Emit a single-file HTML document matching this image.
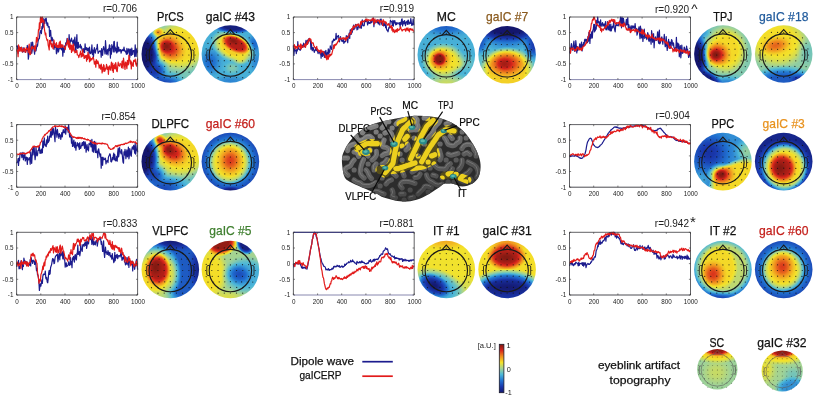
<!DOCTYPE html><html><head><meta charset="utf-8"><title>Figure</title><style>html,body{margin:0;padding:0;background:#fff;}svg{display:block;}</style></head><body><svg width="815" height="399" viewBox="0 0 815 399" font-family='"Liberation Sans", sans-serif'><defs><filter id="jet" x="-5%" y="-5%" width="110%" height="110%" color-interpolation-filters="sRGB">
<feComponentTransfer>
<feFuncR type="table" tableValues="0.08 0.10 0.13 0.30 0.64 0.96 0.94 0.84 0.49"/>
<feFuncG type="table" tableValues="0.09 0.22 0.45 0.72 0.83 0.89 0.55 0.14 0.10"/>
<feFuncB type="table" tableValues="0.43 0.68 0.82 0.85 0.58 0.16 0.12 0.11 0.07"/>
</feComponentTransfer></filter><clipPath id="c1"><circle cx="170.3" cy="54.0" r="28.8"/></clipPath><radialGradient id="g1_0"><stop offset="0" stop-color="rgb(163,163,163)" stop-opacity="1.000"/><stop offset="0.5" stop-color="rgb(163,163,163)" stop-opacity="1.000"/><stop offset="0.7" stop-color="rgb(163,163,163)" stop-opacity="0.700"/><stop offset="0.85" stop-color="rgb(163,163,163)" stop-opacity="0.300"/><stop offset="1" stop-color="rgb(163,163,163)" stop-opacity="0.000"/></radialGradient><radialGradient id="g1_1"><stop offset="0" stop-color="rgb(36,36,36)" stop-opacity="1.000"/><stop offset="0.2" stop-color="rgb(36,36,36)" stop-opacity="0.920"/><stop offset="0.4" stop-color="rgb(36,36,36)" stop-opacity="0.720"/><stop offset="0.6" stop-color="rgb(36,36,36)" stop-opacity="0.420"/><stop offset="0.8" stop-color="rgb(36,36,36)" stop-opacity="0.150"/><stop offset="1" stop-color="rgb(36,36,36)" stop-opacity="0.000"/></radialGradient><radialGradient id="g1_2"><stop offset="0" stop-color="rgb(115,115,115)" stop-opacity="0.700"/><stop offset="0.2" stop-color="rgb(115,115,115)" stop-opacity="0.644"/><stop offset="0.4" stop-color="rgb(115,115,115)" stop-opacity="0.504"/><stop offset="0.6" stop-color="rgb(115,115,115)" stop-opacity="0.294"/><stop offset="0.8" stop-color="rgb(115,115,115)" stop-opacity="0.105"/><stop offset="1" stop-color="rgb(115,115,115)" stop-opacity="0.000"/></radialGradient><radialGradient id="g1_3"><stop offset="0" stop-color="rgb(0,0,0)" stop-opacity="1.000"/><stop offset="0.5" stop-color="rgb(0,0,0)" stop-opacity="1.000"/><stop offset="0.7" stop-color="rgb(0,0,0)" stop-opacity="0.700"/><stop offset="0.85" stop-color="rgb(0,0,0)" stop-opacity="0.300"/><stop offset="1" stop-color="rgb(0,0,0)" stop-opacity="0.000"/></radialGradient><radialGradient id="g1_4"><stop offset="0" stop-color="rgb(26,26,26)" stop-opacity="0.950"/><stop offset="0.2" stop-color="rgb(26,26,26)" stop-opacity="0.874"/><stop offset="0.4" stop-color="rgb(26,26,26)" stop-opacity="0.684"/><stop offset="0.6" stop-color="rgb(26,26,26)" stop-opacity="0.399"/><stop offset="0.8" stop-color="rgb(26,26,26)" stop-opacity="0.142"/><stop offset="1" stop-color="rgb(26,26,26)" stop-opacity="0.000"/></radialGradient><radialGradient id="g1_5"><stop offset="0" stop-color="rgb(204,204,204)" stop-opacity="0.850"/><stop offset="0.2" stop-color="rgb(204,204,204)" stop-opacity="0.782"/><stop offset="0.4" stop-color="rgb(204,204,204)" stop-opacity="0.612"/><stop offset="0.6" stop-color="rgb(204,204,204)" stop-opacity="0.357"/><stop offset="0.8" stop-color="rgb(204,204,204)" stop-opacity="0.128"/><stop offset="1" stop-color="rgb(204,204,204)" stop-opacity="0.000"/></radialGradient><radialGradient id="g1_6"><stop offset="0" stop-color="rgb(230,230,230)" stop-opacity="1.000"/><stop offset="0.2" stop-color="rgb(230,230,230)" stop-opacity="0.920"/><stop offset="0.4" stop-color="rgb(230,230,230)" stop-opacity="0.720"/><stop offset="0.6" stop-color="rgb(230,230,230)" stop-opacity="0.420"/><stop offset="0.8" stop-color="rgb(230,230,230)" stop-opacity="0.150"/><stop offset="1" stop-color="rgb(230,230,230)" stop-opacity="0.000"/></radialGradient><radialGradient id="g1_7"><stop offset="0" stop-color="rgb(255,255,255)" stop-opacity="0.900"/><stop offset="0.2" stop-color="rgb(255,255,255)" stop-opacity="0.828"/><stop offset="0.4" stop-color="rgb(255,255,255)" stop-opacity="0.648"/><stop offset="0.6" stop-color="rgb(255,255,255)" stop-opacity="0.378"/><stop offset="0.8" stop-color="rgb(255,255,255)" stop-opacity="0.135"/><stop offset="1" stop-color="rgb(255,255,255)" stop-opacity="0.000"/></radialGradient><clipPath id="c2"><circle cx="230.4" cy="54.0" r="28.8"/></clipPath><radialGradient id="g2_0"><stop offset="0" stop-color="rgb(8,8,8)" stop-opacity="1.000"/><stop offset="0.5" stop-color="rgb(8,8,8)" stop-opacity="1.000"/><stop offset="0.7" stop-color="rgb(8,8,8)" stop-opacity="0.700"/><stop offset="0.85" stop-color="rgb(8,8,8)" stop-opacity="0.300"/><stop offset="1" stop-color="rgb(8,8,8)" stop-opacity="0.000"/></radialGradient><radialGradient id="g2_1"><stop offset="0" stop-color="rgb(51,51,51)" stop-opacity="0.800"/><stop offset="0.2" stop-color="rgb(51,51,51)" stop-opacity="0.736"/><stop offset="0.4" stop-color="rgb(51,51,51)" stop-opacity="0.576"/><stop offset="0.6" stop-color="rgb(51,51,51)" stop-opacity="0.336"/><stop offset="0.8" stop-color="rgb(51,51,51)" stop-opacity="0.120"/><stop offset="1" stop-color="rgb(51,51,51)" stop-opacity="0.000"/></radialGradient><radialGradient id="g2_2"><stop offset="0" stop-color="rgb(51,51,51)" stop-opacity="0.850"/><stop offset="0.2" stop-color="rgb(51,51,51)" stop-opacity="0.782"/><stop offset="0.4" stop-color="rgb(51,51,51)" stop-opacity="0.612"/><stop offset="0.6" stop-color="rgb(51,51,51)" stop-opacity="0.357"/><stop offset="0.8" stop-color="rgb(51,51,51)" stop-opacity="0.128"/><stop offset="1" stop-color="rgb(51,51,51)" stop-opacity="0.000"/></radialGradient><radialGradient id="g2_3"><stop offset="0" stop-color="rgb(64,64,64)" stop-opacity="0.700"/><stop offset="0.2" stop-color="rgb(64,64,64)" stop-opacity="0.644"/><stop offset="0.4" stop-color="rgb(64,64,64)" stop-opacity="0.504"/><stop offset="0.6" stop-color="rgb(64,64,64)" stop-opacity="0.294"/><stop offset="0.8" stop-color="rgb(64,64,64)" stop-opacity="0.105"/><stop offset="1" stop-color="rgb(64,64,64)" stop-opacity="0.000"/></radialGradient><radialGradient id="g2_4"><stop offset="0" stop-color="rgb(64,64,64)" stop-opacity="0.700"/><stop offset="0.2" stop-color="rgb(64,64,64)" stop-opacity="0.644"/><stop offset="0.4" stop-color="rgb(64,64,64)" stop-opacity="0.504"/><stop offset="0.6" stop-color="rgb(64,64,64)" stop-opacity="0.294"/><stop offset="0.8" stop-color="rgb(64,64,64)" stop-opacity="0.105"/><stop offset="1" stop-color="rgb(64,64,64)" stop-opacity="0.000"/></radialGradient><radialGradient id="g2_5"><stop offset="0" stop-color="rgb(122,122,122)" stop-opacity="0.800"/><stop offset="0.2" stop-color="rgb(122,122,122)" stop-opacity="0.736"/><stop offset="0.4" stop-color="rgb(122,122,122)" stop-opacity="0.576"/><stop offset="0.6" stop-color="rgb(122,122,122)" stop-opacity="0.336"/><stop offset="0.8" stop-color="rgb(122,122,122)" stop-opacity="0.120"/><stop offset="1" stop-color="rgb(122,122,122)" stop-opacity="0.000"/></radialGradient><radialGradient id="g2_6"><stop offset="0" stop-color="rgb(166,166,166)" stop-opacity="1.000"/><stop offset="0.5" stop-color="rgb(166,166,166)" stop-opacity="1.000"/><stop offset="0.7" stop-color="rgb(166,166,166)" stop-opacity="0.700"/><stop offset="0.85" stop-color="rgb(166,166,166)" stop-opacity="0.300"/><stop offset="1" stop-color="rgb(166,166,166)" stop-opacity="0.000"/></radialGradient><radialGradient id="g2_7"><stop offset="0" stop-color="rgb(158,158,158)" stop-opacity="0.900"/><stop offset="0.2" stop-color="rgb(158,158,158)" stop-opacity="0.828"/><stop offset="0.4" stop-color="rgb(158,158,158)" stop-opacity="0.648"/><stop offset="0.6" stop-color="rgb(158,158,158)" stop-opacity="0.378"/><stop offset="0.8" stop-color="rgb(158,158,158)" stop-opacity="0.135"/><stop offset="1" stop-color="rgb(158,158,158)" stop-opacity="0.000"/></radialGradient><radialGradient id="g2_8"><stop offset="0" stop-color="rgb(235,235,235)" stop-opacity="1.000"/><stop offset="0.5" stop-color="rgb(235,235,235)" stop-opacity="1.000"/><stop offset="0.7" stop-color="rgb(235,235,235)" stop-opacity="0.700"/><stop offset="0.85" stop-color="rgb(235,235,235)" stop-opacity="0.300"/><stop offset="1" stop-color="rgb(235,235,235)" stop-opacity="0.000"/></radialGradient><radialGradient id="g2_9"><stop offset="0" stop-color="rgb(255,255,255)" stop-opacity="0.800"/><stop offset="0.2" stop-color="rgb(255,255,255)" stop-opacity="0.736"/><stop offset="0.4" stop-color="rgb(255,255,255)" stop-opacity="0.576"/><stop offset="0.6" stop-color="rgb(255,255,255)" stop-opacity="0.336"/><stop offset="0.8" stop-color="rgb(255,255,255)" stop-opacity="0.120"/><stop offset="1" stop-color="rgb(255,255,255)" stop-opacity="0.000"/></radialGradient><clipPath id="c3"><circle cx="446.3" cy="54.8" r="28.8"/></clipPath><radialGradient id="g3_0"><stop offset="0" stop-color="rgb(51,51,51)" stop-opacity="1.000"/><stop offset="0.2" stop-color="rgb(51,51,51)" stop-opacity="0.920"/><stop offset="0.4" stop-color="rgb(51,51,51)" stop-opacity="0.720"/><stop offset="0.6" stop-color="rgb(51,51,51)" stop-opacity="0.420"/><stop offset="0.8" stop-color="rgb(51,51,51)" stop-opacity="0.150"/><stop offset="1" stop-color="rgb(51,51,51)" stop-opacity="0.000"/></radialGradient><radialGradient id="g3_1"><stop offset="0" stop-color="rgb(143,143,143)" stop-opacity="1.000"/><stop offset="0.2" stop-color="rgb(143,143,143)" stop-opacity="0.920"/><stop offset="0.4" stop-color="rgb(143,143,143)" stop-opacity="0.720"/><stop offset="0.6" stop-color="rgb(143,143,143)" stop-opacity="0.420"/><stop offset="0.8" stop-color="rgb(143,143,143)" stop-opacity="0.150"/><stop offset="1" stop-color="rgb(143,143,143)" stop-opacity="0.000"/></radialGradient><radialGradient id="g3_2"><stop offset="0" stop-color="rgb(115,115,115)" stop-opacity="0.700"/><stop offset="0.2" stop-color="rgb(115,115,115)" stop-opacity="0.644"/><stop offset="0.4" stop-color="rgb(115,115,115)" stop-opacity="0.504"/><stop offset="0.6" stop-color="rgb(115,115,115)" stop-opacity="0.294"/><stop offset="0.8" stop-color="rgb(115,115,115)" stop-opacity="0.105"/><stop offset="1" stop-color="rgb(115,115,115)" stop-opacity="0.000"/></radialGradient><radialGradient id="g3_3"><stop offset="0" stop-color="rgb(163,163,163)" stop-opacity="1.000"/><stop offset="0.5" stop-color="rgb(163,163,163)" stop-opacity="1.000"/><stop offset="0.7" stop-color="rgb(163,163,163)" stop-opacity="0.700"/><stop offset="0.85" stop-color="rgb(163,163,163)" stop-opacity="0.300"/><stop offset="1" stop-color="rgb(163,163,163)" stop-opacity="0.000"/></radialGradient><radialGradient id="g3_4"><stop offset="0" stop-color="rgb(158,158,158)" stop-opacity="0.800"/><stop offset="0.2" stop-color="rgb(158,158,158)" stop-opacity="0.736"/><stop offset="0.4" stop-color="rgb(158,158,158)" stop-opacity="0.576"/><stop offset="0.6" stop-color="rgb(158,158,158)" stop-opacity="0.336"/><stop offset="0.8" stop-color="rgb(158,158,158)" stop-opacity="0.120"/><stop offset="1" stop-color="rgb(158,158,158)" stop-opacity="0.000"/></radialGradient><radialGradient id="g3_5"><stop offset="0" stop-color="rgb(230,230,230)" stop-opacity="1.000"/><stop offset="0.2" stop-color="rgb(230,230,230)" stop-opacity="0.920"/><stop offset="0.4" stop-color="rgb(230,230,230)" stop-opacity="0.720"/><stop offset="0.6" stop-color="rgb(230,230,230)" stop-opacity="0.420"/><stop offset="0.8" stop-color="rgb(230,230,230)" stop-opacity="0.150"/><stop offset="1" stop-color="rgb(230,230,230)" stop-opacity="0.000"/></radialGradient><radialGradient id="g3_6"><stop offset="0" stop-color="rgb(255,255,255)" stop-opacity="0.900"/><stop offset="0.5" stop-color="rgb(255,255,255)" stop-opacity="0.900"/><stop offset="0.7" stop-color="rgb(255,255,255)" stop-opacity="0.630"/><stop offset="0.85" stop-color="rgb(255,255,255)" stop-opacity="0.270"/><stop offset="1" stop-color="rgb(255,255,255)" stop-opacity="0.000"/></radialGradient><clipPath id="c4"><circle cx="507.1" cy="54.8" r="28.8"/></clipPath><radialGradient id="g4_0"><stop offset="0" stop-color="rgb(0,0,0)" stop-opacity="1.000"/><stop offset="0.5" stop-color="rgb(0,0,0)" stop-opacity="1.000"/><stop offset="0.7" stop-color="rgb(0,0,0)" stop-opacity="0.700"/><stop offset="0.85" stop-color="rgb(0,0,0)" stop-opacity="0.300"/><stop offset="1" stop-color="rgb(0,0,0)" stop-opacity="0.000"/></radialGradient><radialGradient id="g4_1"><stop offset="0" stop-color="rgb(20,20,20)" stop-opacity="0.900"/><stop offset="0.2" stop-color="rgb(20,20,20)" stop-opacity="0.828"/><stop offset="0.4" stop-color="rgb(20,20,20)" stop-opacity="0.648"/><stop offset="0.6" stop-color="rgb(20,20,20)" stop-opacity="0.378"/><stop offset="0.8" stop-color="rgb(20,20,20)" stop-opacity="0.135"/><stop offset="1" stop-color="rgb(20,20,20)" stop-opacity="0.000"/></radialGradient><radialGradient id="g4_2"><stop offset="0" stop-color="rgb(31,31,31)" stop-opacity="0.800"/><stop offset="0.2" stop-color="rgb(31,31,31)" stop-opacity="0.736"/><stop offset="0.4" stop-color="rgb(31,31,31)" stop-opacity="0.576"/><stop offset="0.6" stop-color="rgb(31,31,31)" stop-opacity="0.336"/><stop offset="0.8" stop-color="rgb(31,31,31)" stop-opacity="0.120"/><stop offset="1" stop-color="rgb(31,31,31)" stop-opacity="0.000"/></radialGradient><radialGradient id="g4_3"><stop offset="0" stop-color="rgb(64,64,64)" stop-opacity="0.600"/><stop offset="0.2" stop-color="rgb(64,64,64)" stop-opacity="0.552"/><stop offset="0.4" stop-color="rgb(64,64,64)" stop-opacity="0.432"/><stop offset="0.6" stop-color="rgb(64,64,64)" stop-opacity="0.252"/><stop offset="0.8" stop-color="rgb(64,64,64)" stop-opacity="0.090"/><stop offset="1" stop-color="rgb(64,64,64)" stop-opacity="0.000"/></radialGradient><radialGradient id="g4_4"><stop offset="0" stop-color="rgb(166,166,166)" stop-opacity="1.000"/><stop offset="0.62" stop-color="rgb(166,166,166)" stop-opacity="1.000"/><stop offset="0.78" stop-color="rgb(166,166,166)" stop-opacity="0.720"/><stop offset="0.9" stop-color="rgb(166,166,166)" stop-opacity="0.320"/><stop offset="1" stop-color="rgb(166,166,166)" stop-opacity="0.000"/></radialGradient><radialGradient id="g4_5"><stop offset="0" stop-color="rgb(230,230,230)" stop-opacity="1.000"/><stop offset="0.2" stop-color="rgb(230,230,230)" stop-opacity="0.920"/><stop offset="0.4" stop-color="rgb(230,230,230)" stop-opacity="0.720"/><stop offset="0.6" stop-color="rgb(230,230,230)" stop-opacity="0.420"/><stop offset="0.8" stop-color="rgb(230,230,230)" stop-opacity="0.150"/><stop offset="1" stop-color="rgb(230,230,230)" stop-opacity="0.000"/></radialGradient><radialGradient id="g4_6"><stop offset="0" stop-color="rgb(247,247,247)" stop-opacity="0.700"/><stop offset="0.2" stop-color="rgb(247,247,247)" stop-opacity="0.644"/><stop offset="0.4" stop-color="rgb(247,247,247)" stop-opacity="0.504"/><stop offset="0.6" stop-color="rgb(247,247,247)" stop-opacity="0.294"/><stop offset="0.8" stop-color="rgb(247,247,247)" stop-opacity="0.105"/><stop offset="1" stop-color="rgb(247,247,247)" stop-opacity="0.000"/></radialGradient><clipPath id="c5"><circle cx="722.9" cy="54.0" r="28.8"/></clipPath><radialGradient id="g5_0"><stop offset="0" stop-color="rgb(163,163,163)" stop-opacity="1.000"/><stop offset="0.5" stop-color="rgb(163,163,163)" stop-opacity="1.000"/><stop offset="0.7" stop-color="rgb(163,163,163)" stop-opacity="0.700"/><stop offset="0.85" stop-color="rgb(163,163,163)" stop-opacity="0.300"/><stop offset="1" stop-color="rgb(163,163,163)" stop-opacity="0.000"/></radialGradient><radialGradient id="g5_1"><stop offset="0" stop-color="rgb(71,71,71)" stop-opacity="0.900"/><stop offset="0.2" stop-color="rgb(71,71,71)" stop-opacity="0.828"/><stop offset="0.4" stop-color="rgb(71,71,71)" stop-opacity="0.648"/><stop offset="0.6" stop-color="rgb(71,71,71)" stop-opacity="0.378"/><stop offset="0.8" stop-color="rgb(71,71,71)" stop-opacity="0.135"/><stop offset="1" stop-color="rgb(71,71,71)" stop-opacity="0.000"/></radialGradient><radialGradient id="g5_2"><stop offset="0" stop-color="rgb(64,64,64)" stop-opacity="1.000"/><stop offset="0.2" stop-color="rgb(64,64,64)" stop-opacity="0.920"/><stop offset="0.4" stop-color="rgb(64,64,64)" stop-opacity="0.720"/><stop offset="0.6" stop-color="rgb(64,64,64)" stop-opacity="0.420"/><stop offset="0.8" stop-color="rgb(64,64,64)" stop-opacity="0.150"/><stop offset="1" stop-color="rgb(64,64,64)" stop-opacity="0.000"/></radialGradient><radialGradient id="g5_3"><stop offset="0" stop-color="rgb(0,0,0)" stop-opacity="1.000"/><stop offset="0.5" stop-color="rgb(0,0,0)" stop-opacity="1.000"/><stop offset="0.7" stop-color="rgb(0,0,0)" stop-opacity="0.700"/><stop offset="0.85" stop-color="rgb(0,0,0)" stop-opacity="0.300"/><stop offset="1" stop-color="rgb(0,0,0)" stop-opacity="0.000"/></radialGradient><radialGradient id="g5_4"><stop offset="0" stop-color="rgb(8,8,8)" stop-opacity="1.000"/><stop offset="0.5" stop-color="rgb(8,8,8)" stop-opacity="1.000"/><stop offset="0.7" stop-color="rgb(8,8,8)" stop-opacity="0.700"/><stop offset="0.85" stop-color="rgb(8,8,8)" stop-opacity="0.300"/><stop offset="1" stop-color="rgb(8,8,8)" stop-opacity="0.000"/></radialGradient><radialGradient id="g5_5"><stop offset="0" stop-color="rgb(235,235,235)" stop-opacity="1.000"/><stop offset="0.2" stop-color="rgb(235,235,235)" stop-opacity="0.920"/><stop offset="0.4" stop-color="rgb(235,235,235)" stop-opacity="0.720"/><stop offset="0.6" stop-color="rgb(235,235,235)" stop-opacity="0.420"/><stop offset="0.8" stop-color="rgb(235,235,235)" stop-opacity="0.150"/><stop offset="1" stop-color="rgb(235,235,235)" stop-opacity="0.000"/></radialGradient><radialGradient id="g5_6"><stop offset="0" stop-color="rgb(255,255,255)" stop-opacity="0.900"/><stop offset="0.2" stop-color="rgb(255,255,255)" stop-opacity="0.828"/><stop offset="0.4" stop-color="rgb(255,255,255)" stop-opacity="0.648"/><stop offset="0.6" stop-color="rgb(255,255,255)" stop-opacity="0.378"/><stop offset="0.8" stop-color="rgb(255,255,255)" stop-opacity="0.135"/><stop offset="1" stop-color="rgb(255,255,255)" stop-opacity="0.000"/></radialGradient><clipPath id="c6"><circle cx="783.7" cy="54.0" r="28.8"/></clipPath><radialGradient id="g6_0"><stop offset="0" stop-color="rgb(161,161,161)" stop-opacity="1.000"/><stop offset="0.5" stop-color="rgb(161,161,161)" stop-opacity="1.000"/><stop offset="0.7" stop-color="rgb(161,161,161)" stop-opacity="0.700"/><stop offset="0.85" stop-color="rgb(161,161,161)" stop-opacity="0.300"/><stop offset="1" stop-color="rgb(161,161,161)" stop-opacity="0.000"/></radialGradient><radialGradient id="g6_1"><stop offset="0" stop-color="rgb(107,107,107)" stop-opacity="0.900"/><stop offset="0.2" stop-color="rgb(107,107,107)" stop-opacity="0.828"/><stop offset="0.4" stop-color="rgb(107,107,107)" stop-opacity="0.648"/><stop offset="0.6" stop-color="rgb(107,107,107)" stop-opacity="0.378"/><stop offset="0.8" stop-color="rgb(107,107,107)" stop-opacity="0.135"/><stop offset="1" stop-color="rgb(107,107,107)" stop-opacity="0.000"/></radialGradient><radialGradient id="g6_2"><stop offset="0" stop-color="rgb(51,51,51)" stop-opacity="1.000"/><stop offset="0.5" stop-color="rgb(51,51,51)" stop-opacity="1.000"/><stop offset="0.7" stop-color="rgb(51,51,51)" stop-opacity="0.700"/><stop offset="0.85" stop-color="rgb(51,51,51)" stop-opacity="0.300"/><stop offset="1" stop-color="rgb(51,51,51)" stop-opacity="0.000"/></radialGradient><radialGradient id="g6_3"><stop offset="0" stop-color="rgb(0,0,0)" stop-opacity="0.900"/><stop offset="0.2" stop-color="rgb(0,0,0)" stop-opacity="0.828"/><stop offset="0.4" stop-color="rgb(0,0,0)" stop-opacity="0.648"/><stop offset="0.6" stop-color="rgb(0,0,0)" stop-opacity="0.378"/><stop offset="0.8" stop-color="rgb(0,0,0)" stop-opacity="0.135"/><stop offset="1" stop-color="rgb(0,0,0)" stop-opacity="0.000"/></radialGradient><radialGradient id="g6_4"><stop offset="0" stop-color="rgb(204,204,204)" stop-opacity="1.000"/><stop offset="0.2" stop-color="rgb(204,204,204)" stop-opacity="0.920"/><stop offset="0.4" stop-color="rgb(204,204,204)" stop-opacity="0.720"/><stop offset="0.6" stop-color="rgb(204,204,204)" stop-opacity="0.420"/><stop offset="0.8" stop-color="rgb(204,204,204)" stop-opacity="0.150"/><stop offset="1" stop-color="rgb(204,204,204)" stop-opacity="0.000"/></radialGradient><clipPath id="c7"><circle cx="170.3" cy="161.6" r="28.8"/></clipPath><radialGradient id="g7_0"><stop offset="0" stop-color="rgb(163,163,163)" stop-opacity="1.000"/><stop offset="0.5" stop-color="rgb(163,163,163)" stop-opacity="1.000"/><stop offset="0.7" stop-color="rgb(163,163,163)" stop-opacity="0.700"/><stop offset="0.85" stop-color="rgb(163,163,163)" stop-opacity="0.300"/><stop offset="1" stop-color="rgb(163,163,163)" stop-opacity="0.000"/></radialGradient><radialGradient id="g7_1"><stop offset="0" stop-color="rgb(41,41,41)" stop-opacity="1.000"/><stop offset="0.2" stop-color="rgb(41,41,41)" stop-opacity="0.920"/><stop offset="0.4" stop-color="rgb(41,41,41)" stop-opacity="0.720"/><stop offset="0.6" stop-color="rgb(41,41,41)" stop-opacity="0.420"/><stop offset="0.8" stop-color="rgb(41,41,41)" stop-opacity="0.150"/><stop offset="1" stop-color="rgb(41,41,41)" stop-opacity="0.000"/></radialGradient><radialGradient id="g7_2"><stop offset="0" stop-color="rgb(0,0,0)" stop-opacity="1.000"/><stop offset="0.5" stop-color="rgb(0,0,0)" stop-opacity="1.000"/><stop offset="0.7" stop-color="rgb(0,0,0)" stop-opacity="0.700"/><stop offset="0.85" stop-color="rgb(0,0,0)" stop-opacity="0.300"/><stop offset="1" stop-color="rgb(0,0,0)" stop-opacity="0.000"/></radialGradient><radialGradient id="g7_3"><stop offset="0" stop-color="rgb(31,31,31)" stop-opacity="0.900"/><stop offset="0.2" stop-color="rgb(31,31,31)" stop-opacity="0.828"/><stop offset="0.4" stop-color="rgb(31,31,31)" stop-opacity="0.648"/><stop offset="0.6" stop-color="rgb(31,31,31)" stop-opacity="0.378"/><stop offset="0.8" stop-color="rgb(31,31,31)" stop-opacity="0.135"/><stop offset="1" stop-color="rgb(31,31,31)" stop-opacity="0.000"/></radialGradient><radialGradient id="g7_4"><stop offset="0" stop-color="rgb(230,230,230)" stop-opacity="1.000"/><stop offset="0.2" stop-color="rgb(230,230,230)" stop-opacity="0.920"/><stop offset="0.4" stop-color="rgb(230,230,230)" stop-opacity="0.720"/><stop offset="0.6" stop-color="rgb(230,230,230)" stop-opacity="0.420"/><stop offset="0.8" stop-color="rgb(230,230,230)" stop-opacity="0.150"/><stop offset="1" stop-color="rgb(230,230,230)" stop-opacity="0.000"/></radialGradient><radialGradient id="g7_5"><stop offset="0" stop-color="rgb(235,235,235)" stop-opacity="1.000"/><stop offset="0.2" stop-color="rgb(235,235,235)" stop-opacity="0.920"/><stop offset="0.4" stop-color="rgb(235,235,235)" stop-opacity="0.720"/><stop offset="0.6" stop-color="rgb(235,235,235)" stop-opacity="0.420"/><stop offset="0.8" stop-color="rgb(235,235,235)" stop-opacity="0.150"/><stop offset="1" stop-color="rgb(235,235,235)" stop-opacity="0.000"/></radialGradient><radialGradient id="g7_6"><stop offset="0" stop-color="rgb(255,255,255)" stop-opacity="0.900"/><stop offset="0.2" stop-color="rgb(255,255,255)" stop-opacity="0.828"/><stop offset="0.4" stop-color="rgb(255,255,255)" stop-opacity="0.648"/><stop offset="0.6" stop-color="rgb(255,255,255)" stop-opacity="0.378"/><stop offset="0.8" stop-color="rgb(255,255,255)" stop-opacity="0.135"/><stop offset="1" stop-color="rgb(255,255,255)" stop-opacity="0.000"/></radialGradient><clipPath id="c8"><circle cx="230.4" cy="161.6" r="28.8"/></clipPath><radialGradient id="g8_0"><stop offset="0" stop-color="rgb(97,97,97)" stop-opacity="1.000"/><stop offset="0.5" stop-color="rgb(97,97,97)" stop-opacity="1.000"/><stop offset="0.7" stop-color="rgb(97,97,97)" stop-opacity="0.700"/><stop offset="0.85" stop-color="rgb(97,97,97)" stop-opacity="0.300"/><stop offset="1" stop-color="rgb(97,97,97)" stop-opacity="0.000"/></radialGradient><radialGradient id="g8_1"><stop offset="0" stop-color="rgb(161,161,161)" stop-opacity="1.000"/><stop offset="0.62" stop-color="rgb(161,161,161)" stop-opacity="1.000"/><stop offset="0.78" stop-color="rgb(161,161,161)" stop-opacity="0.720"/><stop offset="0.9" stop-color="rgb(161,161,161)" stop-opacity="0.320"/><stop offset="1" stop-color="rgb(161,161,161)" stop-opacity="0.000"/></radialGradient><radialGradient id="g8_2"><stop offset="0" stop-color="rgb(217,217,217)" stop-opacity="1.000"/><stop offset="0.2" stop-color="rgb(217,217,217)" stop-opacity="0.920"/><stop offset="0.4" stop-color="rgb(217,217,217)" stop-opacity="0.720"/><stop offset="0.6" stop-color="rgb(217,217,217)" stop-opacity="0.420"/><stop offset="0.8" stop-color="rgb(217,217,217)" stop-opacity="0.150"/><stop offset="1" stop-color="rgb(217,217,217)" stop-opacity="0.000"/></radialGradient><radialGradient id="g8_3"><stop offset="0" stop-color="rgb(0,0,0)" stop-opacity="1.000"/><stop offset="0.2" stop-color="rgb(0,0,0)" stop-opacity="0.920"/><stop offset="0.4" stop-color="rgb(0,0,0)" stop-opacity="0.720"/><stop offset="0.6" stop-color="rgb(0,0,0)" stop-opacity="0.420"/><stop offset="0.8" stop-color="rgb(0,0,0)" stop-opacity="0.150"/><stop offset="1" stop-color="rgb(0,0,0)" stop-opacity="0.000"/></radialGradient><clipPath id="c9"><circle cx="722.9" cy="161.6" r="28.8"/></clipPath><radialGradient id="g9_0"><stop offset="0" stop-color="rgb(128,128,128)" stop-opacity="0.900"/><stop offset="0.2" stop-color="rgb(128,128,128)" stop-opacity="0.828"/><stop offset="0.4" stop-color="rgb(128,128,128)" stop-opacity="0.648"/><stop offset="0.6" stop-color="rgb(128,128,128)" stop-opacity="0.378"/><stop offset="0.8" stop-color="rgb(128,128,128)" stop-opacity="0.135"/><stop offset="1" stop-color="rgb(128,128,128)" stop-opacity="0.000"/></radialGradient><radialGradient id="g9_1"><stop offset="0" stop-color="rgb(26,26,26)" stop-opacity="1.000"/><stop offset="0.2" stop-color="rgb(26,26,26)" stop-opacity="0.920"/><stop offset="0.4" stop-color="rgb(26,26,26)" stop-opacity="0.720"/><stop offset="0.6" stop-color="rgb(26,26,26)" stop-opacity="0.420"/><stop offset="0.8" stop-color="rgb(26,26,26)" stop-opacity="0.150"/><stop offset="1" stop-color="rgb(26,26,26)" stop-opacity="0.000"/></radialGradient><radialGradient id="g9_2"><stop offset="0" stop-color="rgb(92,92,92)" stop-opacity="0.700"/><stop offset="0.2" stop-color="rgb(92,92,92)" stop-opacity="0.644"/><stop offset="0.4" stop-color="rgb(92,92,92)" stop-opacity="0.504"/><stop offset="0.6" stop-color="rgb(92,92,92)" stop-opacity="0.294"/><stop offset="0.8" stop-color="rgb(92,92,92)" stop-opacity="0.105"/><stop offset="1" stop-color="rgb(92,92,92)" stop-opacity="0.000"/></radialGradient><radialGradient id="g9_3"><stop offset="0" stop-color="rgb(163,163,163)" stop-opacity="1.000"/><stop offset="0.75" stop-color="rgb(163,163,163)" stop-opacity="1.000"/><stop offset="0.9" stop-color="rgb(163,163,163)" stop-opacity="0.500"/><stop offset="1" stop-color="rgb(163,163,163)" stop-opacity="0.000"/></radialGradient><radialGradient id="g9_4"><stop offset="0" stop-color="rgb(235,235,235)" stop-opacity="1.000"/><stop offset="0.2" stop-color="rgb(235,235,235)" stop-opacity="0.920"/><stop offset="0.4" stop-color="rgb(235,235,235)" stop-opacity="0.720"/><stop offset="0.6" stop-color="rgb(235,235,235)" stop-opacity="0.420"/><stop offset="0.8" stop-color="rgb(235,235,235)" stop-opacity="0.150"/><stop offset="1" stop-color="rgb(235,235,235)" stop-opacity="0.000"/></radialGradient><radialGradient id="g9_5"><stop offset="0" stop-color="rgb(255,255,255)" stop-opacity="0.900"/><stop offset="0.2" stop-color="rgb(255,255,255)" stop-opacity="0.828"/><stop offset="0.4" stop-color="rgb(255,255,255)" stop-opacity="0.648"/><stop offset="0.6" stop-color="rgb(255,255,255)" stop-opacity="0.378"/><stop offset="0.8" stop-color="rgb(255,255,255)" stop-opacity="0.135"/><stop offset="1" stop-color="rgb(255,255,255)" stop-opacity="0.000"/></radialGradient><clipPath id="c10"><circle cx="783.7" cy="161.6" r="28.8"/></clipPath><radialGradient id="g10_0"><stop offset="0" stop-color="rgb(92,92,92)" stop-opacity="1.000"/><stop offset="0.5" stop-color="rgb(92,92,92)" stop-opacity="1.000"/><stop offset="0.7" stop-color="rgb(92,92,92)" stop-opacity="0.700"/><stop offset="0.85" stop-color="rgb(92,92,92)" stop-opacity="0.300"/><stop offset="1" stop-color="rgb(92,92,92)" stop-opacity="0.000"/></radialGradient><radialGradient id="g10_1"><stop offset="0" stop-color="rgb(82,82,82)" stop-opacity="0.800"/><stop offset="0.2" stop-color="rgb(82,82,82)" stop-opacity="0.736"/><stop offset="0.4" stop-color="rgb(82,82,82)" stop-opacity="0.576"/><stop offset="0.6" stop-color="rgb(82,82,82)" stop-opacity="0.336"/><stop offset="0.8" stop-color="rgb(82,82,82)" stop-opacity="0.120"/><stop offset="1" stop-color="rgb(82,82,82)" stop-opacity="0.000"/></radialGradient><radialGradient id="g10_2"><stop offset="0" stop-color="rgb(163,163,163)" stop-opacity="1.000"/><stop offset="0.62" stop-color="rgb(163,163,163)" stop-opacity="1.000"/><stop offset="0.78" stop-color="rgb(163,163,163)" stop-opacity="0.720"/><stop offset="0.9" stop-color="rgb(163,163,163)" stop-opacity="0.320"/><stop offset="1" stop-color="rgb(163,163,163)" stop-opacity="0.000"/></radialGradient><radialGradient id="g10_3"><stop offset="0" stop-color="rgb(237,237,237)" stop-opacity="1.000"/><stop offset="0.5" stop-color="rgb(237,237,237)" stop-opacity="1.000"/><stop offset="0.7" stop-color="rgb(237,237,237)" stop-opacity="0.700"/><stop offset="0.85" stop-color="rgb(237,237,237)" stop-opacity="0.300"/><stop offset="1" stop-color="rgb(237,237,237)" stop-opacity="0.000"/></radialGradient><radialGradient id="g10_4"><stop offset="0" stop-color="rgb(255,255,255)" stop-opacity="0.850"/><stop offset="0.2" stop-color="rgb(255,255,255)" stop-opacity="0.782"/><stop offset="0.4" stop-color="rgb(255,255,255)" stop-opacity="0.612"/><stop offset="0.6" stop-color="rgb(255,255,255)" stop-opacity="0.357"/><stop offset="0.8" stop-color="rgb(255,255,255)" stop-opacity="0.128"/><stop offset="1" stop-color="rgb(255,255,255)" stop-opacity="0.000"/></radialGradient><clipPath id="c11"><circle cx="170.3" cy="269.5" r="28.8"/></clipPath><radialGradient id="g11_0"><stop offset="0" stop-color="rgb(0,0,0)" stop-opacity="1.000"/><stop offset="0.2" stop-color="rgb(0,0,0)" stop-opacity="0.920"/><stop offset="0.4" stop-color="rgb(0,0,0)" stop-opacity="0.720"/><stop offset="0.6" stop-color="rgb(0,0,0)" stop-opacity="0.420"/><stop offset="0.8" stop-color="rgb(0,0,0)" stop-opacity="0.150"/><stop offset="1" stop-color="rgb(0,0,0)" stop-opacity="0.000"/></radialGradient><radialGradient id="g11_1"><stop offset="0" stop-color="rgb(10,10,10)" stop-opacity="0.900"/><stop offset="0.2" stop-color="rgb(10,10,10)" stop-opacity="0.828"/><stop offset="0.4" stop-color="rgb(10,10,10)" stop-opacity="0.648"/><stop offset="0.6" stop-color="rgb(10,10,10)" stop-opacity="0.378"/><stop offset="0.8" stop-color="rgb(10,10,10)" stop-opacity="0.135"/><stop offset="1" stop-color="rgb(10,10,10)" stop-opacity="0.000"/></radialGradient><radialGradient id="g11_2"><stop offset="0" stop-color="rgb(92,92,92)" stop-opacity="0.900"/><stop offset="0.2" stop-color="rgb(92,92,92)" stop-opacity="0.828"/><stop offset="0.4" stop-color="rgb(92,92,92)" stop-opacity="0.648"/><stop offset="0.6" stop-color="rgb(92,92,92)" stop-opacity="0.378"/><stop offset="0.8" stop-color="rgb(92,92,92)" stop-opacity="0.135"/><stop offset="1" stop-color="rgb(92,92,92)" stop-opacity="0.000"/></radialGradient><radialGradient id="g11_3"><stop offset="0" stop-color="rgb(128,128,128)" stop-opacity="0.900"/><stop offset="0.2" stop-color="rgb(128,128,128)" stop-opacity="0.828"/><stop offset="0.4" stop-color="rgb(128,128,128)" stop-opacity="0.648"/><stop offset="0.6" stop-color="rgb(128,128,128)" stop-opacity="0.378"/><stop offset="0.8" stop-color="rgb(128,128,128)" stop-opacity="0.135"/><stop offset="1" stop-color="rgb(128,128,128)" stop-opacity="0.000"/></radialGradient><radialGradient id="g11_4"><stop offset="0" stop-color="rgb(163,163,163)" stop-opacity="1.000"/><stop offset="0.5" stop-color="rgb(163,163,163)" stop-opacity="1.000"/><stop offset="0.7" stop-color="rgb(163,163,163)" stop-opacity="0.700"/><stop offset="0.85" stop-color="rgb(163,163,163)" stop-opacity="0.300"/><stop offset="1" stop-color="rgb(163,163,163)" stop-opacity="0.000"/></radialGradient><radialGradient id="g11_5"><stop offset="0" stop-color="rgb(237,237,237)" stop-opacity="1.000"/><stop offset="0.5" stop-color="rgb(237,237,237)" stop-opacity="1.000"/><stop offset="0.7" stop-color="rgb(237,237,237)" stop-opacity="0.700"/><stop offset="0.85" stop-color="rgb(237,237,237)" stop-opacity="0.300"/><stop offset="1" stop-color="rgb(237,237,237)" stop-opacity="0.000"/></radialGradient><radialGradient id="g11_6"><stop offset="0" stop-color="rgb(255,255,255)" stop-opacity="0.900"/><stop offset="0.2" stop-color="rgb(255,255,255)" stop-opacity="0.828"/><stop offset="0.4" stop-color="rgb(255,255,255)" stop-opacity="0.648"/><stop offset="0.6" stop-color="rgb(255,255,255)" stop-opacity="0.378"/><stop offset="0.8" stop-color="rgb(255,255,255)" stop-opacity="0.135"/><stop offset="1" stop-color="rgb(255,255,255)" stop-opacity="0.000"/></radialGradient><clipPath id="c12"><circle cx="230.4" cy="269.5" r="28.8"/></clipPath><radialGradient id="g12_0"><stop offset="0" stop-color="rgb(161,161,161)" stop-opacity="1.000"/><stop offset="0.5" stop-color="rgb(161,161,161)" stop-opacity="1.000"/><stop offset="0.7" stop-color="rgb(161,161,161)" stop-opacity="0.700"/><stop offset="0.85" stop-color="rgb(161,161,161)" stop-opacity="0.300"/><stop offset="1" stop-color="rgb(161,161,161)" stop-opacity="0.000"/></radialGradient><radialGradient id="g12_1"><stop offset="0" stop-color="rgb(153,153,153)" stop-opacity="0.900"/><stop offset="0.2" stop-color="rgb(153,153,153)" stop-opacity="0.828"/><stop offset="0.4" stop-color="rgb(153,153,153)" stop-opacity="0.648"/><stop offset="0.6" stop-color="rgb(153,153,153)" stop-opacity="0.378"/><stop offset="0.8" stop-color="rgb(153,153,153)" stop-opacity="0.135"/><stop offset="1" stop-color="rgb(153,153,153)" stop-opacity="0.000"/></radialGradient><radialGradient id="g12_2"><stop offset="0" stop-color="rgb(92,92,92)" stop-opacity="1.000"/><stop offset="0.5" stop-color="rgb(92,92,92)" stop-opacity="1.000"/><stop offset="0.7" stop-color="rgb(92,92,92)" stop-opacity="0.700"/><stop offset="0.85" stop-color="rgb(92,92,92)" stop-opacity="0.300"/><stop offset="1" stop-color="rgb(92,92,92)" stop-opacity="0.000"/></radialGradient><radialGradient id="g12_3"><stop offset="0" stop-color="rgb(43,43,43)" stop-opacity="1.000"/><stop offset="0.2" stop-color="rgb(43,43,43)" stop-opacity="0.920"/><stop offset="0.4" stop-color="rgb(43,43,43)" stop-opacity="0.720"/><stop offset="0.6" stop-color="rgb(43,43,43)" stop-opacity="0.420"/><stop offset="0.8" stop-color="rgb(43,43,43)" stop-opacity="0.150"/><stop offset="1" stop-color="rgb(43,43,43)" stop-opacity="0.000"/></radialGradient><radialGradient id="g12_4"><stop offset="0" stop-color="rgb(158,158,158)" stop-opacity="0.900"/><stop offset="0.2" stop-color="rgb(158,158,158)" stop-opacity="0.828"/><stop offset="0.4" stop-color="rgb(158,158,158)" stop-opacity="0.648"/><stop offset="0.6" stop-color="rgb(158,158,158)" stop-opacity="0.378"/><stop offset="0.8" stop-color="rgb(158,158,158)" stop-opacity="0.135"/><stop offset="1" stop-color="rgb(158,158,158)" stop-opacity="0.000"/></radialGradient><radialGradient id="g12_5"><stop offset="0" stop-color="rgb(247,247,247)" stop-opacity="1.000"/><stop offset="0.5" stop-color="rgb(247,247,247)" stop-opacity="1.000"/><stop offset="0.7" stop-color="rgb(247,247,247)" stop-opacity="0.700"/><stop offset="0.85" stop-color="rgb(247,247,247)" stop-opacity="0.300"/><stop offset="1" stop-color="rgb(247,247,247)" stop-opacity="0.000"/></radialGradient><radialGradient id="g12_6"><stop offset="0" stop-color="rgb(10,10,10)" stop-opacity="1.000"/><stop offset="0.5" stop-color="rgb(10,10,10)" stop-opacity="1.000"/><stop offset="0.7" stop-color="rgb(10,10,10)" stop-opacity="0.700"/><stop offset="0.85" stop-color="rgb(10,10,10)" stop-opacity="0.300"/><stop offset="1" stop-color="rgb(10,10,10)" stop-opacity="0.000"/></radialGradient><clipPath id="c13"><circle cx="446.3" cy="269.5" r="28.8"/></clipPath><radialGradient id="g13_0"><stop offset="0" stop-color="rgb(184,184,184)" stop-opacity="0.900"/><stop offset="0.2" stop-color="rgb(184,184,184)" stop-opacity="0.828"/><stop offset="0.4" stop-color="rgb(184,184,184)" stop-opacity="0.648"/><stop offset="0.6" stop-color="rgb(184,184,184)" stop-opacity="0.378"/><stop offset="0.8" stop-color="rgb(184,184,184)" stop-opacity="0.135"/><stop offset="1" stop-color="rgb(184,184,184)" stop-opacity="0.000"/></radialGradient><radialGradient id="g13_1"><stop offset="0" stop-color="rgb(143,143,143)" stop-opacity="0.700"/><stop offset="0.2" stop-color="rgb(143,143,143)" stop-opacity="0.644"/><stop offset="0.4" stop-color="rgb(143,143,143)" stop-opacity="0.504"/><stop offset="0.6" stop-color="rgb(143,143,143)" stop-opacity="0.294"/><stop offset="0.8" stop-color="rgb(143,143,143)" stop-opacity="0.105"/><stop offset="1" stop-color="rgb(143,143,143)" stop-opacity="0.000"/></radialGradient><radialGradient id="g13_2"><stop offset="0" stop-color="rgb(92,92,92)" stop-opacity="1.000"/><stop offset="0.5" stop-color="rgb(92,92,92)" stop-opacity="1.000"/><stop offset="0.7" stop-color="rgb(92,92,92)" stop-opacity="0.700"/><stop offset="0.85" stop-color="rgb(92,92,92)" stop-opacity="0.300"/><stop offset="1" stop-color="rgb(92,92,92)" stop-opacity="0.000"/></radialGradient><radialGradient id="g13_3"><stop offset="0" stop-color="rgb(31,31,31)" stop-opacity="1.000"/><stop offset="0.5" stop-color="rgb(31,31,31)" stop-opacity="1.000"/><stop offset="0.7" stop-color="rgb(31,31,31)" stop-opacity="0.700"/><stop offset="0.85" stop-color="rgb(31,31,31)" stop-opacity="0.300"/><stop offset="1" stop-color="rgb(31,31,31)" stop-opacity="0.000"/></radialGradient><radialGradient id="g13_4"><stop offset="0" stop-color="rgb(0,0,0)" stop-opacity="0.950"/><stop offset="0.2" stop-color="rgb(0,0,0)" stop-opacity="0.874"/><stop offset="0.4" stop-color="rgb(0,0,0)" stop-opacity="0.684"/><stop offset="0.6" stop-color="rgb(0,0,0)" stop-opacity="0.399"/><stop offset="0.8" stop-color="rgb(0,0,0)" stop-opacity="0.142"/><stop offset="1" stop-color="rgb(0,0,0)" stop-opacity="0.000"/></radialGradient><clipPath id="c14"><circle cx="507.1" cy="269.5" r="28.8"/></clipPath><radialGradient id="g14_0"><stop offset="0" stop-color="rgb(26,26,26)" stop-opacity="1.000"/><stop offset="0.5" stop-color="rgb(26,26,26)" stop-opacity="1.000"/><stop offset="0.7" stop-color="rgb(26,26,26)" stop-opacity="0.700"/><stop offset="0.85" stop-color="rgb(26,26,26)" stop-opacity="0.300"/><stop offset="1" stop-color="rgb(26,26,26)" stop-opacity="0.000"/></radialGradient><radialGradient id="g14_1"><stop offset="0" stop-color="rgb(0,0,0)" stop-opacity="0.900"/><stop offset="0.2" stop-color="rgb(0,0,0)" stop-opacity="0.828"/><stop offset="0.4" stop-color="rgb(0,0,0)" stop-opacity="0.648"/><stop offset="0.6" stop-color="rgb(0,0,0)" stop-opacity="0.378"/><stop offset="0.8" stop-color="rgb(0,0,0)" stop-opacity="0.135"/><stop offset="1" stop-color="rgb(0,0,0)" stop-opacity="0.000"/></radialGradient><radialGradient id="g14_2"><stop offset="0" stop-color="rgb(51,51,51)" stop-opacity="0.600"/><stop offset="0.2" stop-color="rgb(51,51,51)" stop-opacity="0.552"/><stop offset="0.4" stop-color="rgb(51,51,51)" stop-opacity="0.432"/><stop offset="0.6" stop-color="rgb(51,51,51)" stop-opacity="0.252"/><stop offset="0.8" stop-color="rgb(51,51,51)" stop-opacity="0.090"/><stop offset="1" stop-color="rgb(51,51,51)" stop-opacity="0.000"/></radialGradient><radialGradient id="g14_3"><stop offset="0" stop-color="rgb(191,191,191)" stop-opacity="0.900"/><stop offset="0.2" stop-color="rgb(191,191,191)" stop-opacity="0.828"/><stop offset="0.4" stop-color="rgb(191,191,191)" stop-opacity="0.648"/><stop offset="0.6" stop-color="rgb(191,191,191)" stop-opacity="0.378"/><stop offset="0.8" stop-color="rgb(191,191,191)" stop-opacity="0.135"/><stop offset="1" stop-color="rgb(191,191,191)" stop-opacity="0.000"/></radialGradient><radialGradient id="g14_4"><stop offset="0" stop-color="rgb(235,235,235)" stop-opacity="1.000"/><stop offset="0.5" stop-color="rgb(235,235,235)" stop-opacity="1.000"/><stop offset="0.7" stop-color="rgb(235,235,235)" stop-opacity="0.700"/><stop offset="0.85" stop-color="rgb(235,235,235)" stop-opacity="0.300"/><stop offset="1" stop-color="rgb(235,235,235)" stop-opacity="0.000"/></radialGradient><radialGradient id="g14_5"><stop offset="0" stop-color="rgb(255,255,255)" stop-opacity="0.900"/><stop offset="0.2" stop-color="rgb(255,255,255)" stop-opacity="0.828"/><stop offset="0.4" stop-color="rgb(255,255,255)" stop-opacity="0.648"/><stop offset="0.6" stop-color="rgb(255,255,255)" stop-opacity="0.378"/><stop offset="0.8" stop-color="rgb(255,255,255)" stop-opacity="0.135"/><stop offset="1" stop-color="rgb(255,255,255)" stop-opacity="0.000"/></radialGradient><clipPath id="c15"><circle cx="722.9" cy="269.5" r="28.8"/></clipPath><radialGradient id="g15_0"><stop offset="0" stop-color="rgb(138,138,138)" stop-opacity="1.000"/><stop offset="0.75" stop-color="rgb(138,138,138)" stop-opacity="1.000"/><stop offset="0.9" stop-color="rgb(138,138,138)" stop-opacity="0.500"/><stop offset="1" stop-color="rgb(138,138,138)" stop-opacity="0.000"/></radialGradient><radialGradient id="g15_1"><stop offset="0" stop-color="rgb(33,33,33)" stop-opacity="0.950"/><stop offset="0.2" stop-color="rgb(33,33,33)" stop-opacity="0.874"/><stop offset="0.4" stop-color="rgb(33,33,33)" stop-opacity="0.684"/><stop offset="0.6" stop-color="rgb(33,33,33)" stop-opacity="0.399"/><stop offset="0.8" stop-color="rgb(33,33,33)" stop-opacity="0.142"/><stop offset="1" stop-color="rgb(33,33,33)" stop-opacity="0.000"/></radialGradient><radialGradient id="g15_2"><stop offset="0" stop-color="rgb(163,163,163)" stop-opacity="1.000"/><stop offset="0.75" stop-color="rgb(163,163,163)" stop-opacity="1.000"/><stop offset="0.9" stop-color="rgb(163,163,163)" stop-opacity="0.500"/><stop offset="1" stop-color="rgb(163,163,163)" stop-opacity="0.000"/></radialGradient><radialGradient id="g15_3"><stop offset="0" stop-color="rgb(219,219,219)" stop-opacity="1.000"/><stop offset="0.2" stop-color="rgb(219,219,219)" stop-opacity="0.920"/><stop offset="0.4" stop-color="rgb(219,219,219)" stop-opacity="0.720"/><stop offset="0.6" stop-color="rgb(219,219,219)" stop-opacity="0.420"/><stop offset="0.8" stop-color="rgb(219,219,219)" stop-opacity="0.150"/><stop offset="1" stop-color="rgb(219,219,219)" stop-opacity="0.000"/></radialGradient><clipPath id="c16"><circle cx="783.7" cy="269.5" r="28.8"/></clipPath><radialGradient id="g16_0"><stop offset="0" stop-color="rgb(97,97,97)" stop-opacity="1.000"/><stop offset="0.5" stop-color="rgb(97,97,97)" stop-opacity="1.000"/><stop offset="0.7" stop-color="rgb(97,97,97)" stop-opacity="0.700"/><stop offset="0.85" stop-color="rgb(97,97,97)" stop-opacity="0.300"/><stop offset="1" stop-color="rgb(97,97,97)" stop-opacity="0.000"/></radialGradient><radialGradient id="g16_1"><stop offset="0" stop-color="rgb(161,161,161)" stop-opacity="1.000"/><stop offset="0.62" stop-color="rgb(161,161,161)" stop-opacity="1.000"/><stop offset="0.78" stop-color="rgb(161,161,161)" stop-opacity="0.720"/><stop offset="0.9" stop-color="rgb(161,161,161)" stop-opacity="0.320"/><stop offset="1" stop-color="rgb(161,161,161)" stop-opacity="0.000"/></radialGradient><radialGradient id="g16_2"><stop offset="0" stop-color="rgb(217,217,217)" stop-opacity="1.000"/><stop offset="0.2" stop-color="rgb(217,217,217)" stop-opacity="0.920"/><stop offset="0.4" stop-color="rgb(217,217,217)" stop-opacity="0.720"/><stop offset="0.6" stop-color="rgb(217,217,217)" stop-opacity="0.420"/><stop offset="0.8" stop-color="rgb(217,217,217)" stop-opacity="0.150"/><stop offset="1" stop-color="rgb(217,217,217)" stop-opacity="0.000"/></radialGradient><linearGradient id="cb" x1="0" y1="1" x2="0" y2="0"><stop offset="0" stop-color="#14166e"/><stop offset="0.125" stop-color="#1a38ae"/><stop offset="0.25" stop-color="#2272d2"/><stop offset="0.375" stop-color="#4cb8d8"/><stop offset="0.5" stop-color="#a4d494"/><stop offset="0.625" stop-color="#f6e228"/><stop offset="0.75" stop-color="#f08c1e"/><stop offset="0.875" stop-color="#d6241c"/><stop offset="1" stop-color="#7c1a12"/></linearGradient><clipPath id="c17"><circle cx="717.3" cy="369.3" r="20.2"/></clipPath><radialGradient id="g17_0"><stop offset="0" stop-color="rgb(145,145,145)" stop-opacity="0.850"/><stop offset="0.2" stop-color="rgb(145,145,145)" stop-opacity="0.782"/><stop offset="0.4" stop-color="rgb(145,145,145)" stop-opacity="0.612"/><stop offset="0.6" stop-color="rgb(145,145,145)" stop-opacity="0.357"/><stop offset="0.8" stop-color="rgb(145,145,145)" stop-opacity="0.128"/><stop offset="1" stop-color="rgb(145,145,145)" stop-opacity="0.000"/></radialGradient><radialGradient id="g17_1"><stop offset="0" stop-color="rgb(166,166,166)" stop-opacity="1.000"/><stop offset="0.5" stop-color="rgb(166,166,166)" stop-opacity="1.000"/><stop offset="0.7" stop-color="rgb(166,166,166)" stop-opacity="0.700"/><stop offset="0.85" stop-color="rgb(166,166,166)" stop-opacity="0.300"/><stop offset="1" stop-color="rgb(166,166,166)" stop-opacity="0.000"/></radialGradient><radialGradient id="g17_2"><stop offset="0" stop-color="rgb(247,247,247)" stop-opacity="1.000"/><stop offset="0.5" stop-color="rgb(247,247,247)" stop-opacity="1.000"/><stop offset="0.7" stop-color="rgb(247,247,247)" stop-opacity="0.700"/><stop offset="0.85" stop-color="rgb(247,247,247)" stop-opacity="0.300"/><stop offset="1" stop-color="rgb(247,247,247)" stop-opacity="0.000"/></radialGradient><clipPath id="c18"><circle cx="782.2" cy="371.0" r="20.6"/></clipPath><radialGradient id="g18_0"><stop offset="0" stop-color="rgb(158,158,158)" stop-opacity="0.950"/><stop offset="0.2" stop-color="rgb(158,158,158)" stop-opacity="0.874"/><stop offset="0.4" stop-color="rgb(158,158,158)" stop-opacity="0.684"/><stop offset="0.6" stop-color="rgb(158,158,158)" stop-opacity="0.399"/><stop offset="0.8" stop-color="rgb(158,158,158)" stop-opacity="0.142"/><stop offset="1" stop-color="rgb(158,158,158)" stop-opacity="0.000"/></radialGradient><radialGradient id="g18_1"><stop offset="0" stop-color="rgb(102,102,102)" stop-opacity="0.700"/><stop offset="0.2" stop-color="rgb(102,102,102)" stop-opacity="0.644"/><stop offset="0.4" stop-color="rgb(102,102,102)" stop-opacity="0.504"/><stop offset="0.6" stop-color="rgb(102,102,102)" stop-opacity="0.294"/><stop offset="0.8" stop-color="rgb(102,102,102)" stop-opacity="0.105"/><stop offset="1" stop-color="rgb(102,102,102)" stop-opacity="0.000"/></radialGradient><radialGradient id="g18_2"><stop offset="0" stop-color="rgb(76,76,76)" stop-opacity="0.950"/><stop offset="0.5" stop-color="rgb(76,76,76)" stop-opacity="0.950"/><stop offset="0.7" stop-color="rgb(76,76,76)" stop-opacity="0.665"/><stop offset="0.85" stop-color="rgb(76,76,76)" stop-opacity="0.285"/><stop offset="1" stop-color="rgb(76,76,76)" stop-opacity="0.000"/></radialGradient><radialGradient id="g18_3"><stop offset="0" stop-color="rgb(166,166,166)" stop-opacity="1.000"/><stop offset="0.5" stop-color="rgb(166,166,166)" stop-opacity="1.000"/><stop offset="0.7" stop-color="rgb(166,166,166)" stop-opacity="0.700"/><stop offset="0.85" stop-color="rgb(166,166,166)" stop-opacity="0.300"/><stop offset="1" stop-color="rgb(166,166,166)" stop-opacity="0.000"/></radialGradient><radialGradient id="g18_4"><stop offset="0" stop-color="rgb(247,247,247)" stop-opacity="1.000"/><stop offset="0.5" stop-color="rgb(247,247,247)" stop-opacity="1.000"/><stop offset="0.7" stop-color="rgb(247,247,247)" stop-opacity="0.700"/><stop offset="0.85" stop-color="rgb(247,247,247)" stop-opacity="0.300"/><stop offset="1" stop-color="rgb(247,247,247)" stop-opacity="0.000"/></radialGradient></defs><g><path d="M16.6 47.1 L17.1 45.7 L17.6 47.5 L18.1 53.3 L18.5 45.8 L19.0 47.5 L19.5 51.0 L20.0 47.3 L20.5 48.1 L21.0 48.4 L21.5 49.4 L21.9 47.7 L22.4 52.2 L22.9 50.3 L23.4 51.4 L23.9 47.7 L24.4 49.7 L24.9 50.8 L25.3 52.5 L25.8 50.7 L26.3 49.8 L26.8 50.8 L27.3 45.4 L27.8 46.4 L28.3 59.2 L28.7 56.4 L29.2 50.5 L29.7 51.3 L30.2 49.0 L30.7 48.9 L31.2 42.3 L31.7 53.3 L32.2 50.6 L32.6 42.1 L33.1 46.8 L33.6 46.5 L34.1 50.4 L34.6 54.1 L35.1 47.5 L35.6 47.1 L36.0 50.9 L36.5 48.0 L37.0 44.7 L37.5 46.3 L38.0 41.9 L38.5 39.7 L39.0 38.3 L39.4 38.5 L39.9 33.2 L40.4 30.7 L40.9 31.3 L41.4 33.7 L41.9 26.6 L42.4 29.0 L42.8 22.3 L43.3 27.2 L43.8 18.7 L44.3 20.5 L44.8 23.7 L45.3 19.8 L45.8 18.4 L46.2 18.2 L46.7 23.6 L47.2 25.5 L47.7 22.8 L48.2 27.1 L48.7 26.6 L49.2 26.5 L49.6 36.5 L50.1 31.7 L50.6 30.3 L51.1 37.4 L51.6 41.0 L52.1 37.3 L52.6 40.4 L53.0 39.2 L53.5 44.5 L54.0 49.3 L54.5 45.5 L55.0 47.5 L55.5 44.1 L56.0 46.8 L56.4 53.8 L56.9 52.8 L57.4 46.1 L57.9 47.2 L58.4 52.0 L58.9 49.9 L59.4 48.3 L59.8 48.2 L60.3 46.6 L60.8 48.6 L61.3 49.6 L61.8 49.9 L62.3 45.1 L62.8 56.2 L63.3 48.6 L63.7 47.6 L64.2 52.3 L64.7 45.8 L65.2 48.8 L65.7 42.8 L66.2 45.2 L66.7 41.3 L67.1 38.3 L67.6 40.2 L68.1 43.8 L68.6 45.7 L69.1 34.5 L69.6 40.9 L70.1 43.0 L70.5 40.2 L71.0 41.5 L71.5 38.1 L72.0 41.0 L72.5 41.3 L73.0 44.0 L73.5 40.1 L73.9 45.5 L74.4 39.9 L74.9 37.2 L75.4 48.0 L75.9 51.5 L76.4 41.1 L76.9 34.7 L77.3 47.2 L77.8 48.4 L78.3 42.4 L78.8 47.7 L79.3 47.0 L79.8 46.9 L80.3 44.3 L80.7 48.0 L81.2 46.1 L81.7 48.1 L82.2 50.7 L82.7 49.2 L83.2 51.6 L83.7 48.5 L84.1 52.5 L84.6 52.6 L85.1 43.9 L85.6 49.3 L86.1 49.4 L86.6 47.6 L87.1 50.9 L87.5 50.3 L88.0 48.2 L88.5 48.8 L89.0 53.8 L89.5 47.0 L90.0 52.0 L90.5 53.7 L90.9 53.3 L91.4 51.6 L91.9 44.8 L92.4 54.5 L92.9 50.0 L93.4 58.0 L93.9 50.7 L94.4 47.7 L94.8 51.7 L95.3 53.1 L95.8 50.2 L96.3 48.7 L96.8 48.8 L97.3 44.4 L97.8 50.5 L98.2 53.3 L98.7 51.8 L99.2 51.6 L99.7 51.0 L100.2 51.5 L100.7 50.8 L101.2 57.2 L101.6 48.6 L102.1 53.4 L102.6 55.4 L103.1 49.0 L103.6 46.6 L104.1 49.3 L104.6 50.3 L105.0 53.9 L105.5 40.7 L106.0 47.3 L106.5 54.1 L107.0 52.7 L107.5 49.5 L108.0 55.0 L108.4 48.9 L108.9 50.8 L109.4 44.9 L109.9 45.6 L110.4 58.1 L110.9 48.5 L111.4 54.1 L111.8 44.6 L112.3 47.8 L112.8 46.4 L113.3 52.0 L113.8 42.0 L114.3 41.4 L114.8 52.0 L115.2 47.1 L115.7 50.7 L116.2 48.5 L116.7 52.9 L117.2 42.1 L117.7 52.0 L118.2 49.7 L118.6 47.0 L119.1 51.1 L119.6 49.7 L120.1 50.9 L120.6 49.5 L121.1 53.2 L121.6 50.8 L122.0 50.0 L122.5 50.6 L123.0 49.3 L123.5 50.6 L124.0 47.1 L124.5 50.8 L125.0 50.3 L125.5 52.1 L125.9 51.7 L126.4 54.3 L126.9 48.3 L127.4 54.0 L127.9 52.7 L128.4 49.0 L128.9 48.9 L129.3 51.7 L129.8 57.4 L130.3 49.0 L130.8 49.7 L131.3 55.5 L131.8 48.0 L132.3 53.2 L132.7 54.7 L133.2 50.5 L133.7 51.5 L134.2 50.3 L134.7 56.6 L135.2 44.9 L135.7 53.3 L136.1 56.5 L136.6 49.2 L137.1 52.6 L137.6 50.3" fill="none" stroke="#1c1c8e" stroke-width="1.2" stroke-linejoin="round"/><path d="M16.6 49.3 L17.1 51.3 L17.6 51.0 L18.1 56.7 L18.5 44.8 L19.0 46.6 L19.5 50.8 L20.0 47.7 L20.5 49.1 L21.0 51.4 L21.5 47.1 L21.9 50.7 L22.4 50.8 L22.9 52.1 L23.4 48.6 L23.9 50.1 L24.4 48.3 L24.9 51.6 L25.3 49.5 L25.8 52.4 L26.3 47.5 L26.8 49.3 L27.3 48.9 L27.8 48.7 L28.3 52.7 L28.7 47.7 L29.2 44.1 L29.7 54.4 L30.2 54.6 L30.7 53.9 L31.2 47.2 L31.7 49.1 L32.2 46.3 L32.6 47.2 L33.1 48.4 L33.6 48.0 L34.1 49.1 L34.6 45.9 L35.1 51.1 L35.6 47.9 L36.0 44.1 L36.5 37.4 L37.0 42.0 L37.5 40.2 L38.0 36.2 L38.5 29.5 L39.0 30.3 L39.4 22.9 L39.9 29.0 L40.4 18.0 L40.9 17.0 L41.4 22.6 L41.9 18.6 L42.4 17.0 L42.8 22.1 L43.3 21.8 L43.8 20.3 L44.3 28.3 L44.8 31.6 L45.3 35.0 L45.8 33.0 L46.2 37.4 L46.7 39.2 L47.2 40.6 L47.7 39.6 L48.2 45.2 L48.7 47.0 L49.2 50.0 L49.6 40.3 L50.1 43.8 L50.6 40.1 L51.1 44.7 L51.6 47.0 L52.1 43.7 L52.6 45.4 L53.0 48.7 L53.5 47.7 L54.0 40.2 L54.5 44.2 L55.0 44.0 L55.5 45.9 L56.0 47.1 L56.4 42.7 L56.9 45.5 L57.4 47.3 L57.9 45.5 L58.4 47.7 L58.9 44.6 L59.4 42.0 L59.8 47.5 L60.3 41.1 L60.8 47.1 L61.3 44.7 L61.8 47.5 L62.3 45.8 L62.8 45.0 L63.3 46.4 L63.7 47.2 L64.2 47.1 L64.7 47.5 L65.2 49.6 L65.7 45.9 L66.2 44.1 L66.7 42.8 L67.1 43.6 L67.6 38.6 L68.1 44.8 L68.6 47.1 L69.1 40.7 L69.6 49.1 L70.1 43.6 L70.5 49.2 L71.0 45.7 L71.5 52.5 L72.0 44.8 L72.5 48.3 L73.0 51.1 L73.5 44.2 L73.9 47.4 L74.4 50.1 L74.9 52.9 L75.4 51.5 L75.9 52.4 L76.4 50.4 L76.9 50.6 L77.3 55.0 L77.8 55.0 L78.3 55.2 L78.8 57.7 L79.3 55.8 L79.8 54.6 L80.3 52.6 L80.7 51.0 L81.2 57.2 L81.7 53.5 L82.2 56.5 L82.7 49.6 L83.2 55.7 L83.7 54.3 L84.1 58.5 L84.6 58.3 L85.1 55.6 L85.6 57.4 L86.1 55.5 L86.6 61.1 L87.1 55.0 L87.5 59.5 L88.0 52.3 L88.5 58.2 L89.0 54.5 L89.5 61.8 L90.0 56.8 L90.5 60.8 L90.9 59.8 L91.4 58.6 L91.9 59.8 L92.4 58.4 L92.9 57.3 L93.4 57.8 L93.9 60.2 L94.4 64.1 L94.8 62.8 L95.3 61.4 L95.8 67.2 L96.3 59.6 L96.8 63.0 L97.3 63.6 L97.8 60.8 L98.2 62.2 L98.7 64.1 L99.2 68.1 L99.7 65.0 L100.2 65.4 L100.7 69.2 L101.2 64.1 L101.6 65.8 L102.1 73.0 L102.6 67.3 L103.1 71.3 L103.6 64.7 L104.1 65.8 L104.6 71.3 L105.0 70.9 L105.5 68.2 L106.0 69.2 L106.5 64.3 L107.0 66.5 L107.5 69.4 L108.0 67.0 L108.4 74.3 L108.9 67.6 L109.4 65.9 L109.9 68.7 L110.4 70.1 L110.9 66.3 L111.4 62.2 L111.8 67.0 L112.3 70.6 L112.8 63.2 L113.3 72.4 L113.8 65.6 L114.3 68.5 L114.8 64.1 L115.2 69.0 L115.7 62.7 L116.2 65.5 L116.7 71.1 L117.2 71.7 L117.7 66.9 L118.2 62.2 L118.6 65.4 L119.1 65.4 L119.6 66.1 L120.1 63.3 L120.6 64.2 L121.1 64.3 L121.6 67.7 L122.0 61.5 L122.5 60.9 L123.0 68.3 L123.5 58.0 L124.0 62.3 L124.5 65.6 L125.0 69.5 L125.5 62.1 L125.9 62.3 L126.4 65.4 L126.9 68.6 L127.4 60.3 L127.9 65.0 L128.4 64.5 L128.9 55.1 L129.3 57.0 L129.8 60.1 L130.3 64.0 L130.8 60.8 L131.3 68.9 L131.8 62.0 L132.3 64.3 L132.7 65.7 L133.2 66.4 L133.7 60.3 L134.2 61.4 L134.7 61.1 L135.2 59.1 L135.7 63.7 L136.1 64.7 L136.6 66.1 L137.1 61.9 L137.6 58.7" fill="none" stroke="#e21a1a" stroke-width="1.2" stroke-linejoin="round"/><path d="M16.6 79.6 V17.0 H137.6 V79.6" fill="none" stroke="#38383e" stroke-width="0.8"/><path d="M16.6 79.6 H137.6" fill="none" stroke="#7c7ca6" stroke-width="0.9"/><path d="M16.6 79.6 v-1.6 M16.6 17.0 v1.6 M40.8 79.6 v-1.6 M40.8 17.0 v1.6 M65.0 79.6 v-1.6 M65.0 17.0 v1.6 M89.2 79.6 v-1.6 M89.2 17.0 v1.6 M113.4 79.6 v-1.6 M113.4 17.0 v1.6 M137.6 79.6 v-1.6 M137.6 17.0 v1.6 M16.6 17.0 h1.6 M137.6 17.0 h-1.6 M16.6 32.6 h1.6 M137.6 32.6 h-1.6 M16.6 48.3 h1.6 M137.6 48.3 h-1.6 M16.6 63.9 h1.6 M137.6 63.9 h-1.6 M16.6 79.6 h1.6 M137.6 79.6 h-1.6" stroke="#333" stroke-width="0.6" fill="none"/><text x="16.9" y="88.1" font-size="6.3" text-anchor="middle" fill="#222">0</text><text x="41.1" y="88.1" font-size="6.3" text-anchor="middle" fill="#222">200</text><text x="65.3" y="88.1" font-size="6.3" text-anchor="middle" fill="#222">400</text><text x="89.5" y="88.1" font-size="6.3" text-anchor="middle" fill="#222">600</text><text x="113.7" y="88.1" font-size="6.3" text-anchor="middle" fill="#222">800</text><text x="137.9" y="88.1" font-size="6.3" text-anchor="middle" fill="#222">1000</text><text x="13.4" y="19.3" font-size="6.3" text-anchor="end" fill="#222">1</text><text x="13.4" y="34.9" font-size="6.3" text-anchor="end" fill="#222">0.5</text><text x="13.4" y="50.6" font-size="6.3" text-anchor="end" fill="#222">0</text><text x="13.4" y="66.2" font-size="6.3" text-anchor="end" fill="#222">-0.5</text><text x="13.4" y="81.9" font-size="6.3" text-anchor="end" fill="#222">-1</text><text x="137.1" y="12.2" font-size="10" text-anchor="end" fill="#222">r=0.706</text></g><g><path d="M293.4 45.4 L293.9 55.4 L294.4 48.8 L294.9 50.9 L295.3 50.5 L295.8 49.9 L296.3 53.7 L296.8 49.6 L297.3 50.9 L297.8 41.6 L298.3 48.2 L298.7 49.3 L299.2 49.0 L299.7 49.7 L300.2 50.3 L300.7 48.7 L301.2 46.6 L301.6 48.0 L302.1 45.1 L302.6 47.4 L303.1 46.7 L303.6 43.1 L304.1 45.0 L304.6 46.9 L305.0 45.9 L305.5 43.9 L306.0 40.4 L306.5 44.5 L307.0 43.6 L307.5 40.0 L308.0 43.3 L308.4 41.5 L308.9 38.6 L309.4 39.3 L309.9 40.9 L310.4 40.5 L310.9 49.2 L311.4 42.1 L311.8 47.7 L312.3 50.6 L312.8 47.5 L313.3 47.5 L313.8 50.7 L314.3 52.4 L314.7 50.3 L315.2 50.7 L315.7 47.7 L316.2 49.3 L316.7 50.7 L317.2 48.9 L317.7 51.9 L318.1 53.7 L318.6 50.5 L319.1 50.7 L319.6 52.6 L320.1 54.0 L320.6 52.0 L321.1 58.1 L321.5 51.2 L322.0 51.8 L322.5 56.5 L323.0 52.8 L323.5 55.1 L324.0 51.3 L324.4 57.5 L324.9 55.0 L325.4 51.4 L325.9 50.5 L326.4 57.7 L326.9 54.1 L327.4 52.3 L327.8 54.1 L328.3 48.8 L328.8 54.2 L329.3 50.0 L329.8 52.2 L330.3 45.8 L330.8 47.8 L331.2 47.6 L331.7 49.5 L332.2 41.2 L332.7 42.2 L333.2 41.1 L333.7 39.0 L334.2 39.5 L334.6 40.4 L335.1 39.7 L335.6 38.7 L336.1 33.3 L336.6 39.1 L337.1 37.1 L337.5 36.7 L338.0 35.8 L338.5 35.5 L339.0 40.1 L339.5 41.8 L340.0 38.7 L340.5 36.6 L340.9 38.2 L341.4 39.8 L341.9 41.3 L342.4 40.2 L342.9 41.7 L343.4 39.6 L343.9 43.4 L344.3 41.6 L344.8 42.2 L345.3 40.8 L345.8 41.4 L346.3 35.7 L346.8 37.1 L347.3 36.0 L347.7 42.6 L348.2 37.5 L348.7 36.9 L349.2 33.2 L349.7 38.4 L350.2 30.1 L350.6 29.8 L351.1 34.5 L351.6 33.3 L352.1 32.5 L352.6 30.2 L353.1 28.5 L353.6 25.0 L354.0 29.6 L354.5 27.2 L355.0 28.2 L355.5 24.4 L356.0 26.4 L356.5 24.8 L357.0 30.0 L357.4 27.9 L357.9 29.2 L358.4 24.0 L358.9 25.7 L359.4 27.7 L359.9 27.8 L360.3 25.6 L360.8 28.0 L361.3 28.3 L361.8 24.8 L362.3 19.9 L362.8 25.2 L363.3 25.2 L363.7 25.9 L364.2 25.7 L364.7 21.1 L365.2 20.0 L365.7 21.7 L366.2 21.0 L366.7 21.4 L367.1 21.4 L367.6 25.0 L368.1 22.7 L368.6 21.5 L369.1 23.4 L369.6 22.7 L370.1 23.5 L370.5 22.4 L371.0 19.8 L371.5 22.6 L372.0 22.0 L372.5 19.9 L373.0 20.4 L373.4 18.2 L373.9 26.6 L374.4 20.2 L374.9 23.3 L375.4 22.1 L375.9 20.8 L376.4 20.4 L376.8 20.7 L377.3 22.7 L377.8 19.7 L378.3 24.0 L378.8 23.8 L379.3 21.8 L379.8 24.9 L380.2 19.0 L380.7 21.6 L381.2 19.2 L381.7 24.1 L382.2 25.1 L382.7 24.0 L383.2 22.9 L383.6 26.0 L384.1 24.0 L384.6 25.3 L385.1 22.2 L385.6 27.7 L386.1 24.7 L386.5 29.0 L387.0 30.3 L387.5 30.3 L388.0 31.8 L388.5 29.1 L389.0 27.2 L389.5 27.9 L389.9 24.7 L390.4 20.2 L390.9 21.5 L391.4 21.3 L391.9 22.4 L392.4 25.4 L392.9 20.4 L393.3 26.2 L393.8 21.1 L394.3 22.8 L394.8 20.5 L395.3 23.3 L395.8 25.0 L396.2 22.5 L396.7 24.4 L397.2 23.5 L397.7 22.9 L398.2 23.1 L398.7 23.1 L399.2 24.3 L399.6 22.7 L400.1 26.8 L400.6 22.3 L401.1 24.4 L401.6 19.3 L402.1 18.9 L402.6 26.0 L403.0 21.4 L403.5 22.0 L404.0 24.0 L404.5 20.5 L405.0 22.7 L405.5 25.6 L406.0 22.3 L406.4 22.0 L406.9 21.5 L407.4 24.4 L407.9 20.3 L408.4 20.1 L408.9 24.3 L409.3 23.3 L409.8 22.2 L410.3 23.5 L410.8 18.6 L411.3 22.3 L411.8 25.3 L412.3 25.1 L412.7 23.8 L413.2 19.0 L413.7 24.8 L414.2 24.5" fill="none" stroke="#1c1c8e" stroke-width="1.2" stroke-linejoin="round"/><path d="M293.4 47.6 L293.9 47.0 L294.4 44.7 L294.9 45.9 L295.3 48.8 L295.8 46.7 L296.3 47.5 L296.8 46.5 L297.3 48.7 L297.8 46.4 L298.3 46.4 L298.7 44.8 L299.2 46.3 L299.7 46.1 L300.2 48.6 L300.7 43.8 L301.2 49.0 L301.6 45.1 L302.1 46.8 L302.6 47.4 L303.1 46.9 L303.6 46.8 L304.1 45.3 L304.6 45.7 L305.0 43.5 L305.5 47.4 L306.0 44.7 L306.5 45.0 L307.0 41.8 L307.5 44.4 L308.0 41.2 L308.4 39.7 L308.9 41.4 L309.4 38.3 L309.9 39.6 L310.4 38.9 L310.9 39.5 L311.4 42.6 L311.8 43.1 L312.3 43.1 L312.8 42.6 L313.3 43.2 L313.8 45.9 L314.3 46.3 L314.7 47.3 L315.2 47.7 L315.7 48.0 L316.2 48.5 L316.7 46.4 L317.2 50.2 L317.7 50.3 L318.1 49.7 L318.6 51.7 L319.1 51.3 L319.6 51.0 L320.1 50.2 L320.6 53.1 L321.1 49.9 L321.5 52.2 L322.0 51.8 L322.5 51.2 L323.0 51.7 L323.5 51.6 L324.0 53.2 L324.4 54.2 L324.9 54.7 L325.4 57.3 L325.9 55.4 L326.4 58.7 L326.9 59.8 L327.4 55.7 L327.8 58.3 L328.3 59.2 L328.8 54.8 L329.3 56.8 L329.8 54.3 L330.3 55.8 L330.8 54.1 L331.2 55.0 L331.7 54.4 L332.2 52.4 L332.7 50.4 L333.2 48.2 L333.7 45.1 L334.2 48.3 L334.6 44.7 L335.1 45.7 L335.6 44.1 L336.1 44.9 L336.6 44.2 L337.1 42.8 L337.5 42.9 L338.0 41.0 L338.5 41.4 L339.0 38.6 L339.5 39.6 L340.0 39.2 L340.5 37.8 L340.9 38.4 L341.4 39.0 L341.9 39.0 L342.4 39.1 L342.9 37.6 L343.4 37.9 L343.9 38.5 L344.3 37.9 L344.8 39.6 L345.3 38.3 L345.8 40.7 L346.3 37.2 L346.8 38.8 L347.3 38.3 L347.7 37.2 L348.2 37.2 L348.7 36.6 L349.2 33.8 L349.7 34.0 L350.2 34.3 L350.6 31.7 L351.1 33.6 L351.6 28.7 L352.1 30.5 L352.6 29.6 L353.1 26.4 L353.6 26.0 L354.0 28.1 L354.5 27.0 L355.0 26.0 L355.5 24.9 L356.0 26.7 L356.5 26.0 L357.0 24.3 L357.4 25.2 L357.9 24.2 L358.4 24.1 L358.9 26.0 L359.4 25.4 L359.9 27.3 L360.3 24.0 L360.8 21.7 L361.3 24.5 L361.8 21.2 L362.3 21.1 L362.8 22.0 L363.3 21.5 L363.7 21.0 L364.2 21.8 L364.7 20.8 L365.2 20.3 L365.7 19.4 L366.2 19.1 L366.7 21.1 L367.1 19.1 L367.6 21.1 L368.1 20.3 L368.6 19.7 L369.1 20.2 L369.6 20.3 L370.1 19.8 L370.5 20.8 L371.0 20.9 L371.5 20.4 L372.0 18.9 L372.5 20.3 L373.0 17.9 L373.4 20.1 L373.9 24.3 L374.4 21.3 L374.9 18.8 L375.4 21.1 L375.9 21.8 L376.4 22.5 L376.8 19.9 L377.3 20.4 L377.8 20.9 L378.3 21.2 L378.8 19.9 L379.3 20.7 L379.8 23.2 L380.2 20.7 L380.7 21.5 L381.2 21.8 L381.7 20.7 L382.2 21.7 L382.7 25.4 L383.2 19.7 L383.6 20.4 L384.1 21.9 L384.6 22.3 L385.1 21.7 L385.6 23.9 L386.1 22.2 L386.5 23.3 L387.0 23.9 L387.5 25.1 L388.0 25.3 L388.5 23.6 L389.0 23.8 L389.5 25.3 L389.9 26.4 L390.4 27.8 L390.9 26.3 L391.4 25.6 L391.9 30.1 L392.4 27.2 L392.9 31.8 L393.3 30.0 L393.8 29.5 L394.3 32.1 L394.8 32.6 L395.3 30.7 L395.8 30.0 L396.2 31.7 L396.7 29.4 L397.2 31.9 L397.7 28.6 L398.2 30.5 L398.7 30.2 L399.2 29.5 L399.6 29.7 L400.1 27.6 L400.6 27.0 L401.1 29.0 L401.6 29.8 L402.1 31.0 L402.6 30.5 L403.0 29.5 L403.5 29.6 L404.0 29.6 L404.5 29.5 L405.0 28.9 L405.5 31.2 L406.0 30.8 L406.4 28.1 L406.9 28.5 L407.4 30.2 L407.9 27.9 L408.4 30.4 L408.9 29.9 L409.3 31.9 L409.8 28.6 L410.3 29.8 L410.8 28.6 L411.3 29.2 L411.8 30.1 L412.3 30.1 L412.7 29.0 L413.2 30.9 L413.7 31.1 L414.2 31.0" fill="none" stroke="#e21a1a" stroke-width="1.2" stroke-linejoin="round"/><path d="M293.4 79.6 V17.0 H414.2 V79.6" fill="none" stroke="#38383e" stroke-width="0.8"/><path d="M293.4 79.6 H414.2" fill="none" stroke="#7c7ca6" stroke-width="0.9"/><path d="M293.4 79.6 v-1.6 M293.4 17.0 v1.6 M317.6 79.6 v-1.6 M317.6 17.0 v1.6 M341.7 79.6 v-1.6 M341.7 17.0 v1.6 M365.9 79.6 v-1.6 M365.9 17.0 v1.6 M390.0 79.6 v-1.6 M390.0 17.0 v1.6 M414.2 79.6 v-1.6 M414.2 17.0 v1.6 M293.4 17.0 h1.6 M414.2 17.0 h-1.6 M293.4 32.6 h1.6 M414.2 32.6 h-1.6 M293.4 48.3 h1.6 M414.2 48.3 h-1.6 M293.4 63.9 h1.6 M414.2 63.9 h-1.6 M293.4 79.6 h1.6 M414.2 79.6 h-1.6" stroke="#333" stroke-width="0.6" fill="none"/><text x="293.7" y="88.1" font-size="6.3" text-anchor="middle" fill="#222">0</text><text x="317.9" y="88.1" font-size="6.3" text-anchor="middle" fill="#222">200</text><text x="342.0" y="88.1" font-size="6.3" text-anchor="middle" fill="#222">400</text><text x="366.2" y="88.1" font-size="6.3" text-anchor="middle" fill="#222">600</text><text x="390.3" y="88.1" font-size="6.3" text-anchor="middle" fill="#222">800</text><text x="414.5" y="88.1" font-size="6.3" text-anchor="middle" fill="#222">1000</text><text x="290.2" y="19.3" font-size="6.3" text-anchor="end" fill="#222">1</text><text x="290.2" y="34.9" font-size="6.3" text-anchor="end" fill="#222">0.5</text><text x="290.2" y="50.6" font-size="6.3" text-anchor="end" fill="#222">0</text><text x="290.2" y="66.2" font-size="6.3" text-anchor="end" fill="#222">-0.5</text><text x="290.2" y="81.9" font-size="6.3" text-anchor="end" fill="#222">-1</text><text x="414.0" y="12.3" font-size="10" text-anchor="end" fill="#222">r=0.919</text></g><g><path d="M569.5 51.3 L570.0 53.1 L570.5 49.0 L571.0 46.3 L571.4 43.5 L571.9 47.3 L572.4 49.6 L572.9 50.4 L573.4 44.5 L573.9 41.0 L574.4 46.0 L574.8 51.5 L575.3 50.4 L575.8 40.7 L576.3 45.8 L576.8 53.0 L577.3 46.7 L577.8 50.6 L578.2 48.5 L578.7 47.9 L579.2 48.7 L579.7 43.8 L580.2 46.0 L580.7 47.8 L581.2 43.8 L581.6 42.0 L582.1 50.9 L582.6 44.9 L583.1 46.6 L583.6 42.5 L584.1 45.6 L584.6 39.8 L585.1 39.2 L585.5 39.8 L586.0 42.2 L586.5 39.4 L587.0 41.8 L587.5 42.6 L588.0 36.4 L588.5 41.1 L588.9 32.3 L589.4 33.7 L589.9 43.4 L590.4 34.3 L590.9 38.5 L591.4 33.1 L591.9 31.7 L592.3 38.0 L592.8 30.3 L593.3 29.4 L593.8 24.3 L594.3 31.9 L594.8 24.3 L595.3 30.8 L595.7 27.6 L596.2 29.2 L596.7 20.3 L597.2 23.3 L597.7 17.0 L598.2 22.7 L598.7 21.8 L599.1 21.7 L599.6 27.1 L600.1 25.1 L600.6 19.8 L601.1 26.3 L601.6 24.1 L602.1 24.9 L602.5 22.5 L603.0 26.2 L603.5 25.4 L604.0 23.9 L604.5 24.4 L605.0 28.1 L605.5 21.5 L605.9 29.7 L606.4 29.4 L606.9 29.8 L607.4 21.5 L607.9 26.6 L608.4 29.1 L608.9 29.9 L609.3 24.2 L609.8 29.9 L610.3 30.9 L610.8 24.0 L611.3 30.8 L611.8 27.6 L612.3 26.4 L612.7 27.9 L613.2 26.3 L613.7 20.8 L614.2 27.5 L614.7 30.0 L615.2 31.8 L615.7 25.3 L616.2 25.6 L616.6 22.9 L617.1 25.4 L617.6 25.2 L618.1 25.9 L618.6 24.9 L619.1 22.2 L619.6 24.0 L620.0 22.0 L620.5 17.0 L621.0 20.2 L621.5 27.8 L622.0 17.0 L622.5 20.4 L623.0 25.2 L623.4 18.4 L623.9 21.8 L624.4 24.4 L624.9 24.8 L625.4 26.4 L625.9 22.8 L626.4 19.4 L626.8 25.0 L627.3 22.6 L627.8 17.6 L628.3 29.6 L628.8 24.5 L629.3 27.0 L629.8 30.2 L630.2 30.4 L630.7 27.0 L631.2 25.7 L631.7 29.7 L632.2 27.9 L632.7 25.8 L633.2 27.8 L633.6 26.1 L634.1 28.0 L634.6 28.3 L635.1 23.6 L635.6 28.4 L636.1 30.6 L636.6 28.7 L637.0 35.1 L637.5 33.2 L638.0 29.2 L638.5 30.1 L639.0 26.9 L639.5 32.9 L640.0 38.7 L640.4 26.1 L640.9 29.6 L641.4 37.9 L641.9 29.0 L642.4 34.2 L642.9 41.4 L643.4 36.4 L643.8 36.9 L644.3 29.2 L644.8 38.4 L645.3 36.6 L645.8 36.9 L646.3 37.4 L646.8 39.7 L647.3 35.6 L647.7 32.6 L648.2 34.5 L648.7 40.5 L649.2 41.5 L649.7 36.9 L650.2 40.2 L650.7 40.1 L651.1 44.2 L651.6 30.7 L652.1 34.8 L652.6 42.1 L653.1 35.1 L653.6 33.7 L654.1 47.8 L654.5 41.1 L655.0 40.6 L655.5 36.8 L656.0 39.9 L656.5 40.4 L657.0 39.9 L657.5 32.8 L657.9 31.7 L658.4 41.9 L658.9 43.5 L659.4 30.0 L659.9 43.9 L660.4 42.5 L660.9 40.3 L661.3 38.7 L661.8 36.8 L662.3 39.3 L662.8 44.2 L663.3 39.1 L663.8 40.2 L664.3 34.3 L664.7 41.5 L665.2 46.7 L665.7 45.7 L666.2 36.6 L666.7 44.3 L667.2 50.4 L667.7 45.1 L668.1 43.3 L668.6 39.3 L669.1 48.0 L669.6 42.2 L670.1 42.1 L670.6 48.2 L671.1 46.7 L671.5 39.7 L672.0 40.1 L672.5 43.6 L673.0 45.7 L673.5 42.9 L674.0 47.8 L674.5 47.8 L674.9 50.7 L675.4 47.6 L675.9 48.0 L676.4 37.4 L676.9 48.7 L677.4 43.3 L677.9 43.2 L678.4 49.0 L678.8 44.0 L679.3 56.7 L679.8 48.3 L680.3 45.5 L680.8 57.8 L681.3 53.3 L681.8 45.1 L682.2 50.1 L682.7 53.4 L683.2 50.8 L683.7 51.6 L684.2 47.0 L684.7 48.2 L685.2 51.2 L685.6 52.9 L686.1 50.9 L686.6 46.1 L687.1 50.1 L687.6 49.4 L688.1 52.8 L688.6 57.5 L689.0 55.8 L689.5 51.1 L690.0 53.7 L690.5 58.0" fill="none" stroke="#1c1c8e" stroke-width="1.2" stroke-linejoin="round"/><path d="M569.5 48.5 L570.0 47.6 L570.5 53.1 L571.0 50.0 L571.4 48.6 L571.9 48.1 L572.4 49.0 L572.9 47.9 L573.4 49.3 L573.9 49.0 L574.4 49.4 L574.8 50.9 L575.3 50.6 L575.8 49.0 L576.3 50.1 L576.8 47.7 L577.3 47.6 L577.8 46.9 L578.2 49.1 L578.7 47.2 L579.2 50.0 L579.7 49.8 L580.2 48.5 L580.7 48.2 L581.2 50.4 L581.6 50.5 L582.1 47.7 L582.6 48.9 L583.1 46.0 L583.6 46.5 L584.1 46.2 L584.6 45.7 L585.1 44.3 L585.5 44.9 L586.0 42.4 L586.5 43.3 L587.0 41.6 L587.5 40.7 L588.0 37.5 L588.5 36.6 L588.9 36.0 L589.4 30.7 L589.9 32.1 L590.4 30.1 L590.9 27.3 L591.4 23.3 L591.9 23.4 L592.3 20.2 L592.8 19.2 L593.3 20.1 L593.8 17.0 L594.3 17.0 L594.8 19.4 L595.3 20.2 L595.7 23.2 L596.2 24.5 L596.7 24.2 L597.2 23.9 L597.7 25.9 L598.2 25.6 L598.7 25.4 L599.1 27.1 L599.6 27.1 L600.1 26.5 L600.6 30.4 L601.1 28.2 L601.6 31.8 L602.1 29.0 L602.5 29.2 L603.0 29.9 L603.5 30.2 L604.0 28.4 L604.5 28.3 L605.0 27.1 L605.5 27.9 L605.9 25.6 L606.4 27.0 L606.9 25.5 L607.4 25.0 L607.9 22.2 L608.4 25.0 L608.9 23.0 L609.3 20.4 L609.8 22.2 L610.3 22.4 L610.8 20.1 L611.3 20.6 L611.8 19.1 L612.3 21.3 L612.7 20.1 L613.2 19.7 L613.7 19.5 L614.2 22.6 L614.7 19.8 L615.2 23.1 L615.7 24.2 L616.2 23.8 L616.6 22.7 L617.1 23.5 L617.6 22.7 L618.1 22.6 L618.6 22.9 L619.1 23.6 L619.6 21.0 L620.0 26.0 L620.5 25.4 L621.0 23.9 L621.5 24.8 L622.0 26.5 L622.5 24.3 L623.0 24.2 L623.4 26.7 L623.9 23.1 L624.4 23.2 L624.9 24.2 L625.4 27.2 L625.9 27.3 L626.4 29.7 L626.8 28.7 L627.3 30.2 L627.8 29.1 L628.3 30.2 L628.8 28.6 L629.3 29.0 L629.8 28.6 L630.2 32.2 L630.7 32.6 L631.2 29.8 L631.7 31.1 L632.2 30.0 L632.7 30.2 L633.2 30.4 L633.6 29.5 L634.1 30.1 L634.6 30.2 L635.1 32.0 L635.6 28.8 L636.1 30.9 L636.6 29.8 L637.0 30.9 L637.5 29.8 L638.0 31.3 L638.5 31.4 L639.0 31.6 L639.5 32.8 L640.0 32.7 L640.4 32.3 L640.9 32.4 L641.4 33.7 L641.9 29.6 L642.4 34.0 L642.9 33.3 L643.4 30.1 L643.8 34.2 L644.3 32.7 L644.8 33.1 L645.3 34.4 L645.8 36.3 L646.3 36.7 L646.8 35.0 L647.3 34.8 L647.7 38.3 L648.2 35.6 L648.7 36.9 L649.2 35.2 L649.7 36.4 L650.2 37.9 L650.7 37.7 L651.1 37.4 L651.6 36.0 L652.1 34.2 L652.6 37.8 L653.1 38.3 L653.6 37.8 L654.1 38.8 L654.5 38.1 L655.0 38.6 L655.5 39.2 L656.0 40.3 L656.5 39.3 L657.0 38.4 L657.5 39.6 L657.9 37.9 L658.4 38.7 L658.9 40.1 L659.4 37.9 L659.9 41.5 L660.4 38.7 L660.9 38.0 L661.3 40.7 L661.8 40.6 L662.3 39.4 L662.8 38.9 L663.3 40.3 L663.8 40.7 L664.3 40.0 L664.7 40.9 L665.2 43.0 L665.7 41.9 L666.2 41.9 L666.7 44.0 L667.2 42.1 L667.7 44.2 L668.1 43.1 L668.6 46.8 L669.1 46.9 L669.6 48.5 L670.1 45.9 L670.6 46.7 L671.1 47.1 L671.5 47.5 L672.0 48.5 L672.5 48.6 L673.0 51.8 L673.5 49.3 L674.0 50.3 L674.5 50.1 L674.9 51.3 L675.4 48.1 L675.9 49.5 L676.4 51.6 L676.9 49.1 L677.4 49.8 L677.9 51.0 L678.4 50.1 L678.8 50.8 L679.3 52.7 L679.8 51.8 L680.3 49.4 L680.8 49.7 L681.3 50.0 L681.8 51.9 L682.2 51.4 L682.7 50.7 L683.2 50.1 L683.7 52.2 L684.2 52.7 L684.7 50.1 L685.2 51.6 L685.6 52.4 L686.1 53.0 L686.6 53.2 L687.1 50.6 L687.6 51.6 L688.1 53.6 L688.6 54.9 L689.0 51.6 L689.5 52.0 L690.0 52.7 L690.5 53.5" fill="none" stroke="#e21a1a" stroke-width="1.2" stroke-linejoin="round"/><path d="M569.5 79.6 V17.0 H690.5 V79.6" fill="none" stroke="#38383e" stroke-width="0.8"/><path d="M569.5 79.6 H690.5" fill="none" stroke="#7c7ca6" stroke-width="0.9"/><path d="M569.5 79.6 v-1.6 M569.5 17.0 v1.6 M593.7 79.6 v-1.6 M593.7 17.0 v1.6 M617.9 79.6 v-1.6 M617.9 17.0 v1.6 M642.1 79.6 v-1.6 M642.1 17.0 v1.6 M666.3 79.6 v-1.6 M666.3 17.0 v1.6 M690.5 79.6 v-1.6 M690.5 17.0 v1.6 M569.5 17.0 h1.6 M690.5 17.0 h-1.6 M569.5 32.6 h1.6 M690.5 32.6 h-1.6 M569.5 48.3 h1.6 M690.5 48.3 h-1.6 M569.5 63.9 h1.6 M690.5 63.9 h-1.6 M569.5 79.6 h1.6 M690.5 79.6 h-1.6" stroke="#333" stroke-width="0.6" fill="none"/><text x="569.8" y="88.1" font-size="6.3" text-anchor="middle" fill="#222">0</text><text x="594.0" y="88.1" font-size="6.3" text-anchor="middle" fill="#222">200</text><text x="618.2" y="88.1" font-size="6.3" text-anchor="middle" fill="#222">400</text><text x="642.4" y="88.1" font-size="6.3" text-anchor="middle" fill="#222">600</text><text x="666.6" y="88.1" font-size="6.3" text-anchor="middle" fill="#222">800</text><text x="690.8" y="88.1" font-size="6.3" text-anchor="middle" fill="#222">1000</text><text x="566.3" y="19.3" font-size="6.3" text-anchor="end" fill="#222">1</text><text x="566.3" y="34.9" font-size="6.3" text-anchor="end" fill="#222">0.5</text><text x="566.3" y="50.6" font-size="6.3" text-anchor="end" fill="#222">0</text><text x="566.3" y="66.2" font-size="6.3" text-anchor="end" fill="#222">-0.5</text><text x="566.3" y="81.9" font-size="6.3" text-anchor="end" fill="#222">-1</text><text x="689.2" y="12.6" font-size="10" text-anchor="end" fill="#222">r=0.920</text><text x="691.2" y="13.1" font-size="13.5" fill="#222">^</text></g><g><path d="M16.6 163.4 L17.1 162.1 L17.6 162.2 L18.1 158.7 L18.5 165.4 L19.0 158.1 L19.5 160.8 L20.0 154.4 L20.5 154.2 L21.0 152.7 L21.5 154.8 L21.9 157.6 L22.4 154.5 L22.9 152.3 L23.4 159.8 L23.9 155.5 L24.4 157.9 L24.9 153.0 L25.3 161.0 L25.8 159.3 L26.3 157.2 L26.8 157.8 L27.3 164.5 L27.8 157.7 L28.3 159.4 L28.7 159.9 L29.2 159.4 L29.7 157.7 L30.2 164.2 L30.7 151.9 L31.2 159.4 L31.7 163.3 L32.2 154.9 L32.6 148.8 L33.1 154.8 L33.6 146.9 L34.1 146.3 L34.6 154.3 L35.1 159.6 L35.6 155.2 L36.0 146.7 L36.5 153.5 L37.0 155.8 L37.5 155.1 L38.0 150.4 L38.5 150.4 L39.0 147.2 L39.4 146.7 L39.9 153.2 L40.4 150.3 L40.9 153.5 L41.4 149.1 L41.9 153.0 L42.4 152.8 L42.8 140.9 L43.3 147.6 L43.8 144.9 L44.3 137.8 L44.8 143.3 L45.3 145.8 L45.8 144.6 L46.2 146.7 L46.7 139.8 L47.2 144.0 L47.7 136.0 L48.2 142.4 L48.7 141.5 L49.2 140.7 L49.6 136.1 L50.1 136.6 L50.6 131.6 L51.1 137.4 L51.6 133.8 L52.1 127.7 L52.6 134.9 L53.0 132.2 L53.5 128.7 L54.0 132.3 L54.5 136.6 L55.0 141.7 L55.5 126.6 L56.0 133.6 L56.4 130.9 L56.9 137.1 L57.4 129.3 L57.9 133.8 L58.4 135.3 L58.9 138.4 L59.4 133.7 L59.8 136.4 L60.3 135.1 L60.8 139.5 L61.3 135.2 L61.8 132.5 L62.3 137.0 L62.8 132.0 L63.3 129.5 L63.7 132.3 L64.2 132.8 L64.7 132.1 L65.2 126.1 L65.7 134.1 L66.2 129.4 L66.7 129.4 L67.1 127.3 L67.6 128.0 L68.1 132.2 L68.6 124.6 L69.1 130.2 L69.6 137.0 L70.1 137.1 L70.5 135.3 L71.0 134.9 L71.5 143.1 L72.0 137.6 L72.5 146.4 L73.0 146.1 L73.5 141.8 L73.9 140.0 L74.4 146.7 L74.9 147.6 L75.4 142.1 L75.9 150.1 L76.4 145.4 L76.9 145.4 L77.3 142.7 L77.8 145.0 L78.3 146.8 L78.8 143.6 L79.3 149.5 L79.8 142.7 L80.3 147.7 L80.7 148.4 L81.2 146.4 L81.7 144.9 L82.2 142.6 L82.7 145.7 L83.2 142.4 L83.7 141.6 L84.1 145.3 L84.6 148.3 L85.1 141.8 L85.6 144.0 L86.1 152.2 L86.6 148.3 L87.1 144.5 L87.5 149.7 L88.0 147.3 L88.5 150.8 L89.0 143.6 L89.5 144.1 L90.0 144.5 L90.5 140.3 L90.9 146.8 L91.4 146.9 L91.9 139.3 L92.4 151.2 L92.9 144.7 L93.4 152.2 L93.9 147.4 L94.4 141.4 L94.8 148.3 L95.3 152.4 L95.8 142.0 L96.3 152.7 L96.8 152.2 L97.3 151.2 L97.8 157.6 L98.2 149.8 L98.7 148.8 L99.2 152.5 L99.7 154.6 L100.2 156.9 L100.7 153.9 L101.2 168.2 L101.6 158.1 L102.1 157.2 L102.6 165.3 L103.1 157.3 L103.6 159.6 L104.1 159.6 L104.6 159.4 L105.0 158.0 L105.5 158.6 L106.0 163.9 L106.5 160.9 L107.0 161.2 L107.5 160.5 L108.0 162.6 L108.4 157.2 L108.9 156.0 L109.4 155.1 L109.9 153.7 L110.4 155.0 L110.9 161.6 L111.4 161.9 L111.8 161.0 L112.3 157.5 L112.8 159.7 L113.3 155.7 L113.8 153.1 L114.3 159.9 L114.8 154.5 L115.2 158.6 L115.7 161.0 L116.2 160.3 L116.7 156.3 L117.2 161.1 L117.7 152.2 L118.2 148.2 L118.6 157.0 L119.1 154.0 L119.6 147.5 L120.1 151.6 L120.6 152.2 L121.1 153.9 L121.6 149.7 L122.0 152.3 L122.5 157.3 L123.0 162.1 L123.5 163.2 L124.0 151.8 L124.5 155.1 L125.0 149.3 L125.5 152.6 L125.9 158.7 L126.4 153.2 L126.9 149.9 L127.4 156.9 L127.9 155.2 L128.4 147.1 L128.9 158.8 L129.3 156.2 L129.8 148.5 L130.3 151.1 L130.8 155.5 L131.3 156.3 L131.8 149.5 L132.3 146.8 L132.7 148.0 L133.2 149.2 L133.7 145.4 L134.2 149.3 L134.7 153.1 L135.2 143.1 L135.7 154.2 L136.1 150.3 L136.6 150.0 L137.1 144.8 L137.6 152.3" fill="none" stroke="#1c1c8e" stroke-width="1.2" stroke-linejoin="round"/><path d="M16.6 154.3 L17.1 154.1 L17.6 154.3 L18.1 154.6 L18.5 154.3 L19.0 154.5 L19.5 153.9 L20.0 153.2 L20.5 154.0 L21.0 154.0 L21.5 153.4 L21.9 153.4 L22.4 153.4 L22.9 153.8 L23.4 153.3 L23.9 152.9 L24.4 153.8 L24.9 153.3 L25.3 153.9 L25.8 153.5 L26.3 153.7 L26.8 152.8 L27.3 153.2 L27.8 152.3 L28.3 152.2 L28.7 152.2 L29.2 153.0 L29.7 151.5 L30.2 150.6 L30.7 149.8 L31.2 149.7 L31.7 148.5 L32.2 148.0 L32.6 147.4 L33.1 146.1 L33.6 146.9 L34.1 146.5 L34.6 146.1 L35.1 146.8 L35.6 146.6 L36.0 146.5 L36.5 146.5 L37.0 147.1 L37.5 146.5 L38.0 145.9 L38.5 147.2 L39.0 145.8 L39.4 145.5 L39.9 145.0 L40.4 142.7 L40.9 142.0 L41.4 141.7 L41.9 139.8 L42.4 138.4 L42.8 137.8 L43.3 136.7 L43.8 136.4 L44.3 135.4 L44.8 134.5 L45.3 135.0 L45.8 134.0 L46.2 133.8 L46.7 133.1 L47.2 133.3 L47.7 132.5 L48.2 131.9 L48.7 131.0 L49.2 130.4 L49.6 131.1 L50.1 130.4 L50.6 129.2 L51.1 130.0 L51.6 128.8 L52.1 128.1 L52.6 127.0 L53.0 126.9 L53.5 127.0 L54.0 126.7 L54.5 126.4 L55.0 125.5 L55.5 126.4 L56.0 126.3 L56.4 126.0 L56.9 126.2 L57.4 126.3 L57.9 126.7 L58.4 126.2 L58.9 126.4 L59.4 125.7 L59.8 126.0 L60.3 126.3 L60.8 126.0 L61.3 126.5 L61.8 125.9 L62.3 126.5 L62.8 126.2 L63.3 127.2 L63.7 126.5 L64.2 127.5 L64.7 127.7 L65.2 127.0 L65.7 127.6 L66.2 127.6 L66.7 127.3 L67.1 129.3 L67.6 129.8 L68.1 130.1 L68.6 130.7 L69.1 131.8 L69.6 132.6 L70.1 132.9 L70.5 133.8 L71.0 135.3 L71.5 135.5 L72.0 136.1 L72.5 137.1 L73.0 136.8 L73.5 137.5 L73.9 136.7 L74.4 137.2 L74.9 137.3 L75.4 137.7 L75.9 137.5 L76.4 138.4 L76.9 138.0 L77.3 137.4 L77.8 138.6 L78.3 137.2 L78.8 138.5 L79.3 137.4 L79.8 138.2 L80.3 137.5 L80.7 137.9 L81.2 138.8 L81.7 137.5 L82.2 137.5 L82.7 138.4 L83.2 138.6 L83.7 138.6 L84.1 139.1 L84.6 138.3 L85.1 139.2 L85.6 139.1 L86.1 139.6 L86.6 139.7 L87.1 140.1 L87.5 139.1 L88.0 139.9 L88.5 139.6 L89.0 140.2 L89.5 140.7 L90.0 140.8 L90.5 141.1 L90.9 141.2 L91.4 141.7 L91.9 142.0 L92.4 142.9 L92.9 142.9 L93.4 142.0 L93.9 143.4 L94.4 143.7 L94.8 143.2 L95.3 142.7 L95.8 144.1 L96.3 143.5 L96.8 143.7 L97.3 144.2 L97.8 143.0 L98.2 143.4 L98.7 143.3 L99.2 143.7 L99.7 143.2 L100.2 143.6 L100.7 143.4 L101.2 143.9 L101.6 144.0 L102.1 142.8 L102.6 143.7 L103.1 143.3 L103.6 143.5 L104.1 143.8 L104.6 143.9 L105.0 143.5 L105.5 144.0 L106.0 144.0 L106.5 144.2 L107.0 144.0 L107.5 144.9 L108.0 145.8 L108.4 147.0 L108.9 148.2 L109.4 147.9 L109.9 148.5 L110.4 149.5 L110.9 149.4 L111.4 149.2 L111.8 149.0 L112.3 148.7 L112.8 149.0 L113.3 147.7 L113.8 148.6 L114.3 147.2 L114.8 147.0 L115.2 146.4 L115.7 145.7 L116.2 145.6 L116.7 146.7 L117.2 146.7 L117.7 145.4 L118.2 146.0 L118.6 145.4 L119.1 144.8 L119.6 145.8 L120.1 145.9 L120.6 144.6 L121.1 144.6 L121.6 144.6 L122.0 144.3 L122.5 144.6 L123.0 144.8 L123.5 144.0 L124.0 144.3 L124.5 144.4 L125.0 143.3 L125.5 143.4 L125.9 143.1 L126.4 143.6 L126.9 143.2 L127.4 143.2 L127.9 143.0 L128.4 142.3 L128.9 142.6 L129.3 142.0 L129.8 141.9 L130.3 141.0 L130.8 142.5 L131.3 141.4 L131.8 141.9 L132.3 141.8 L132.7 142.6 L133.2 142.2 L133.7 141.7 L134.2 142.2 L134.7 142.2 L135.2 142.5 L135.7 142.0 L136.1 142.7 L136.6 144.0 L137.1 143.5 L137.6 144.3" fill="none" stroke="#e21a1a" stroke-width="1.2" stroke-linejoin="round"/><path d="M16.6 187.2 V124.6 H137.6 V187.2" fill="none" stroke="#38383e" stroke-width="0.8"/><path d="M16.6 187.2 H137.6" fill="none" stroke="#38383e" stroke-width="0.9"/><path d="M16.6 187.2 v-1.6 M16.6 124.6 v1.6 M40.8 187.2 v-1.6 M40.8 124.6 v1.6 M65.0 187.2 v-1.6 M65.0 124.6 v1.6 M89.2 187.2 v-1.6 M89.2 124.6 v1.6 M113.4 187.2 v-1.6 M113.4 124.6 v1.6 M137.6 187.2 v-1.6 M137.6 124.6 v1.6 M16.6 124.6 h1.6 M137.6 124.6 h-1.6 M16.6 140.2 h1.6 M137.6 140.2 h-1.6 M16.6 155.9 h1.6 M137.6 155.9 h-1.6 M16.6 171.5 h1.6 M137.6 171.5 h-1.6 M16.6 187.2 h1.6 M137.6 187.2 h-1.6" stroke="#333" stroke-width="0.6" fill="none"/><text x="16.9" y="195.7" font-size="6.3" text-anchor="middle" fill="#222">0</text><text x="41.1" y="195.7" font-size="6.3" text-anchor="middle" fill="#222">200</text><text x="65.3" y="195.7" font-size="6.3" text-anchor="middle" fill="#222">400</text><text x="89.5" y="195.7" font-size="6.3" text-anchor="middle" fill="#222">600</text><text x="113.7" y="195.7" font-size="6.3" text-anchor="middle" fill="#222">800</text><text x="137.9" y="195.7" font-size="6.3" text-anchor="middle" fill="#222">1000</text><text x="13.4" y="126.9" font-size="6.3" text-anchor="end" fill="#222">1</text><text x="13.4" y="142.6" font-size="6.3" text-anchor="end" fill="#222">0.5</text><text x="13.4" y="158.2" font-size="6.3" text-anchor="end" fill="#222">0</text><text x="13.4" y="173.8" font-size="6.3" text-anchor="end" fill="#222">-0.5</text><text x="13.4" y="189.5" font-size="6.3" text-anchor="end" fill="#222">-1</text><text x="135.7" y="119.5" font-size="10" text-anchor="end" fill="#222">r=0.854</text></g><g><path d="M569.5 156.7 L570.0 156.3 L570.5 156.6 L571.0 156.1 L571.4 155.9 L571.9 156.1 L572.4 155.9 L572.9 155.9 L573.4 156.0 L573.9 156.1 L574.4 156.3 L574.8 155.6 L575.3 155.9 L575.8 155.4 L576.3 155.9 L576.8 156.1 L577.3 156.5 L577.8 156.4 L578.2 157.0 L578.7 157.0 L579.2 157.6 L579.7 157.8 L580.2 158.3 L580.7 157.8 L581.2 158.4 L581.6 158.5 L582.1 158.1 L582.6 158.0 L583.1 157.0 L583.6 156.6 L584.1 155.3 L584.6 154.5 L585.1 153.5 L585.5 151.9 L586.0 149.8 L586.5 146.7 L587.0 144.2 L587.5 142.1 L588.0 141.2 L588.5 140.4 L588.9 139.5 L589.4 138.7 L589.9 138.4 L590.4 138.2 L590.9 138.3 L591.4 138.9 L591.9 140.2 L592.3 141.2 L592.8 143.3 L593.3 144.5 L593.8 145.1 L594.3 145.4 L594.8 146.1 L595.3 146.7 L595.7 147.0 L596.2 147.2 L596.7 147.2 L597.2 147.6 L597.7 147.4 L598.2 147.4 L598.7 146.9 L599.1 146.6 L599.6 146.5 L600.1 145.3 L600.6 145.2 L601.1 144.7 L601.6 144.2 L602.1 143.6 L602.5 142.9 L603.0 142.0 L603.5 141.3 L604.0 140.3 L604.5 139.7 L605.0 138.7 L605.5 137.8 L605.9 136.9 L606.4 136.1 L606.9 135.7 L607.4 134.7 L607.9 133.9 L608.4 133.1 L608.9 132.8 L609.3 131.9 L609.8 131.3 L610.3 130.9 L610.8 129.9 L611.3 130.0 L611.8 129.4 L612.3 128.9 L612.7 128.5 L613.2 128.2 L613.7 127.5 L614.2 127.2 L614.7 127.1 L615.2 126.9 L615.7 127.1 L616.2 127.4 L616.6 126.9 L617.1 127.6 L617.6 127.2 L618.1 127.8 L618.6 127.9 L619.1 128.2 L619.6 128.1 L620.0 128.4 L620.5 128.0 L621.0 128.2 L621.5 128.3 L622.0 128.4 L622.5 128.2 L623.0 128.2 L623.4 127.8 L623.9 127.9 L624.4 128.3 L624.9 127.7 L625.4 128.3 L625.9 127.5 L626.4 128.1 L626.8 127.6 L627.3 127.4 L627.8 127.4 L628.3 127.5 L628.8 126.9 L629.3 127.3 L629.8 127.1 L630.2 126.4 L630.7 126.7 L631.2 126.3 L631.7 126.1 L632.2 126.2 L632.7 126.1 L633.2 126.1 L633.6 126.0 L634.1 125.8 L634.6 125.8 L635.1 125.8 L635.6 125.7 L636.1 125.9 L636.6 125.9 L637.0 125.9 L637.5 125.6 L638.0 125.4 L638.5 125.6 L639.0 126.0 L639.5 125.7 L640.0 125.5 L640.4 125.5 L640.9 125.5 L641.4 125.4 L641.9 125.4 L642.4 125.8 L642.9 125.5 L643.4 125.8 L643.8 125.8 L644.3 125.8 L644.8 125.8 L645.3 126.3 L645.8 126.7 L646.3 126.9 L646.8 127.0 L647.3 127.5 L647.7 127.6 L648.2 127.6 L648.7 127.8 L649.2 128.3 L649.7 128.5 L650.2 128.7 L650.7 129.2 L651.1 129.9 L651.6 129.9 L652.1 130.2 L652.6 130.5 L653.1 130.6 L653.6 131.1 L654.1 130.6 L654.5 130.8 L655.0 130.8 L655.5 130.5 L656.0 130.3 L656.5 130.2 L657.0 130.3 L657.5 130.0 L657.9 128.8 L658.4 129.1 L658.9 128.7 L659.4 128.4 L659.9 128.5 L660.4 128.1 L660.9 128.8 L661.3 128.9 L661.8 130.0 L662.3 130.2 L662.8 130.9 L663.3 131.7 L663.8 132.3 L664.3 132.7 L664.7 133.1 L665.2 133.6 L665.7 134.5 L666.2 134.6 L666.7 135.4 L667.2 135.6 L667.7 136.0 L668.1 136.2 L668.6 136.5 L669.1 136.5 L669.6 136.8 L670.1 136.9 L670.6 136.6 L671.1 136.8 L671.5 136.8 L672.0 136.9 L672.5 137.4 L673.0 137.3 L673.5 138.1 L674.0 138.4 L674.5 139.0 L674.9 139.5 L675.4 139.8 L675.9 140.2 L676.4 140.6 L676.9 140.3 L677.4 140.4 L677.9 140.6 L678.4 140.6 L678.8 141.3 L679.3 141.0 L679.8 141.1 L680.3 141.5 L680.8 141.2 L681.3 141.3 L681.8 141.6 L682.2 141.5 L682.7 141.5 L683.2 141.4 L683.7 141.5 L684.2 142.0 L684.7 142.1 L685.2 142.1 L685.6 142.2 L686.1 142.4 L686.6 142.5 L687.1 142.5 L687.6 142.7 L688.1 143.0 L688.6 143.4 L689.0 143.5 L689.5 143.5 L690.0 143.6 L690.5 143.8" fill="none" stroke="#1c1c8e" stroke-width="1.2" stroke-linejoin="round"/><path d="M569.5 155.8 L570.0 155.5 L570.5 155.4 L571.0 154.5 L571.4 154.9 L571.9 154.5 L572.4 153.9 L572.9 153.8 L573.4 154.1 L573.9 154.8 L574.4 155.0 L574.8 155.0 L575.3 154.6 L575.8 154.4 L576.3 155.1 L576.8 155.2 L577.3 154.1 L577.8 155.8 L578.2 154.5 L578.7 154.0 L579.2 155.1 L579.7 155.2 L580.2 154.9 L580.7 153.8 L581.2 154.4 L581.6 155.8 L582.1 154.7 L582.6 153.7 L583.1 153.9 L583.6 154.4 L584.1 155.3 L584.6 156.8 L585.1 155.5 L585.5 155.9 L586.0 155.8 L586.5 154.7 L587.0 155.6 L587.5 155.1 L588.0 154.3 L588.5 154.3 L588.9 153.8 L589.4 153.0 L589.9 150.9 L590.4 150.1 L590.9 149.5 L591.4 146.5 L591.9 145.4 L592.3 144.8 L592.8 141.6 L593.3 141.0 L593.8 141.2 L594.3 139.2 L594.8 139.4 L595.3 139.0 L595.7 137.8 L596.2 139.6 L596.7 138.6 L597.2 137.6 L597.7 136.8 L598.2 137.3 L598.7 137.4 L599.1 137.4 L599.6 136.6 L600.1 136.0 L600.6 137.7 L601.1 138.2 L601.6 136.9 L602.1 137.0 L602.5 137.5 L603.0 136.4 L603.5 136.3 L604.0 137.4 L604.5 137.3 L605.0 136.6 L605.5 137.5 L605.9 138.2 L606.4 137.1 L606.9 137.5 L607.4 136.2 L607.9 136.4 L608.4 135.7 L608.9 134.6 L609.3 134.6 L609.8 134.5 L610.3 134.3 L610.8 131.7 L611.3 131.9 L611.8 133.6 L612.3 133.1 L612.7 131.7 L613.2 132.4 L613.7 131.8 L614.2 131.1 L614.7 131.5 L615.2 131.6 L615.7 131.7 L616.2 131.3 L616.6 130.9 L617.1 129.7 L617.6 130.1 L618.1 131.0 L618.6 130.0 L619.1 130.5 L619.6 131.6 L620.0 130.4 L620.5 129.5 L621.0 130.6 L621.5 129.3 L622.0 130.1 L622.5 129.7 L623.0 130.5 L623.4 127.8 L623.9 128.9 L624.4 128.3 L624.9 129.2 L625.4 129.7 L625.9 127.3 L626.4 128.5 L626.8 126.4 L627.3 127.5 L627.8 125.8 L628.3 127.3 L628.8 127.9 L629.3 125.8 L629.8 126.3 L630.2 126.1 L630.7 125.3 L631.2 126.7 L631.7 127.0 L632.2 126.8 L632.7 127.2 L633.2 127.2 L633.6 126.8 L634.1 126.5 L634.6 126.1 L635.1 126.6 L635.6 125.8 L636.1 125.1 L636.6 125.8 L637.0 125.3 L637.5 126.3 L638.0 125.4 L638.5 125.2 L639.0 126.1 L639.5 126.8 L640.0 125.8 L640.4 125.7 L640.9 124.6 L641.4 126.1 L641.9 124.6 L642.4 127.8 L642.9 126.3 L643.4 126.6 L643.8 126.7 L644.3 126.9 L644.8 126.7 L645.3 125.6 L645.8 127.2 L646.3 126.3 L646.8 127.5 L647.3 127.5 L647.7 129.6 L648.2 127.8 L648.7 127.6 L649.2 129.2 L649.7 129.0 L650.2 129.4 L650.7 127.3 L651.1 130.0 L651.6 130.0 L652.1 131.8 L652.6 131.2 L653.1 130.1 L653.6 131.6 L654.1 133.1 L654.5 131.5 L655.0 131.6 L655.5 132.0 L656.0 132.5 L656.5 133.9 L657.0 131.9 L657.5 135.1 L657.9 134.8 L658.4 136.7 L658.9 136.6 L659.4 137.6 L659.9 136.5 L660.4 137.0 L660.9 137.4 L661.3 138.2 L661.8 136.2 L662.3 136.0 L662.8 136.0 L663.3 136.7 L663.8 136.1 L664.3 135.9 L664.7 136.3 L665.2 135.5 L665.7 136.8 L666.2 136.5 L666.7 137.8 L667.2 135.0 L667.7 137.2 L668.1 136.4 L668.6 136.2 L669.1 137.4 L669.6 136.9 L670.1 136.4 L670.6 137.0 L671.1 137.3 L671.5 137.3 L672.0 137.7 L672.5 137.4 L673.0 137.1 L673.5 137.3 L674.0 137.0 L674.5 138.1 L674.9 138.9 L675.4 138.2 L675.9 138.9 L676.4 138.7 L676.9 139.6 L677.4 139.6 L677.9 139.9 L678.4 139.8 L678.8 141.2 L679.3 140.5 L679.8 140.4 L680.3 139.2 L680.8 140.6 L681.3 140.3 L681.8 140.8 L682.2 142.3 L682.7 139.8 L683.2 140.3 L683.7 139.9 L684.2 142.0 L684.7 140.8 L685.2 141.0 L685.6 142.5 L686.1 141.1 L686.6 142.1 L687.1 141.5 L687.6 143.4 L688.1 143.1 L688.6 143.3 L689.0 144.2 L689.5 143.3 L690.0 142.7 L690.5 144.1" fill="none" stroke="#e21a1a" stroke-width="1.2" stroke-linejoin="round"/><path d="M569.5 187.2 V124.6 H690.5 V187.2" fill="none" stroke="#38383e" stroke-width="0.8"/><path d="M569.5 187.2 H690.5" fill="none" stroke="#38383e" stroke-width="0.9"/><path d="M569.5 187.2 v-1.6 M569.5 124.6 v1.6 M593.7 187.2 v-1.6 M593.7 124.6 v1.6 M617.9 187.2 v-1.6 M617.9 124.6 v1.6 M642.1 187.2 v-1.6 M642.1 124.6 v1.6 M666.3 187.2 v-1.6 M666.3 124.6 v1.6 M690.5 187.2 v-1.6 M690.5 124.6 v1.6 M569.5 124.6 h1.6 M690.5 124.6 h-1.6 M569.5 140.2 h1.6 M690.5 140.2 h-1.6 M569.5 155.9 h1.6 M690.5 155.9 h-1.6 M569.5 171.5 h1.6 M690.5 171.5 h-1.6 M569.5 187.2 h1.6 M690.5 187.2 h-1.6" stroke="#333" stroke-width="0.6" fill="none"/><text x="569.8" y="195.7" font-size="6.3" text-anchor="middle" fill="#222">0</text><text x="594.0" y="195.7" font-size="6.3" text-anchor="middle" fill="#222">200</text><text x="618.2" y="195.7" font-size="6.3" text-anchor="middle" fill="#222">400</text><text x="642.4" y="195.7" font-size="6.3" text-anchor="middle" fill="#222">600</text><text x="666.6" y="195.7" font-size="6.3" text-anchor="middle" fill="#222">800</text><text x="690.8" y="195.7" font-size="6.3" text-anchor="middle" fill="#222">1000</text><text x="566.3" y="126.9" font-size="6.3" text-anchor="end" fill="#222">1</text><text x="566.3" y="142.6" font-size="6.3" text-anchor="end" fill="#222">0.5</text><text x="566.3" y="158.2" font-size="6.3" text-anchor="end" fill="#222">0</text><text x="566.3" y="173.8" font-size="6.3" text-anchor="end" fill="#222">-0.5</text><text x="566.3" y="189.5" font-size="6.3" text-anchor="end" fill="#222">-1</text><text x="689.8" y="119.2" font-size="10" text-anchor="end" fill="#222">r=0.904</text></g><g><path d="M16.6 266.8 L17.1 263.1 L17.6 263.7 L18.1 263.4 L18.5 260.3 L19.0 268.8 L19.5 266.7 L20.0 268.6 L20.5 264.5 L21.0 260.8 L21.5 263.9 L21.9 262.2 L22.4 269.6 L22.9 263.2 L23.4 266.5 L23.9 258.1 L24.4 260.9 L24.9 260.7 L25.3 263.8 L25.8 261.7 L26.3 261.6 L26.8 264.7 L27.3 265.2 L27.8 264.0 L28.3 265.5 L28.7 265.5 L29.2 264.3 L29.7 265.0 L30.2 259.5 L30.7 266.0 L31.2 257.5 L31.7 261.3 L32.2 260.7 L32.6 263.3 L33.1 260.0 L33.6 261.1 L34.1 260.8 L34.6 264.4 L35.1 263.8 L35.6 259.9 L36.0 265.7 L36.5 270.7 L37.0 268.4 L37.5 274.6 L38.0 275.3 L38.5 278.0 L39.0 283.7 L39.4 290.4 L39.9 286.5 L40.4 283.8 L40.9 286.2 L41.4 282.7 L41.9 279.8 L42.4 283.3 L42.8 276.4 L43.3 274.0 L43.8 274.8 L44.3 274.1 L44.8 274.4 L45.3 271.1 L45.8 278.1 L46.2 279.1 L46.7 277.4 L47.2 281.9 L47.7 282.8 L48.2 278.9 L48.7 272.9 L49.2 270.3 L49.6 274.4 L50.1 273.6 L50.6 267.5 L51.1 266.0 L51.6 264.6 L52.1 261.4 L52.6 258.7 L53.0 261.0 L53.5 259.0 L54.0 263.6 L54.5 263.2 L55.0 258.2 L55.5 256.3 L56.0 255.6 L56.4 255.6 L56.9 254.6 L57.4 254.2 L57.9 261.8 L58.4 258.3 L58.9 254.2 L59.4 253.5 L59.8 259.8 L60.3 251.1 L60.8 256.0 L61.3 255.2 L61.8 253.5 L62.3 251.9 L62.8 258.8 L63.3 251.7 L63.7 255.6 L64.2 259.6 L64.7 259.6 L65.2 267.2 L65.7 264.0 L66.2 262.8 L66.7 266.7 L67.1 266.1 L67.6 265.7 L68.1 265.0 L68.6 261.8 L69.1 264.9 L69.6 265.4 L70.1 262.6 L70.5 257.5 L71.0 264.7 L71.5 261.7 L72.0 267.7 L72.5 257.9 L73.0 259.4 L73.5 256.4 L73.9 260.0 L74.4 262.2 L74.9 255.2 L75.4 254.7 L75.9 258.9 L76.4 260.0 L76.9 253.2 L77.3 254.4 L77.8 245.0 L78.3 254.5 L78.8 253.5 L79.3 251.6 L79.8 255.8 L80.3 252.7 L80.7 244.2 L81.2 249.1 L81.7 250.0 L82.2 251.5 L82.7 245.1 L83.2 244.3 L83.7 245.0 L84.1 246.4 L84.6 243.5 L85.1 242.6 L85.6 245.3 L86.1 240.6 L86.6 248.5 L87.1 245.4 L87.5 241.9 L88.0 240.9 L88.5 243.9 L89.0 239.1 L89.5 236.8 L90.0 238.8 L90.5 239.6 L90.9 237.9 L91.4 239.4 L91.9 244.4 L92.4 241.6 L92.9 237.1 L93.4 244.9 L93.9 241.3 L94.4 242.8 L94.8 244.5 L95.3 244.9 L95.8 241.4 L96.3 240.7 L96.8 240.7 L97.3 246.2 L97.8 242.6 L98.2 240.6 L98.7 238.7 L99.2 239.6 L99.7 239.1 L100.2 238.3 L100.7 239.1 L101.2 244.3 L101.6 241.7 L102.1 245.0 L102.6 251.5 L103.1 251.0 L103.6 240.9 L104.1 252.6 L104.6 257.4 L105.0 253.1 L105.5 247.2 L106.0 252.7 L106.5 251.8 L107.0 254.5 L107.5 254.4 L108.0 250.6 L108.4 252.4 L108.9 255.5 L109.4 252.8 L109.9 252.5 L110.4 256.9 L110.9 255.6 L111.4 255.9 L111.8 259.1 L112.3 253.6 L112.8 257.8 L113.3 259.3 L113.8 262.6 L114.3 261.3 L114.8 252.4 L115.2 260.6 L115.7 255.5 L116.2 257.8 L116.7 254.9 L117.2 254.4 L117.7 258.6 L118.2 256.9 L118.6 255.6 L119.1 255.5 L119.6 255.9 L120.1 257.0 L120.6 254.4 L121.1 252.7 L121.6 255.7 L122.0 260.3 L122.5 257.5 L123.0 259.2 L123.5 258.7 L124.0 255.0 L124.5 262.0 L125.0 261.8 L125.5 264.8 L125.9 263.2 L126.4 264.2 L126.9 257.6 L127.4 261.9 L127.9 264.8 L128.4 257.1 L128.9 267.4 L129.3 260.7 L129.8 260.3 L130.3 261.8 L130.8 264.4 L131.3 264.1 L131.8 264.7 L132.3 261.2 L132.7 271.0 L133.2 265.3 L133.7 263.2 L134.2 265.5 L134.7 269.3 L135.2 264.4 L135.7 266.0 L136.1 261.1 L136.6 259.3 L137.1 263.4 L137.6 269.7" fill="none" stroke="#1c1c8e" stroke-width="1.2" stroke-linejoin="round"/><path d="M16.6 265.1 L17.1 262.1 L17.6 262.3 L18.1 266.0 L18.5 265.4 L19.0 265.7 L19.5 263.2 L20.0 264.5 L20.5 262.6 L21.0 268.1 L21.5 260.5 L21.9 264.0 L22.4 262.2 L22.9 263.9 L23.4 264.3 L23.9 262.4 L24.4 261.5 L24.9 263.6 L25.3 263.4 L25.8 261.5 L26.3 264.8 L26.8 266.1 L27.3 261.8 L27.8 263.9 L28.3 266.5 L28.7 263.8 L29.2 262.5 L29.7 262.9 L30.2 262.2 L30.7 257.3 L31.2 254.0 L31.7 255.4 L32.2 255.9 L32.6 253.5 L33.1 253.1 L33.6 255.9 L34.1 254.9 L34.6 254.8 L35.1 258.7 L35.6 261.2 L36.0 260.0 L36.5 262.4 L37.0 263.6 L37.5 272.5 L38.0 274.9 L38.5 278.7 L39.0 283.3 L39.4 280.5 L39.9 279.5 L40.4 281.1 L40.9 274.6 L41.4 273.6 L41.9 271.5 L42.4 269.5 L42.8 266.1 L43.3 269.4 L43.8 263.6 L44.3 262.1 L44.8 265.8 L45.3 259.7 L45.8 259.7 L46.2 256.2 L46.7 257.7 L47.2 255.7 L47.7 254.0 L48.2 256.0 L48.7 252.1 L49.2 252.9 L49.6 251.0 L50.1 252.6 L50.6 248.5 L51.1 249.1 L51.6 250.4 L52.1 248.4 L52.6 246.8 L53.0 245.6 L53.5 253.0 L54.0 247.6 L54.5 248.5 L55.0 249.7 L55.5 251.8 L56.0 246.8 L56.4 252.3 L56.9 248.3 L57.4 246.7 L57.9 253.1 L58.4 250.2 L58.9 252.4 L59.4 249.0 L59.8 246.2 L60.3 245.1 L60.8 253.4 L61.3 250.8 L61.8 248.0 L62.3 246.1 L62.8 248.7 L63.3 252.0 L63.7 251.1 L64.2 253.6 L64.7 255.9 L65.2 258.8 L65.7 257.6 L66.2 258.3 L66.7 259.1 L67.1 259.2 L67.6 261.2 L68.1 259.0 L68.6 254.8 L69.1 257.3 L69.6 259.4 L70.1 252.7 L70.5 253.8 L71.0 249.7 L71.5 253.4 L72.0 253.6 L72.5 254.7 L73.0 247.4 L73.5 243.4 L73.9 249.5 L74.4 247.8 L74.9 243.9 L75.4 245.9 L75.9 243.7 L76.4 243.1 L76.9 241.4 L77.3 239.2 L77.8 241.4 L78.3 239.2 L78.8 242.0 L79.3 240.3 L79.8 245.6 L80.3 244.0 L80.7 239.0 L81.2 241.9 L81.7 239.3 L82.2 239.2 L82.7 237.4 L83.2 238.3 L83.7 237.7 L84.1 239.9 L84.6 240.9 L85.1 240.7 L85.6 239.8 L86.1 240.8 L86.6 239.2 L87.1 237.9 L87.5 236.9 L88.0 238.0 L88.5 241.3 L89.0 237.2 L89.5 236.5 L90.0 234.7 L90.5 235.9 L90.9 238.7 L91.4 239.1 L91.9 233.3 L92.4 236.2 L92.9 234.0 L93.4 233.5 L93.9 240.2 L94.4 237.6 L94.8 237.5 L95.3 237.3 L95.8 237.4 L96.3 238.1 L96.8 238.2 L97.3 241.9 L97.8 238.9 L98.2 240.2 L98.7 238.3 L99.2 239.6 L99.7 237.2 L100.2 236.8 L100.7 237.9 L101.2 237.9 L101.6 238.1 L102.1 238.3 L102.6 236.3 L103.1 235.7 L103.6 233.1 L104.1 233.9 L104.6 233.1 L105.0 237.9 L105.5 233.9 L106.0 238.5 L106.5 239.4 L107.0 239.3 L107.5 241.1 L108.0 240.2 L108.4 242.8 L108.9 244.5 L109.4 244.6 L109.9 240.4 L110.4 243.7 L110.9 246.8 L111.4 244.7 L111.8 248.6 L112.3 241.7 L112.8 249.3 L113.3 245.3 L113.8 245.5 L114.3 250.1 L114.8 246.5 L115.2 245.2 L115.7 246.6 L116.2 247.3 L116.7 246.0 L117.2 247.9 L117.7 247.7 L118.2 249.0 L118.6 247.6 L119.1 251.4 L119.6 247.9 L120.1 251.2 L120.6 253.1 L121.1 250.5 L121.6 248.2 L122.0 250.5 L122.5 254.5 L123.0 252.6 L123.5 255.8 L124.0 255.8 L124.5 256.0 L125.0 261.9 L125.5 256.9 L125.9 260.1 L126.4 259.8 L126.9 261.9 L127.4 262.4 L127.9 261.6 L128.4 258.1 L128.9 256.6 L129.3 260.7 L129.8 258.6 L130.3 261.9 L130.8 265.8 L131.3 261.6 L131.8 261.2 L132.3 263.5 L132.7 262.1 L133.2 261.8 L133.7 265.3 L134.2 266.9 L134.7 264.4 L135.2 264.6 L135.7 265.1 L136.1 262.4 L136.6 261.0 L137.1 265.9 L137.6 263.7" fill="none" stroke="#e21a1a" stroke-width="1.2" stroke-linejoin="round"/><path d="M16.6 295.0 V232.3 H137.6 V295.0" fill="none" stroke="#38383e" stroke-width="0.8"/><path d="M16.6 295.0 H137.6" fill="none" stroke="#38383e" stroke-width="0.9"/><path d="M16.6 295.0 v-1.6 M16.6 232.3 v1.6 M40.8 295.0 v-1.6 M40.8 232.3 v1.6 M65.0 295.0 v-1.6 M65.0 232.3 v1.6 M89.2 295.0 v-1.6 M89.2 232.3 v1.6 M113.4 295.0 v-1.6 M113.4 232.3 v1.6 M137.6 295.0 v-1.6 M137.6 232.3 v1.6 M16.6 232.3 h1.6 M137.6 232.3 h-1.6 M16.6 248.0 h1.6 M137.6 248.0 h-1.6 M16.6 263.6 h1.6 M137.6 263.6 h-1.6 M16.6 279.3 h1.6 M137.6 279.3 h-1.6 M16.6 295.0 h1.6 M137.6 295.0 h-1.6" stroke="#333" stroke-width="0.6" fill="none"/><text x="16.9" y="303.5" font-size="6.3" text-anchor="middle" fill="#222">0</text><text x="41.1" y="303.5" font-size="6.3" text-anchor="middle" fill="#222">200</text><text x="65.3" y="303.5" font-size="6.3" text-anchor="middle" fill="#222">400</text><text x="89.5" y="303.5" font-size="6.3" text-anchor="middle" fill="#222">600</text><text x="113.7" y="303.5" font-size="6.3" text-anchor="middle" fill="#222">800</text><text x="137.9" y="303.5" font-size="6.3" text-anchor="middle" fill="#222">1000</text><text x="13.4" y="234.6" font-size="6.3" text-anchor="end" fill="#222">1</text><text x="13.4" y="250.3" font-size="6.3" text-anchor="end" fill="#222">0.5</text><text x="13.4" y="265.9" font-size="6.3" text-anchor="end" fill="#222">0</text><text x="13.4" y="281.6" font-size="6.3" text-anchor="end" fill="#222">-0.5</text><text x="13.4" y="297.3" font-size="6.3" text-anchor="end" fill="#222">-1</text><text x="137.3" y="226.5" font-size="10" text-anchor="end" fill="#222">r=0.833</text></g><g><path d="M293.4 264.1 L293.9 266.8 L294.4 264.0 L294.9 264.3 L295.3 263.3 L295.8 263.7 L296.3 262.7 L296.8 263.8 L297.3 264.0 L297.8 263.3 L298.3 263.4 L298.7 263.9 L299.2 263.8 L299.7 263.3 L300.2 263.7 L300.7 265.2 L301.2 266.1 L301.6 267.9 L302.1 266.5 L302.6 268.3 L303.1 267.5 L303.6 268.1 L304.1 267.1 L304.6 267.4 L305.0 268.2 L305.5 267.4 L306.0 268.9 L306.5 267.6 L307.0 269.1 L307.5 266.7 L308.0 264.2 L308.4 262.0 L308.9 259.4 L309.4 256.6 L309.9 253.5 L310.4 250.1 L310.9 247.7 L311.4 245.7 L311.8 243.5 L312.3 239.4 L312.8 238.2 L313.3 235.4 L313.8 233.9 L314.3 232.3 L314.7 232.3 L315.2 232.8 L315.7 234.2 L316.2 236.5 L316.7 237.8 L317.2 239.3 L317.7 242.1 L318.1 244.0 L318.6 247.2 L319.1 249.5 L319.6 252.7 L320.1 255.4 L320.6 258.1 L321.1 259.1 L321.5 261.6 L322.0 262.7 L322.5 263.9 L323.0 264.1 L323.5 265.8 L324.0 266.5 L324.4 266.4 L324.9 266.7 L325.4 267.5 L325.9 270.0 L326.4 269.2 L326.9 269.6 L327.4 269.9 L327.8 269.7 L328.3 268.5 L328.8 270.0 L329.3 270.4 L329.8 269.5 L330.3 269.8 L330.8 269.5 L331.2 269.7 L331.7 268.9 L332.2 268.2 L332.7 269.2 L333.2 268.6 L333.7 266.5 L334.2 266.2 L334.6 266.8 L335.1 266.9 L335.6 266.3 L336.1 266.9 L336.6 266.4 L337.1 265.2 L337.5 266.2 L338.0 265.6 L338.5 266.6 L339.0 266.3 L339.5 265.7 L340.0 267.5 L340.5 266.9 L340.9 266.9 L341.4 266.6 L341.9 265.8 L342.4 266.3 L342.9 267.5 L343.4 266.5 L343.9 266.5 L344.3 266.2 L344.8 264.0 L345.3 265.5 L345.8 264.3 L346.3 264.5 L346.8 263.1 L347.3 263.1 L347.7 263.0 L348.2 262.8 L348.7 261.7 L349.2 262.7 L349.7 262.2 L350.2 262.2 L350.6 260.4 L351.1 261.3 L351.6 261.8 L352.1 261.5 L352.6 259.9 L353.1 261.7 L353.6 261.4 L354.0 261.9 L354.5 262.5 L355.0 263.2 L355.5 263.1 L356.0 263.2 L356.5 264.4 L357.0 261.3 L357.4 262.3 L357.9 262.7 L358.4 262.7 L358.9 263.0 L359.4 261.7 L359.9 262.3 L360.3 261.8 L360.8 263.0 L361.3 261.9 L361.8 260.9 L362.3 262.5 L362.8 262.0 L363.3 262.7 L363.7 262.3 L364.2 262.6 L364.7 263.4 L365.2 263.9 L365.7 263.5 L366.2 263.6 L366.7 263.9 L367.1 263.1 L367.6 262.9 L368.1 263.4 L368.6 262.6 L369.1 260.4 L369.6 261.4 L370.1 261.5 L370.5 259.6 L371.0 261.2 L371.5 262.2 L372.0 261.7 L372.5 261.3 L373.0 260.0 L373.4 259.5 L373.9 261.4 L374.4 259.2 L374.9 260.6 L375.4 259.6 L375.9 259.3 L376.4 259.2 L376.8 259.4 L377.3 259.1 L377.8 259.7 L378.3 258.6 L378.8 257.7 L379.3 257.2 L379.8 255.5 L380.2 255.8 L380.7 255.3 L381.2 253.9 L381.7 254.0 L382.2 254.3 L382.7 254.2 L383.2 251.4 L383.6 251.2 L384.1 250.3 L384.6 250.3 L385.1 249.3 L385.6 247.8 L386.1 248.5 L386.5 249.3 L387.0 249.2 L387.5 248.8 L388.0 251.2 L388.5 253.2 L389.0 254.0 L389.5 254.3 L389.9 253.6 L390.4 254.5 L390.9 255.5 L391.4 256.2 L391.9 255.8 L392.4 256.2 L392.9 256.7 L393.3 256.8 L393.8 257.4 L394.3 256.1 L394.8 258.9 L395.3 257.6 L395.8 258.5 L396.2 257.6 L396.7 258.4 L397.2 258.2 L397.7 258.3 L398.2 258.7 L398.7 258.4 L399.2 260.0 L399.6 258.7 L400.1 259.6 L400.6 259.3 L401.1 258.7 L401.6 259.1 L402.1 258.6 L402.6 261.4 L403.0 260.6 L403.5 259.5 L404.0 260.9 L404.5 260.4 L405.0 259.2 L405.5 259.8 L406.0 261.0 L406.4 260.2 L406.9 260.1 L407.4 260.5 L407.9 260.6 L408.4 260.4 L408.9 261.4 L409.3 260.4 L409.8 261.1 L410.3 260.2 L410.8 260.1 L411.3 260.9 L411.8 259.9 L412.3 260.0 L412.7 260.2 L413.2 259.6 L413.7 260.2 L414.2 260.1" fill="none" stroke="#1c1c8e" stroke-width="1.2" stroke-linejoin="round"/><path d="M293.4 263.6 L293.9 264.9 L294.4 265.3 L294.9 266.4 L295.3 263.8 L295.8 262.2 L296.3 263.2 L296.8 262.7 L297.3 262.2 L297.8 263.9 L298.3 260.6 L298.7 263.9 L299.2 262.7 L299.7 260.5 L300.2 263.2 L300.7 263.1 L301.2 263.9 L301.6 263.3 L302.1 265.8 L302.6 264.7 L303.1 262.7 L303.6 264.4 L304.1 265.2 L304.6 265.1 L305.0 265.5 L305.5 266.2 L306.0 266.1 L306.5 268.3 L307.0 266.0 L307.5 266.1 L308.0 262.9 L308.4 261.2 L308.9 259.4 L309.4 255.8 L309.9 254.0 L310.4 249.9 L310.9 248.6 L311.4 245.2 L311.8 244.5 L312.3 239.3 L312.8 238.6 L313.3 234.8 L313.8 233.5 L314.3 234.0 L314.7 232.3 L315.2 233.0 L315.7 233.1 L316.2 233.8 L316.7 236.7 L317.2 238.7 L317.7 243.4 L318.1 244.5 L318.6 247.0 L319.1 249.4 L319.6 254.4 L320.1 256.9 L320.6 260.7 L321.1 266.1 L321.5 269.1 L322.0 270.7 L322.5 274.7 L323.0 277.3 L323.5 277.8 L324.0 280.9 L324.4 283.7 L324.9 285.5 L325.4 287.7 L325.9 289.1 L326.4 289.7 L326.9 288.9 L327.4 287.8 L327.8 288.9 L328.3 287.8 L328.8 287.2 L329.3 287.3 L329.8 285.1 L330.3 283.5 L330.8 283.9 L331.2 281.0 L331.7 281.0 L332.2 278.2 L332.7 277.2 L333.2 278.2 L333.7 279.5 L334.2 277.7 L334.6 278.5 L335.1 278.3 L335.6 277.2 L336.1 275.6 L336.6 276.9 L337.1 277.0 L337.5 278.7 L338.0 277.7 L338.5 278.8 L339.0 277.3 L339.5 278.7 L340.0 278.6 L340.5 278.9 L340.9 279.3 L341.4 278.4 L341.9 278.9 L342.4 279.6 L342.9 279.0 L343.4 278.4 L343.9 277.4 L344.3 278.3 L344.8 276.7 L345.3 278.3 L345.8 277.7 L346.3 278.5 L346.8 276.0 L347.3 277.4 L347.7 277.2 L348.2 275.2 L348.7 276.2 L349.2 276.2 L349.7 274.3 L350.2 275.2 L350.6 273.9 L351.1 274.9 L351.6 273.6 L352.1 273.0 L352.6 273.7 L353.1 271.8 L353.6 273.6 L354.0 273.1 L354.5 272.5 L355.0 271.2 L355.5 272.0 L356.0 271.7 L356.5 270.6 L357.0 269.2 L357.4 270.4 L357.9 270.8 L358.4 269.3 L358.9 268.3 L359.4 269.1 L359.9 268.2 L360.3 269.9 L360.8 267.9 L361.3 267.7 L361.8 267.0 L362.3 267.2 L362.8 266.6 L363.3 268.1 L363.7 266.4 L364.2 268.5 L364.7 267.4 L365.2 265.8 L365.7 266.0 L366.2 268.6 L366.7 266.6 L367.1 268.1 L367.6 269.0 L368.1 268.7 L368.6 269.3 L369.1 268.5 L369.6 271.3 L370.1 270.3 L370.5 269.8 L371.0 271.2 L371.5 268.0 L372.0 267.1 L372.5 268.9 L373.0 267.4 L373.4 267.6 L373.9 266.5 L374.4 266.9 L374.9 265.0 L375.4 266.5 L375.9 263.6 L376.4 264.2 L376.8 261.8 L377.3 265.1 L377.8 263.2 L378.3 263.8 L378.8 262.3 L379.3 261.2 L379.8 262.0 L380.2 262.0 L380.7 261.8 L381.2 259.4 L381.7 257.7 L382.2 257.2 L382.7 257.6 L383.2 257.9 L383.6 256.7 L384.1 257.1 L384.6 256.7 L385.1 253.8 L385.6 254.7 L386.1 254.0 L386.5 254.5 L387.0 253.3 L387.5 253.7 L388.0 256.5 L388.5 256.9 L389.0 258.1 L389.5 257.0 L389.9 257.7 L390.4 259.6 L390.9 257.6 L391.4 260.2 L391.9 261.8 L392.4 262.9 L392.9 261.6 L393.3 261.5 L393.8 262.7 L394.3 262.1 L394.8 261.7 L395.3 263.2 L395.8 262.7 L396.2 262.2 L396.7 263.6 L397.2 264.9 L397.7 264.2 L398.2 264.4 L398.7 263.2 L399.2 265.9 L399.6 267.2 L400.1 265.7 L400.6 265.9 L401.1 266.8 L401.6 266.1 L402.1 266.5 L402.6 265.8 L403.0 267.9 L403.5 267.9 L404.0 267.5 L404.5 268.1 L405.0 266.6 L405.5 267.4 L406.0 268.1 L406.4 266.7 L406.9 267.8 L407.4 267.4 L407.9 267.6 L408.4 268.5 L408.9 268.5 L409.3 268.3 L409.8 269.3 L410.3 268.5 L410.8 267.2 L411.3 267.6 L411.8 268.7 L412.3 265.4 L412.7 268.4 L413.2 266.7 L413.7 266.3 L414.2 265.6" fill="none" stroke="#e21a1a" stroke-width="1.2" stroke-linejoin="round"/><path d="M293.4 295.0 V232.3 H414.2 V295.0" fill="none" stroke="#38383e" stroke-width="0.8"/><path d="M293.4 295.0 H414.2" fill="none" stroke="#7c7ca6" stroke-width="0.9"/><path d="M293.4 232.3 H414.2" fill="none" stroke="#2a2a7a" stroke-width="0.9"/><path d="M293.4 295.0 v-1.6 M293.4 232.3 v1.6 M317.6 295.0 v-1.6 M317.6 232.3 v1.6 M341.7 295.0 v-1.6 M341.7 232.3 v1.6 M365.9 295.0 v-1.6 M365.9 232.3 v1.6 M390.0 295.0 v-1.6 M390.0 232.3 v1.6 M414.2 295.0 v-1.6 M414.2 232.3 v1.6 M293.4 232.3 h1.6 M414.2 232.3 h-1.6 M293.4 248.0 h1.6 M414.2 248.0 h-1.6 M293.4 263.6 h1.6 M414.2 263.6 h-1.6 M293.4 279.3 h1.6 M414.2 279.3 h-1.6 M293.4 295.0 h1.6 M414.2 295.0 h-1.6" stroke="#333" stroke-width="0.6" fill="none"/><text x="293.7" y="303.5" font-size="6.3" text-anchor="middle" fill="#222">0</text><text x="317.9" y="303.5" font-size="6.3" text-anchor="middle" fill="#222">200</text><text x="342.0" y="303.5" font-size="6.3" text-anchor="middle" fill="#222">400</text><text x="366.2" y="303.5" font-size="6.3" text-anchor="middle" fill="#222">600</text><text x="390.3" y="303.5" font-size="6.3" text-anchor="middle" fill="#222">800</text><text x="414.5" y="303.5" font-size="6.3" text-anchor="middle" fill="#222">1000</text><text x="290.2" y="234.6" font-size="6.3" text-anchor="end" fill="#222">1</text><text x="290.2" y="250.3" font-size="6.3" text-anchor="end" fill="#222">0.5</text><text x="290.2" y="265.9" font-size="6.3" text-anchor="end" fill="#222">0</text><text x="290.2" y="281.6" font-size="6.3" text-anchor="end" fill="#222">-0.5</text><text x="290.2" y="297.3" font-size="6.3" text-anchor="end" fill="#222">-1</text><text x="413.8" y="226.5" font-size="10" text-anchor="end" fill="#222">r=0.881</text></g><g><path d="M569.5 266.0 L570.0 264.2 L570.5 263.5 L571.0 263.4 L571.4 262.2 L571.9 264.8 L572.4 263.5 L572.9 264.5 L573.4 265.7 L573.9 264.7 L574.4 263.6 L574.8 264.8 L575.3 263.9 L575.8 262.2 L576.3 262.9 L576.8 262.9 L577.3 263.2 L577.8 263.9 L578.2 266.0 L578.7 262.4 L579.2 265.5 L579.7 263.4 L580.2 263.8 L580.7 263.5 L581.2 263.3 L581.6 264.1 L582.1 262.6 L582.6 265.4 L583.1 262.9 L583.6 266.2 L584.1 262.7 L584.6 265.0 L585.1 264.1 L585.5 262.9 L586.0 267.7 L586.5 265.5 L587.0 264.4 L587.5 264.1 L588.0 263.5 L588.5 264.3 L588.9 264.2 L589.4 264.4 L589.9 263.7 L590.4 263.5 L590.9 261.8 L591.4 262.2 L591.9 260.9 L592.3 259.0 L592.8 258.8 L593.3 260.0 L593.8 258.9 L594.3 256.8 L594.8 257.2 L595.3 257.1 L595.7 254.4 L596.2 250.6 L596.7 249.8 L597.2 248.4 L597.7 245.6 L598.2 246.7 L598.7 241.9 L599.1 244.1 L599.6 244.1 L600.1 240.7 L600.6 244.2 L601.1 243.1 L601.6 242.3 L602.1 243.1 L602.5 242.0 L603.0 240.6 L603.5 240.8 L604.0 240.7 L604.5 239.0 L605.0 237.4 L605.5 237.3 L605.9 241.2 L606.4 236.2 L606.9 236.3 L607.4 236.1 L607.9 237.2 L608.4 235.9 L608.9 235.1 L609.3 236.2 L609.8 232.5 L610.3 232.8 L610.8 233.9 L611.3 235.1 L611.8 232.3 L612.3 233.1 L612.7 232.7 L613.2 234.6 L613.7 232.3 L614.2 234.4 L614.7 232.3 L615.2 237.0 L615.7 234.2 L616.2 234.7 L616.6 238.1 L617.1 235.9 L617.6 236.8 L618.1 237.3 L618.6 237.2 L619.1 238.9 L619.6 238.4 L620.0 239.7 L620.5 241.3 L621.0 243.7 L621.5 243.9 L622.0 241.4 L622.5 244.1 L623.0 243.9 L623.4 244.7 L623.9 243.4 L624.4 243.1 L624.9 243.3 L625.4 243.8 L625.9 243.6 L626.4 244.8 L626.8 243.9 L627.3 246.0 L627.8 244.8 L628.3 244.0 L628.8 246.6 L629.3 244.5 L629.8 245.3 L630.2 247.5 L630.7 248.3 L631.2 248.5 L631.7 248.0 L632.2 246.5 L632.7 246.8 L633.2 245.8 L633.6 244.7 L634.1 248.3 L634.6 250.4 L635.1 249.8 L635.6 250.5 L636.1 248.8 L636.6 248.7 L637.0 246.4 L637.5 249.9 L638.0 248.3 L638.5 248.3 L639.0 248.1 L639.5 248.7 L640.0 245.3 L640.4 248.2 L640.9 247.9 L641.4 247.1 L641.9 247.7 L642.4 245.8 L642.9 249.5 L643.4 248.2 L643.8 248.6 L644.3 248.1 L644.8 246.9 L645.3 248.7 L645.8 250.4 L646.3 247.9 L646.8 249.3 L647.3 247.2 L647.7 247.7 L648.2 245.4 L648.7 247.4 L649.2 249.3 L649.7 248.0 L650.2 247.5 L650.7 249.2 L651.1 249.7 L651.6 250.5 L652.1 251.2 L652.6 252.3 L653.1 250.2 L653.6 251.6 L654.1 254.4 L654.5 251.6 L655.0 253.4 L655.5 253.6 L656.0 254.2 L656.5 253.4 L657.0 258.2 L657.5 255.9 L657.9 255.6 L658.4 256.8 L658.9 259.0 L659.4 258.8 L659.9 257.1 L660.4 255.6 L660.9 259.8 L661.3 258.1 L661.8 257.0 L662.3 257.1 L662.8 256.7 L663.3 255.9 L663.8 256.4 L664.3 259.2 L664.7 257.7 L665.2 258.7 L665.7 257.4 L666.2 255.4 L666.7 256.0 L667.2 254.4 L667.7 255.5 L668.1 255.8 L668.6 255.8 L669.1 257.9 L669.6 257.1 L670.1 256.1 L670.6 255.9 L671.1 256.0 L671.5 257.9 L672.0 258.0 L672.5 258.1 L673.0 254.4 L673.5 256.9 L674.0 255.7 L674.5 256.9 L674.9 257.1 L675.4 257.3 L675.9 257.6 L676.4 257.1 L676.9 256.2 L677.4 258.9 L677.9 257.2 L678.4 257.7 L678.8 257.9 L679.3 256.5 L679.8 255.3 L680.3 259.0 L680.8 257.1 L681.3 256.0 L681.8 256.3 L682.2 259.3 L682.7 256.7 L683.2 257.8 L683.7 257.9 L684.2 256.4 L684.7 258.6 L685.2 257.1 L685.6 256.3 L686.1 258.3 L686.6 258.8 L687.1 255.0 L687.6 259.1 L688.1 256.4 L688.6 259.0 L689.0 258.1 L689.5 259.1 L690.0 258.5 L690.5 258.7" fill="none" stroke="#1c1c8e" stroke-width="1.2" stroke-linejoin="round"/><path d="M569.5 263.2 L570.0 262.7 L570.5 261.5 L571.0 262.1 L571.4 261.2 L571.9 260.8 L572.4 262.5 L572.9 260.4 L573.4 261.5 L573.9 259.3 L574.4 260.3 L574.8 261.1 L575.3 260.4 L575.8 260.3 L576.3 260.1 L576.8 259.1 L577.3 259.7 L577.8 258.7 L578.2 259.4 L578.7 260.0 L579.2 260.9 L579.7 260.8 L580.2 259.3 L580.7 258.8 L581.2 258.0 L581.6 259.4 L582.1 258.5 L582.6 258.7 L583.1 257.7 L583.6 258.5 L584.1 255.4 L584.6 255.8 L585.1 254.6 L585.5 253.7 L586.0 253.5 L586.5 254.7 L587.0 252.6 L587.5 253.7 L588.0 254.5 L588.5 256.1 L588.9 257.7 L589.4 258.5 L589.9 258.1 L590.4 258.4 L590.9 259.4 L591.4 257.5 L591.9 258.3 L592.3 256.8 L592.8 255.5 L593.3 255.3 L593.8 251.8 L594.3 250.3 L594.8 249.8 L595.3 246.5 L595.7 244.8 L596.2 243.9 L596.7 243.0 L597.2 244.1 L597.7 242.4 L598.2 241.9 L598.7 240.7 L599.1 240.0 L599.6 238.6 L600.1 238.3 L600.6 239.0 L601.1 237.2 L601.6 236.2 L602.1 236.8 L602.5 237.9 L603.0 236.9 L603.5 236.1 L604.0 236.9 L604.5 235.4 L605.0 236.0 L605.5 234.1 L605.9 233.9 L606.4 234.3 L606.9 235.1 L607.4 233.7 L607.9 234.4 L608.4 234.4 L608.9 233.0 L609.3 234.5 L609.8 235.0 L610.3 233.3 L610.8 232.5 L611.3 232.7 L611.8 233.3 L612.3 232.3 L612.7 234.3 L613.2 232.3 L613.7 232.4 L614.2 234.4 L614.7 233.8 L615.2 235.2 L615.7 235.0 L616.2 233.8 L616.6 235.2 L617.1 234.2 L617.6 234.1 L618.1 234.4 L618.6 234.2 L619.1 234.1 L619.6 236.4 L620.0 236.8 L620.5 237.4 L621.0 239.8 L621.5 240.6 L622.0 242.5 L622.5 240.8 L623.0 240.8 L623.4 241.7 L623.9 240.9 L624.4 241.7 L624.9 242.7 L625.4 243.7 L625.9 244.7 L626.4 244.2 L626.8 244.1 L627.3 244.8 L627.8 245.1 L628.3 245.3 L628.8 244.6 L629.3 246.6 L629.8 245.6 L630.2 245.4 L630.7 245.0 L631.2 245.1 L631.7 245.9 L632.2 246.2 L632.7 246.7 L633.2 245.0 L633.6 245.5 L634.1 245.9 L634.6 246.7 L635.1 247.1 L635.6 245.4 L636.1 246.4 L636.6 246.1 L637.0 245.2 L637.5 247.9 L638.0 247.4 L638.5 246.7 L639.0 246.6 L639.5 248.0 L640.0 247.4 L640.4 247.9 L640.9 248.0 L641.4 247.4 L641.9 247.7 L642.4 247.1 L642.9 247.8 L643.4 247.3 L643.8 249.3 L644.3 248.6 L644.8 250.3 L645.3 250.7 L645.8 250.8 L646.3 249.3 L646.8 249.9 L647.3 251.5 L647.7 249.4 L648.2 249.7 L648.7 250.7 L649.2 250.8 L649.7 250.7 L650.2 251.7 L650.7 248.9 L651.1 251.2 L651.6 251.0 L652.1 251.1 L652.6 251.4 L653.1 251.7 L653.6 250.8 L654.1 252.1 L654.5 252.0 L655.0 251.9 L655.5 250.7 L656.0 252.3 L656.5 252.4 L657.0 251.5 L657.5 252.9 L657.9 252.4 L658.4 251.7 L658.9 252.3 L659.4 252.9 L659.9 252.4 L660.4 254.7 L660.9 255.8 L661.3 257.5 L661.8 256.8 L662.3 256.8 L662.8 257.9 L663.3 255.8 L663.8 256.2 L664.3 256.0 L664.7 257.2 L665.2 255.6 L665.7 255.0 L666.2 256.4 L666.7 254.3 L667.2 254.0 L667.7 254.7 L668.1 252.6 L668.6 251.1 L669.1 252.0 L669.6 253.1 L670.1 252.4 L670.6 251.2 L671.1 252.6 L671.5 251.5 L672.0 251.7 L672.5 251.4 L673.0 250.2 L673.5 252.6 L674.0 250.4 L674.5 251.0 L674.9 251.2 L675.4 252.3 L675.9 250.7 L676.4 251.2 L676.9 253.1 L677.4 251.7 L677.9 251.5 L678.4 251.3 L678.8 250.9 L679.3 251.0 L679.8 249.0 L680.3 249.3 L680.8 250.1 L681.3 248.8 L681.8 248.1 L682.2 249.4 L682.7 250.7 L683.2 249.3 L683.7 248.4 L684.2 250.3 L684.7 249.6 L685.2 248.8 L685.6 248.7 L686.1 249.1 L686.6 249.6 L687.1 250.1 L687.6 250.7 L688.1 249.6 L688.6 249.9 L689.0 251.3 L689.5 251.7 L690.0 250.5 L690.5 251.0" fill="none" stroke="#e21a1a" stroke-width="1.2" stroke-linejoin="round"/><path d="M569.5 295.0 V232.3 H690.5 V295.0" fill="none" stroke="#38383e" stroke-width="0.8"/><path d="M569.5 295.0 H690.5" fill="none" stroke="#38383e" stroke-width="0.9"/><path d="M569.5 295.0 v-1.6 M569.5 232.3 v1.6 M593.7 295.0 v-1.6 M593.7 232.3 v1.6 M617.9 295.0 v-1.6 M617.9 232.3 v1.6 M642.1 295.0 v-1.6 M642.1 232.3 v1.6 M666.3 295.0 v-1.6 M666.3 232.3 v1.6 M690.5 295.0 v-1.6 M690.5 232.3 v1.6 M569.5 232.3 h1.6 M690.5 232.3 h-1.6 M569.5 248.0 h1.6 M690.5 248.0 h-1.6 M569.5 263.6 h1.6 M690.5 263.6 h-1.6 M569.5 279.3 h1.6 M690.5 279.3 h-1.6 M569.5 295.0 h1.6 M690.5 295.0 h-1.6" stroke="#333" stroke-width="0.6" fill="none"/><text x="569.8" y="303.5" font-size="6.3" text-anchor="middle" fill="#222">0</text><text x="594.0" y="303.5" font-size="6.3" text-anchor="middle" fill="#222">200</text><text x="618.2" y="303.5" font-size="6.3" text-anchor="middle" fill="#222">400</text><text x="642.4" y="303.5" font-size="6.3" text-anchor="middle" fill="#222">600</text><text x="666.6" y="303.5" font-size="6.3" text-anchor="middle" fill="#222">800</text><text x="690.8" y="303.5" font-size="6.3" text-anchor="middle" fill="#222">1000</text><text x="566.3" y="234.6" font-size="6.3" text-anchor="end" fill="#222">1</text><text x="566.3" y="250.3" font-size="6.3" text-anchor="end" fill="#222">0.5</text><text x="566.3" y="265.9" font-size="6.3" text-anchor="end" fill="#222">0</text><text x="566.3" y="281.6" font-size="6.3" text-anchor="end" fill="#222">-0.5</text><text x="566.3" y="297.3" font-size="6.3" text-anchor="end" fill="#222">-1</text><text x="689.0" y="226.6" font-size="10" text-anchor="end" fill="#222">r=0.942</text><text x="690.1" y="227.0" font-size="15" fill="#222">*</text></g><g clip-path="url(#c1)"><g filter="url(#jet)"><rect x="137.5" y="21.2" width="65.6" height="65.6" fill="rgb(107,107,107)"/><ellipse cx="180.3" cy="46.0" rx="32.0" ry="28.0" transform="rotate(0 180.3 46.0)" fill="url(#g1_0)"/><ellipse cx="162.3" cy="84.0" rx="30.0" ry="13.0" transform="rotate(0 162.3 84.0)" fill="url(#g1_1)"/><ellipse cx="188.3" cy="76.0" rx="12.0" ry="10.0" transform="rotate(0 188.3 76.0)" fill="url(#g1_2)"/><ellipse cx="142.3" cy="56.0" rx="19.0" ry="28.0" transform="rotate(8 142.3 56.0)" fill="url(#g1_3)"/><ellipse cx="155.3" cy="71.0" rx="15.0" ry="13.0" transform="rotate(-35 155.3 71.0)" fill="url(#g1_4)"/><ellipse cx="158.3" cy="32.0" rx="7.0" ry="6.0" transform="rotate(0 158.3 32.0)" fill="url(#g1_5)"/><ellipse cx="169.3" cy="48.0" rx="18.0" ry="15.0" transform="rotate(35 169.3 48.0)" fill="url(#g1_6)"/><ellipse cx="166.3" cy="46.3" rx="8.0" ry="8.0" transform="rotate(0 166.3 46.3)" fill="url(#g1_7)"/></g></g><g fill="none" stroke="#1a1a1a" stroke-width="1.15"><circle cx="170.3" cy="55.0" r="21.2"/><path d="M166.0 34.3 L170.3 29.5 L174.6 34.3"/><path stroke-width="0.85" d="M149.3 50.0 h-1.4 q-1.2 0 -1.2 1.4 v7.2 q0 1.4 1.2 1.4 h1.4"/><path stroke-width="0.85" d="M191.3 50.0 h1.4 q1.2 0 1.2 1.4 v7.2 q0 1.4 -1.2 1.4 h-1.4"/></g><g fill="#111" fill-opacity="0.85"><circle cx="158.0" cy="32.3" r="0.6"/><circle cx="164.2" cy="32.4" r="0.6"/><circle cx="170.3" cy="32.5" r="0.6"/><circle cx="176.4" cy="32.4" r="0.6"/><circle cx="182.6" cy="32.3" r="0.6"/><circle cx="151.5" cy="37.8" r="0.6"/><circle cx="157.8" cy="37.9" r="0.6"/><circle cx="164.0" cy="38.1" r="0.6"/><circle cx="170.3" cy="38.1" r="0.6"/><circle cx="176.6" cy="38.1" r="0.6"/><circle cx="182.8" cy="37.9" r="0.6"/><circle cx="189.1" cy="37.8" r="0.6"/><circle cx="147.9" cy="43.4" r="0.6"/><circle cx="153.5" cy="43.5" r="0.6"/><circle cx="159.1" cy="43.6" r="0.6"/><circle cx="164.7" cy="43.7" r="0.6"/><circle cx="170.3" cy="43.8" r="0.6"/><circle cx="175.9" cy="43.7" r="0.6"/><circle cx="181.5" cy="43.6" r="0.6"/><circle cx="187.1" cy="43.5" r="0.6"/><circle cx="192.7" cy="43.4" r="0.6"/><circle cx="146.1" cy="48.9" r="0.6"/><circle cx="152.1" cy="49.1" r="0.6"/><circle cx="158.2" cy="49.2" r="0.6"/><circle cx="164.2" cy="49.3" r="0.6"/><circle cx="170.3" cy="49.4" r="0.6"/><circle cx="176.4" cy="49.3" r="0.6"/><circle cx="182.4" cy="49.2" r="0.6"/><circle cx="188.5" cy="49.1" r="0.6"/><circle cx="194.5" cy="48.9" r="0.6"/><circle cx="145.5" cy="55.0" r="0.6"/><circle cx="151.7" cy="55.0" r="0.6"/><circle cx="157.9" cy="55.0" r="0.6"/><circle cx="164.1" cy="55.0" r="0.6"/><circle cx="170.3" cy="55.0" r="0.6"/><circle cx="176.5" cy="55.0" r="0.6"/><circle cx="182.7" cy="55.0" r="0.6"/><circle cx="188.9" cy="55.0" r="0.6"/><circle cx="195.1" cy="55.0" r="0.6"/><circle cx="146.1" cy="61.1" r="0.6"/><circle cx="152.1" cy="60.9" r="0.6"/><circle cx="158.2" cy="60.8" r="0.6"/><circle cx="164.2" cy="60.7" r="0.6"/><circle cx="170.3" cy="60.6" r="0.6"/><circle cx="176.4" cy="60.7" r="0.6"/><circle cx="182.4" cy="60.8" r="0.6"/><circle cx="188.5" cy="60.9" r="0.6"/><circle cx="194.5" cy="61.1" r="0.6"/><circle cx="147.9" cy="66.6" r="0.6"/><circle cx="153.5" cy="66.5" r="0.6"/><circle cx="159.1" cy="66.4" r="0.6"/><circle cx="164.7" cy="66.3" r="0.6"/><circle cx="170.3" cy="66.2" r="0.6"/><circle cx="175.9" cy="66.3" r="0.6"/><circle cx="181.5" cy="66.4" r="0.6"/><circle cx="187.1" cy="66.5" r="0.6"/><circle cx="192.7" cy="66.6" r="0.6"/><circle cx="151.5" cy="72.2" r="0.6"/><circle cx="157.8" cy="72.1" r="0.6"/><circle cx="164.0" cy="71.9" r="0.6"/><circle cx="170.3" cy="71.9" r="0.6"/><circle cx="176.6" cy="71.9" r="0.6"/><circle cx="182.8" cy="72.1" r="0.6"/><circle cx="189.1" cy="72.2" r="0.6"/><circle cx="158.0" cy="77.7" r="0.6"/><circle cx="164.2" cy="77.6" r="0.6"/><circle cx="170.3" cy="77.5" r="0.6"/><circle cx="176.4" cy="77.6" r="0.6"/><circle cx="182.6" cy="77.7" r="0.6"/></g><g clip-path="url(#c2)"><g filter="url(#jet)"><rect x="197.6" y="21.2" width="65.6" height="65.6" fill="rgb(92,92,92)"/><ellipse cx="234.4" cy="25.0" rx="22.0" ry="9.0" transform="rotate(0 234.4 25.0)" fill="url(#g2_0)"/><ellipse cx="254.4" cy="44.0" rx="9.0" ry="12.0" transform="rotate(0 254.4 44.0)" fill="url(#g2_1)"/><ellipse cx="210.4" cy="62.0" rx="13.0" ry="16.0" transform="rotate(0 210.4 62.0)" fill="url(#g2_2)"/><ellipse cx="256.4" cy="62.0" rx="8.0" ry="14.0" transform="rotate(0 256.4 62.0)" fill="url(#g2_3)"/><ellipse cx="230.4" cy="81.0" rx="20.0" ry="7.0" transform="rotate(0 230.4 81.0)" fill="url(#g2_4)"/><ellipse cx="232.4" cy="68.0" rx="10.0" ry="8.0" transform="rotate(0 232.4 68.0)" fill="url(#g2_5)"/><ellipse cx="233.4" cy="47.0" rx="24.0" ry="15.0" transform="rotate(25 233.4 47.0)" fill="url(#g2_6)"/><ellipse cx="240.4" cy="59.0" rx="8.0" ry="7.0" transform="rotate(0 240.4 59.0)" fill="url(#g2_7)"/><ellipse cx="235.7" cy="44.0" rx="16.0" ry="8.5" transform="rotate(25 235.7 44.0)" fill="url(#g2_8)"/><ellipse cx="233.4" cy="41.0" rx="7.0" ry="4.0" transform="rotate(25 233.4 41.0)" fill="url(#g2_9)"/></g></g><g fill="none" stroke="#1a1a1a" stroke-width="1.15"><circle cx="230.4" cy="55.0" r="21.2"/><path d="M226.1 34.3 L230.4 29.5 L234.7 34.3"/><path stroke-width="0.85" d="M209.4 50.0 h-1.4 q-1.2 0 -1.2 1.4 v7.2 q0 1.4 1.2 1.4 h1.4"/><path stroke-width="0.85" d="M251.4 50.0 h1.4 q1.2 0 1.2 1.4 v7.2 q0 1.4 -1.2 1.4 h-1.4"/></g><g fill="#111" fill-opacity="0.85"><circle cx="218.1" cy="32.3" r="0.6"/><circle cx="224.3" cy="32.4" r="0.6"/><circle cx="230.4" cy="32.5" r="0.6"/><circle cx="236.5" cy="32.4" r="0.6"/><circle cx="242.7" cy="32.3" r="0.6"/><circle cx="211.6" cy="37.8" r="0.6"/><circle cx="217.9" cy="37.9" r="0.6"/><circle cx="224.1" cy="38.1" r="0.6"/><circle cx="230.4" cy="38.1" r="0.6"/><circle cx="236.7" cy="38.1" r="0.6"/><circle cx="242.9" cy="37.9" r="0.6"/><circle cx="249.2" cy="37.8" r="0.6"/><circle cx="208.0" cy="43.4" r="0.6"/><circle cx="213.6" cy="43.5" r="0.6"/><circle cx="219.2" cy="43.6" r="0.6"/><circle cx="224.8" cy="43.7" r="0.6"/><circle cx="230.4" cy="43.8" r="0.6"/><circle cx="236.0" cy="43.7" r="0.6"/><circle cx="241.6" cy="43.6" r="0.6"/><circle cx="247.2" cy="43.5" r="0.6"/><circle cx="252.8" cy="43.4" r="0.6"/><circle cx="206.2" cy="48.9" r="0.6"/><circle cx="212.2" cy="49.1" r="0.6"/><circle cx="218.3" cy="49.2" r="0.6"/><circle cx="224.3" cy="49.3" r="0.6"/><circle cx="230.4" cy="49.4" r="0.6"/><circle cx="236.5" cy="49.3" r="0.6"/><circle cx="242.5" cy="49.2" r="0.6"/><circle cx="248.6" cy="49.1" r="0.6"/><circle cx="254.6" cy="48.9" r="0.6"/><circle cx="205.6" cy="55.0" r="0.6"/><circle cx="211.8" cy="55.0" r="0.6"/><circle cx="218.0" cy="55.0" r="0.6"/><circle cx="224.2" cy="55.0" r="0.6"/><circle cx="230.4" cy="55.0" r="0.6"/><circle cx="236.6" cy="55.0" r="0.6"/><circle cx="242.8" cy="55.0" r="0.6"/><circle cx="249.0" cy="55.0" r="0.6"/><circle cx="255.2" cy="55.0" r="0.6"/><circle cx="206.2" cy="61.1" r="0.6"/><circle cx="212.2" cy="60.9" r="0.6"/><circle cx="218.3" cy="60.8" r="0.6"/><circle cx="224.3" cy="60.7" r="0.6"/><circle cx="230.4" cy="60.6" r="0.6"/><circle cx="236.5" cy="60.7" r="0.6"/><circle cx="242.5" cy="60.8" r="0.6"/><circle cx="248.6" cy="60.9" r="0.6"/><circle cx="254.6" cy="61.1" r="0.6"/><circle cx="208.0" cy="66.6" r="0.6"/><circle cx="213.6" cy="66.5" r="0.6"/><circle cx="219.2" cy="66.4" r="0.6"/><circle cx="224.8" cy="66.3" r="0.6"/><circle cx="230.4" cy="66.2" r="0.6"/><circle cx="236.0" cy="66.3" r="0.6"/><circle cx="241.6" cy="66.4" r="0.6"/><circle cx="247.2" cy="66.5" r="0.6"/><circle cx="252.8" cy="66.6" r="0.6"/><circle cx="211.6" cy="72.2" r="0.6"/><circle cx="217.9" cy="72.1" r="0.6"/><circle cx="224.1" cy="71.9" r="0.6"/><circle cx="230.4" cy="71.9" r="0.6"/><circle cx="236.7" cy="71.9" r="0.6"/><circle cx="242.9" cy="72.1" r="0.6"/><circle cx="249.2" cy="72.2" r="0.6"/><circle cx="218.1" cy="77.7" r="0.6"/><circle cx="224.3" cy="77.6" r="0.6"/><circle cx="230.4" cy="77.5" r="0.6"/><circle cx="236.5" cy="77.6" r="0.6"/><circle cx="242.7" cy="77.7" r="0.6"/></g><text x="157.1" y="20.6" font-size="13.2" textLength="26.5" lengthAdjust="spacingAndGlyphs" fill="#111" stroke="#111" stroke-width="0.25">PrCS</text><text x="205.8" y="20.6" font-size="13.2" textLength="49.3" lengthAdjust="spacingAndGlyphs" fill="#111" stroke="#111" stroke-width="0.25">gaIC #43</text><g clip-path="url(#c3)"><g filter="url(#jet)"><rect x="413.5" y="21.999999999999996" width="65.6" height="65.6" fill="rgb(92,92,92)"/><ellipse cx="446.3" cy="24.8" rx="32.0" ry="14.0" transform="rotate(0 446.3 24.8)" fill="url(#g3_0)"/><ellipse cx="446.3" cy="82.8" rx="30.0" ry="12.0" transform="rotate(0 446.3 82.8)" fill="url(#g3_1)"/><ellipse cx="466.3" cy="62.8" rx="12.0" ry="12.0" transform="rotate(0 466.3 62.8)" fill="url(#g3_2)"/><ellipse cx="443.3" cy="60.8" rx="22.0" ry="18.0" transform="rotate(0 443.3 60.8)" fill="url(#g3_3)"/><ellipse cx="456.3" cy="63.8" rx="10.0" ry="8.0" transform="rotate(0 456.3 63.8)" fill="url(#g3_4)"/><ellipse cx="439.5" cy="59.2" rx="12.0" ry="12.0" transform="rotate(0 439.5 59.2)" fill="url(#g3_5)"/><ellipse cx="439.5" cy="59.2" rx="6.5" ry="6.5" transform="rotate(0 439.5 59.2)" fill="url(#g3_6)"/></g></g><g fill="none" stroke="#1a1a1a" stroke-width="1.15"><circle cx="446.3" cy="55.8" r="21.2"/><path d="M442.0 35.1 L446.3 30.3 L450.6 35.1"/><path stroke-width="0.85" d="M425.3 50.8 h-1.4 q-1.2 0 -1.2 1.4 v7.2 q0 1.4 1.2 1.4 h1.4"/><path stroke-width="0.85" d="M467.3 50.8 h1.4 q1.2 0 1.2 1.4 v7.2 q0 1.4 -1.2 1.4 h-1.4"/></g><g fill="#111" fill-opacity="0.85"><circle cx="434.0" cy="33.1" r="0.6"/><circle cx="440.2" cy="33.2" r="0.6"/><circle cx="446.3" cy="33.3" r="0.6"/><circle cx="452.4" cy="33.2" r="0.6"/><circle cx="458.6" cy="33.1" r="0.6"/><circle cx="427.5" cy="38.6" r="0.6"/><circle cx="433.8" cy="38.7" r="0.6"/><circle cx="440.0" cy="38.9" r="0.6"/><circle cx="446.3" cy="38.9" r="0.6"/><circle cx="452.6" cy="38.9" r="0.6"/><circle cx="458.8" cy="38.7" r="0.6"/><circle cx="465.1" cy="38.6" r="0.6"/><circle cx="423.9" cy="44.2" r="0.6"/><circle cx="429.5" cy="44.3" r="0.6"/><circle cx="435.1" cy="44.4" r="0.6"/><circle cx="440.7" cy="44.5" r="0.6"/><circle cx="446.3" cy="44.6" r="0.6"/><circle cx="451.9" cy="44.5" r="0.6"/><circle cx="457.5" cy="44.4" r="0.6"/><circle cx="463.1" cy="44.3" r="0.6"/><circle cx="468.7" cy="44.2" r="0.6"/><circle cx="422.1" cy="49.7" r="0.6"/><circle cx="428.1" cy="49.9" r="0.6"/><circle cx="434.2" cy="50.0" r="0.6"/><circle cx="440.2" cy="50.1" r="0.6"/><circle cx="446.3" cy="50.2" r="0.6"/><circle cx="452.4" cy="50.1" r="0.6"/><circle cx="458.4" cy="50.0" r="0.6"/><circle cx="464.5" cy="49.9" r="0.6"/><circle cx="470.5" cy="49.7" r="0.6"/><circle cx="421.5" cy="55.8" r="0.6"/><circle cx="427.7" cy="55.8" r="0.6"/><circle cx="433.9" cy="55.8" r="0.6"/><circle cx="440.1" cy="55.8" r="0.6"/><circle cx="446.3" cy="55.8" r="0.6"/><circle cx="452.5" cy="55.8" r="0.6"/><circle cx="458.7" cy="55.8" r="0.6"/><circle cx="464.9" cy="55.8" r="0.6"/><circle cx="471.1" cy="55.8" r="0.6"/><circle cx="422.1" cy="61.9" r="0.6"/><circle cx="428.1" cy="61.7" r="0.6"/><circle cx="434.2" cy="61.6" r="0.6"/><circle cx="440.2" cy="61.5" r="0.6"/><circle cx="446.3" cy="61.4" r="0.6"/><circle cx="452.4" cy="61.5" r="0.6"/><circle cx="458.4" cy="61.6" r="0.6"/><circle cx="464.5" cy="61.7" r="0.6"/><circle cx="470.5" cy="61.9" r="0.6"/><circle cx="423.9" cy="67.4" r="0.6"/><circle cx="429.5" cy="67.3" r="0.6"/><circle cx="435.1" cy="67.2" r="0.6"/><circle cx="440.7" cy="67.1" r="0.6"/><circle cx="446.3" cy="67.0" r="0.6"/><circle cx="451.9" cy="67.1" r="0.6"/><circle cx="457.5" cy="67.2" r="0.6"/><circle cx="463.1" cy="67.3" r="0.6"/><circle cx="468.7" cy="67.4" r="0.6"/><circle cx="427.5" cy="73.0" r="0.6"/><circle cx="433.8" cy="72.9" r="0.6"/><circle cx="440.0" cy="72.7" r="0.6"/><circle cx="446.3" cy="72.7" r="0.6"/><circle cx="452.6" cy="72.7" r="0.6"/><circle cx="458.8" cy="72.9" r="0.6"/><circle cx="465.1" cy="73.0" r="0.6"/><circle cx="434.0" cy="78.5" r="0.6"/><circle cx="440.2" cy="78.4" r="0.6"/><circle cx="446.3" cy="78.3" r="0.6"/><circle cx="452.4" cy="78.4" r="0.6"/><circle cx="458.6" cy="78.5" r="0.6"/></g><g clip-path="url(#c4)"><g filter="url(#jet)"><rect x="474.3" y="21.999999999999996" width="65.6" height="65.6" fill="rgb(102,102,102)"/><ellipse cx="507.1" cy="20.8" rx="44.0" ry="26.0" transform="rotate(0 507.1 20.8)" fill="url(#g4_0)"/><ellipse cx="534.1" cy="44.8" rx="12.0" ry="18.0" transform="rotate(0 534.1 44.8)" fill="url(#g4_1)"/><ellipse cx="480.1" cy="42.8" rx="10.0" ry="14.0" transform="rotate(0 480.1 42.8)" fill="url(#g4_2)"/><ellipse cx="507.1" cy="44.8" rx="34.0" ry="8.0" transform="rotate(0 507.1 44.8)" fill="url(#g4_3)"/><ellipse cx="507.1" cy="70.8" rx="28.0" ry="24.0" transform="rotate(0 507.1 70.8)" fill="url(#g4_4)"/><ellipse cx="506.1" cy="63.8" rx="22.0" ry="15.0" transform="rotate(0 506.1 63.8)" fill="url(#g4_5)"/><ellipse cx="504.1" cy="63.8" rx="9.0" ry="7.0" transform="rotate(0 504.1 63.8)" fill="url(#g4_6)"/></g></g><g fill="none" stroke="#1a1a1a" stroke-width="1.15"><circle cx="507.1" cy="55.8" r="21.2"/><path d="M502.8 35.1 L507.1 30.3 L511.4 35.1"/><path stroke-width="0.85" d="M486.1 50.8 h-1.4 q-1.2 0 -1.2 1.4 v7.2 q0 1.4 1.2 1.4 h1.4"/><path stroke-width="0.85" d="M528.1 50.8 h1.4 q1.2 0 1.2 1.4 v7.2 q0 1.4 -1.2 1.4 h-1.4"/></g><g fill="#111" fill-opacity="0.85"><circle cx="494.8" cy="33.1" r="0.6"/><circle cx="501.0" cy="33.2" r="0.6"/><circle cx="507.1" cy="33.3" r="0.6"/><circle cx="513.2" cy="33.2" r="0.6"/><circle cx="519.4" cy="33.1" r="0.6"/><circle cx="488.3" cy="38.6" r="0.6"/><circle cx="494.6" cy="38.7" r="0.6"/><circle cx="500.8" cy="38.9" r="0.6"/><circle cx="507.1" cy="38.9" r="0.6"/><circle cx="513.4" cy="38.9" r="0.6"/><circle cx="519.6" cy="38.7" r="0.6"/><circle cx="525.9" cy="38.6" r="0.6"/><circle cx="484.7" cy="44.2" r="0.6"/><circle cx="490.3" cy="44.3" r="0.6"/><circle cx="495.9" cy="44.4" r="0.6"/><circle cx="501.5" cy="44.5" r="0.6"/><circle cx="507.1" cy="44.6" r="0.6"/><circle cx="512.7" cy="44.5" r="0.6"/><circle cx="518.3" cy="44.4" r="0.6"/><circle cx="523.9" cy="44.3" r="0.6"/><circle cx="529.5" cy="44.2" r="0.6"/><circle cx="482.9" cy="49.7" r="0.6"/><circle cx="488.9" cy="49.9" r="0.6"/><circle cx="495.0" cy="50.0" r="0.6"/><circle cx="501.0" cy="50.1" r="0.6"/><circle cx="507.1" cy="50.2" r="0.6"/><circle cx="513.2" cy="50.1" r="0.6"/><circle cx="519.2" cy="50.0" r="0.6"/><circle cx="525.3" cy="49.9" r="0.6"/><circle cx="531.3" cy="49.7" r="0.6"/><circle cx="482.3" cy="55.8" r="0.6"/><circle cx="488.5" cy="55.8" r="0.6"/><circle cx="494.7" cy="55.8" r="0.6"/><circle cx="500.9" cy="55.8" r="0.6"/><circle cx="507.1" cy="55.8" r="0.6"/><circle cx="513.3" cy="55.8" r="0.6"/><circle cx="519.5" cy="55.8" r="0.6"/><circle cx="525.7" cy="55.8" r="0.6"/><circle cx="531.9" cy="55.8" r="0.6"/><circle cx="482.9" cy="61.9" r="0.6"/><circle cx="488.9" cy="61.7" r="0.6"/><circle cx="495.0" cy="61.6" r="0.6"/><circle cx="501.0" cy="61.5" r="0.6"/><circle cx="507.1" cy="61.4" r="0.6"/><circle cx="513.2" cy="61.5" r="0.6"/><circle cx="519.2" cy="61.6" r="0.6"/><circle cx="525.3" cy="61.7" r="0.6"/><circle cx="531.3" cy="61.9" r="0.6"/><circle cx="484.7" cy="67.4" r="0.6"/><circle cx="490.3" cy="67.3" r="0.6"/><circle cx="495.9" cy="67.2" r="0.6"/><circle cx="501.5" cy="67.1" r="0.6"/><circle cx="507.1" cy="67.0" r="0.6"/><circle cx="512.7" cy="67.1" r="0.6"/><circle cx="518.3" cy="67.2" r="0.6"/><circle cx="523.9" cy="67.3" r="0.6"/><circle cx="529.5" cy="67.4" r="0.6"/><circle cx="488.3" cy="73.0" r="0.6"/><circle cx="494.6" cy="72.9" r="0.6"/><circle cx="500.8" cy="72.7" r="0.6"/><circle cx="507.1" cy="72.7" r="0.6"/><circle cx="513.4" cy="72.7" r="0.6"/><circle cx="519.6" cy="72.9" r="0.6"/><circle cx="525.9" cy="73.0" r="0.6"/><circle cx="494.8" cy="78.5" r="0.6"/><circle cx="501.0" cy="78.4" r="0.6"/><circle cx="507.1" cy="78.3" r="0.6"/><circle cx="513.2" cy="78.4" r="0.6"/><circle cx="519.4" cy="78.5" r="0.6"/></g><text x="436.8" y="20.6" font-size="13.2" textLength="19.0" lengthAdjust="spacingAndGlyphs" fill="#111" stroke="#111" stroke-width="0.25">MC</text><text x="486.0" y="20.6" font-size="13.2" textLength="42.2" lengthAdjust="spacingAndGlyphs" fill="#8a5a1e" stroke="#8a5a1e" stroke-width="0.25">gaIC #7</text><g clip-path="url(#c5)"><g filter="url(#jet)"><rect x="690.1" y="21.2" width="65.6" height="65.6" fill="rgb(115,115,115)"/><ellipse cx="725.9" cy="50.0" rx="23.0" ry="26.0" transform="rotate(0 725.9 50.0)" fill="url(#g5_0)"/><ellipse cx="700.9" cy="32.0" rx="12.0" ry="10.0" transform="rotate(0 700.9 32.0)" fill="url(#g5_1)"/><ellipse cx="726.9" cy="85.0" rx="26.0" ry="12.0" transform="rotate(0 726.9 85.0)" fill="url(#g5_2)"/><ellipse cx="691.9" cy="58.0" rx="18.0" ry="30.0" transform="rotate(0 691.9 58.0)" fill="url(#g5_3)"/><ellipse cx="704.9" cy="81.0" rx="20.0" ry="12.0" transform="rotate(25 704.9 81.0)" fill="url(#g5_4)"/><ellipse cx="716.9" cy="54.5" rx="15.0" ry="14.0" transform="rotate(0 716.9 54.5)" fill="url(#g5_5)"/><ellipse cx="715.7" cy="54.9" rx="7.0" ry="7.0" transform="rotate(0 715.7 54.9)" fill="url(#g5_6)"/></g></g><g fill="none" stroke="#1a1a1a" stroke-width="1.15"><circle cx="722.9" cy="55.0" r="21.2"/><path d="M718.6 34.3 L722.9 29.5 L727.2 34.3"/><path stroke-width="0.85" d="M701.9 50.0 h-1.4 q-1.2 0 -1.2 1.4 v7.2 q0 1.4 1.2 1.4 h1.4"/><path stroke-width="0.85" d="M743.9 50.0 h1.4 q1.2 0 1.2 1.4 v7.2 q0 1.4 -1.2 1.4 h-1.4"/></g><g fill="#111" fill-opacity="0.85"><circle cx="710.6" cy="32.3" r="0.6"/><circle cx="716.8" cy="32.4" r="0.6"/><circle cx="722.9" cy="32.5" r="0.6"/><circle cx="729.0" cy="32.4" r="0.6"/><circle cx="735.2" cy="32.3" r="0.6"/><circle cx="704.1" cy="37.8" r="0.6"/><circle cx="710.4" cy="37.9" r="0.6"/><circle cx="716.6" cy="38.1" r="0.6"/><circle cx="722.9" cy="38.1" r="0.6"/><circle cx="729.2" cy="38.1" r="0.6"/><circle cx="735.4" cy="37.9" r="0.6"/><circle cx="741.7" cy="37.8" r="0.6"/><circle cx="700.5" cy="43.4" r="0.6"/><circle cx="706.1" cy="43.5" r="0.6"/><circle cx="711.7" cy="43.6" r="0.6"/><circle cx="717.3" cy="43.7" r="0.6"/><circle cx="722.9" cy="43.8" r="0.6"/><circle cx="728.5" cy="43.7" r="0.6"/><circle cx="734.1" cy="43.6" r="0.6"/><circle cx="739.7" cy="43.5" r="0.6"/><circle cx="745.3" cy="43.4" r="0.6"/><circle cx="698.7" cy="48.9" r="0.6"/><circle cx="704.7" cy="49.1" r="0.6"/><circle cx="710.8" cy="49.2" r="0.6"/><circle cx="716.8" cy="49.3" r="0.6"/><circle cx="722.9" cy="49.4" r="0.6"/><circle cx="729.0" cy="49.3" r="0.6"/><circle cx="735.0" cy="49.2" r="0.6"/><circle cx="741.1" cy="49.1" r="0.6"/><circle cx="747.1" cy="48.9" r="0.6"/><circle cx="698.1" cy="55.0" r="0.6"/><circle cx="704.3" cy="55.0" r="0.6"/><circle cx="710.5" cy="55.0" r="0.6"/><circle cx="716.7" cy="55.0" r="0.6"/><circle cx="722.9" cy="55.0" r="0.6"/><circle cx="729.1" cy="55.0" r="0.6"/><circle cx="735.3" cy="55.0" r="0.6"/><circle cx="741.5" cy="55.0" r="0.6"/><circle cx="747.7" cy="55.0" r="0.6"/><circle cx="698.7" cy="61.1" r="0.6"/><circle cx="704.7" cy="60.9" r="0.6"/><circle cx="710.8" cy="60.8" r="0.6"/><circle cx="716.8" cy="60.7" r="0.6"/><circle cx="722.9" cy="60.6" r="0.6"/><circle cx="729.0" cy="60.7" r="0.6"/><circle cx="735.0" cy="60.8" r="0.6"/><circle cx="741.1" cy="60.9" r="0.6"/><circle cx="747.1" cy="61.1" r="0.6"/><circle cx="700.5" cy="66.6" r="0.6"/><circle cx="706.1" cy="66.5" r="0.6"/><circle cx="711.7" cy="66.4" r="0.6"/><circle cx="717.3" cy="66.3" r="0.6"/><circle cx="722.9" cy="66.2" r="0.6"/><circle cx="728.5" cy="66.3" r="0.6"/><circle cx="734.1" cy="66.4" r="0.6"/><circle cx="739.7" cy="66.5" r="0.6"/><circle cx="745.3" cy="66.6" r="0.6"/><circle cx="704.1" cy="72.2" r="0.6"/><circle cx="710.4" cy="72.1" r="0.6"/><circle cx="716.6" cy="71.9" r="0.6"/><circle cx="722.9" cy="71.9" r="0.6"/><circle cx="729.2" cy="71.9" r="0.6"/><circle cx="735.4" cy="72.1" r="0.6"/><circle cx="741.7" cy="72.2" r="0.6"/><circle cx="710.6" cy="77.7" r="0.6"/><circle cx="716.8" cy="77.6" r="0.6"/><circle cx="722.9" cy="77.5" r="0.6"/><circle cx="729.0" cy="77.6" r="0.6"/><circle cx="735.2" cy="77.7" r="0.6"/></g><g clip-path="url(#c6)"><g filter="url(#jet)"><rect x="750.9000000000001" y="21.2" width="65.6" height="65.6" fill="rgb(120,120,120)"/><ellipse cx="777.7" cy="42.0" rx="33.0" ry="27.0" transform="rotate(0 777.7 42.0)" fill="url(#g6_0)"/><ellipse cx="807.7" cy="52.0" rx="12.0" ry="17.0" transform="rotate(0 807.7 52.0)" fill="url(#g6_1)"/><ellipse cx="783.7" cy="86.0" rx="38.0" ry="21.0" transform="rotate(0 783.7 86.0)" fill="url(#g6_2)"/><ellipse cx="801.7" cy="81.0" rx="13.0" ry="8.0" transform="rotate(0 801.7 81.0)" fill="url(#g6_3)"/><ellipse cx="775.7" cy="45.5" rx="17.0" ry="10.0" transform="rotate(-10 775.7 45.5)" fill="url(#g6_4)"/></g></g><g fill="none" stroke="#1a1a1a" stroke-width="1.15"><circle cx="783.7" cy="55.0" r="21.2"/><path d="M779.4 34.3 L783.7 29.5 L788.0 34.3"/><path stroke-width="0.85" d="M762.7 50.0 h-1.4 q-1.2 0 -1.2 1.4 v7.2 q0 1.4 1.2 1.4 h1.4"/><path stroke-width="0.85" d="M804.7 50.0 h1.4 q1.2 0 1.2 1.4 v7.2 q0 1.4 -1.2 1.4 h-1.4"/></g><g fill="#111" fill-opacity="0.85"><circle cx="771.4" cy="32.3" r="0.6"/><circle cx="777.6" cy="32.4" r="0.6"/><circle cx="783.7" cy="32.5" r="0.6"/><circle cx="789.8" cy="32.4" r="0.6"/><circle cx="796.0" cy="32.3" r="0.6"/><circle cx="764.9" cy="37.8" r="0.6"/><circle cx="771.2" cy="37.9" r="0.6"/><circle cx="777.4" cy="38.1" r="0.6"/><circle cx="783.7" cy="38.1" r="0.6"/><circle cx="790.0" cy="38.1" r="0.6"/><circle cx="796.2" cy="37.9" r="0.6"/><circle cx="802.5" cy="37.8" r="0.6"/><circle cx="761.3" cy="43.4" r="0.6"/><circle cx="766.9" cy="43.5" r="0.6"/><circle cx="772.5" cy="43.6" r="0.6"/><circle cx="778.1" cy="43.7" r="0.6"/><circle cx="783.7" cy="43.8" r="0.6"/><circle cx="789.3" cy="43.7" r="0.6"/><circle cx="794.9" cy="43.6" r="0.6"/><circle cx="800.5" cy="43.5" r="0.6"/><circle cx="806.1" cy="43.4" r="0.6"/><circle cx="759.5" cy="48.9" r="0.6"/><circle cx="765.5" cy="49.1" r="0.6"/><circle cx="771.6" cy="49.2" r="0.6"/><circle cx="777.6" cy="49.3" r="0.6"/><circle cx="783.7" cy="49.4" r="0.6"/><circle cx="789.8" cy="49.3" r="0.6"/><circle cx="795.8" cy="49.2" r="0.6"/><circle cx="801.9" cy="49.1" r="0.6"/><circle cx="807.9" cy="48.9" r="0.6"/><circle cx="758.9" cy="55.0" r="0.6"/><circle cx="765.1" cy="55.0" r="0.6"/><circle cx="771.3" cy="55.0" r="0.6"/><circle cx="777.5" cy="55.0" r="0.6"/><circle cx="783.7" cy="55.0" r="0.6"/><circle cx="789.9" cy="55.0" r="0.6"/><circle cx="796.1" cy="55.0" r="0.6"/><circle cx="802.3" cy="55.0" r="0.6"/><circle cx="808.5" cy="55.0" r="0.6"/><circle cx="759.5" cy="61.1" r="0.6"/><circle cx="765.5" cy="60.9" r="0.6"/><circle cx="771.6" cy="60.8" r="0.6"/><circle cx="777.6" cy="60.7" r="0.6"/><circle cx="783.7" cy="60.6" r="0.6"/><circle cx="789.8" cy="60.7" r="0.6"/><circle cx="795.8" cy="60.8" r="0.6"/><circle cx="801.9" cy="60.9" r="0.6"/><circle cx="807.9" cy="61.1" r="0.6"/><circle cx="761.3" cy="66.6" r="0.6"/><circle cx="766.9" cy="66.5" r="0.6"/><circle cx="772.5" cy="66.4" r="0.6"/><circle cx="778.1" cy="66.3" r="0.6"/><circle cx="783.7" cy="66.2" r="0.6"/><circle cx="789.3" cy="66.3" r="0.6"/><circle cx="794.9" cy="66.4" r="0.6"/><circle cx="800.5" cy="66.5" r="0.6"/><circle cx="806.1" cy="66.6" r="0.6"/><circle cx="764.9" cy="72.2" r="0.6"/><circle cx="771.2" cy="72.1" r="0.6"/><circle cx="777.4" cy="71.9" r="0.6"/><circle cx="783.7" cy="71.9" r="0.6"/><circle cx="790.0" cy="71.9" r="0.6"/><circle cx="796.2" cy="72.1" r="0.6"/><circle cx="802.5" cy="72.2" r="0.6"/><circle cx="771.4" cy="77.7" r="0.6"/><circle cx="777.6" cy="77.6" r="0.6"/><circle cx="783.7" cy="77.5" r="0.6"/><circle cx="789.8" cy="77.6" r="0.6"/><circle cx="796.0" cy="77.7" r="0.6"/></g><text x="713.3" y="20.6" font-size="13.2" textLength="19.2" lengthAdjust="spacingAndGlyphs" fill="#111" stroke="#111" stroke-width="0.25">TPJ</text><text x="759.1" y="20.6" font-size="13.2" textLength="49.3" lengthAdjust="spacingAndGlyphs" fill="#1f5a9c" stroke="#1f5a9c" stroke-width="0.25">gaIC #18</text><g clip-path="url(#c7)"><g filter="url(#jet)"><rect x="137.5" y="128.79999999999998" width="65.6" height="65.6" fill="rgb(107,107,107)"/><ellipse cx="180.3" cy="153.6" rx="32.0" ry="27.0" transform="rotate(0 180.3 153.6)" fill="url(#g7_0)"/><ellipse cx="164.3" cy="188.6" rx="30.0" ry="15.0" transform="rotate(0 164.3 188.6)" fill="url(#g7_1)"/><ellipse cx="141.3" cy="159.6" rx="19.0" ry="27.0" transform="rotate(8 141.3 159.6)" fill="url(#g7_2)"/><ellipse cx="154.3" cy="175.6" rx="14.0" ry="12.0" transform="rotate(-35 154.3 175.6)" fill="url(#g7_3)"/><ellipse cx="160.3" cy="140.6" rx="7.0" ry="9.0" transform="rotate(-35 160.3 140.6)" fill="url(#g7_4)"/><ellipse cx="172.8" cy="152.1" rx="18.0" ry="14.0" transform="rotate(30 172.8 152.1)" fill="url(#g7_5)"/><ellipse cx="168.8" cy="149.3" rx="7.5" ry="7.5" transform="rotate(0 168.8 149.3)" fill="url(#g7_6)"/></g></g><g fill="none" stroke="#1a1a1a" stroke-width="1.15"><circle cx="170.3" cy="162.6" r="21.2"/><path d="M166.0 141.9 L170.3 137.1 L174.6 141.9"/><path stroke-width="0.85" d="M149.3 157.6 h-1.4 q-1.2 0 -1.2 1.4 v7.2 q0 1.4 1.2 1.4 h1.4"/><path stroke-width="0.85" d="M191.3 157.6 h1.4 q1.2 0 1.2 1.4 v7.2 q0 1.4 -1.2 1.4 h-1.4"/></g><g fill="#111" fill-opacity="0.85"><circle cx="158.0" cy="139.9" r="0.6"/><circle cx="164.2" cy="140.0" r="0.6"/><circle cx="170.3" cy="140.1" r="0.6"/><circle cx="176.4" cy="140.0" r="0.6"/><circle cx="182.6" cy="139.9" r="0.6"/><circle cx="151.5" cy="145.4" r="0.6"/><circle cx="157.8" cy="145.5" r="0.6"/><circle cx="164.0" cy="145.7" r="0.6"/><circle cx="170.3" cy="145.7" r="0.6"/><circle cx="176.6" cy="145.7" r="0.6"/><circle cx="182.8" cy="145.5" r="0.6"/><circle cx="189.1" cy="145.4" r="0.6"/><circle cx="147.9" cy="151.0" r="0.6"/><circle cx="153.5" cy="151.1" r="0.6"/><circle cx="159.1" cy="151.2" r="0.6"/><circle cx="164.7" cy="151.3" r="0.6"/><circle cx="170.3" cy="151.4" r="0.6"/><circle cx="175.9" cy="151.3" r="0.6"/><circle cx="181.5" cy="151.2" r="0.6"/><circle cx="187.1" cy="151.1" r="0.6"/><circle cx="192.7" cy="151.0" r="0.6"/><circle cx="146.1" cy="156.5" r="0.6"/><circle cx="152.1" cy="156.7" r="0.6"/><circle cx="158.2" cy="156.8" r="0.6"/><circle cx="164.2" cy="156.9" r="0.6"/><circle cx="170.3" cy="157.0" r="0.6"/><circle cx="176.4" cy="156.9" r="0.6"/><circle cx="182.4" cy="156.8" r="0.6"/><circle cx="188.5" cy="156.7" r="0.6"/><circle cx="194.5" cy="156.5" r="0.6"/><circle cx="145.5" cy="162.6" r="0.6"/><circle cx="151.7" cy="162.6" r="0.6"/><circle cx="157.9" cy="162.6" r="0.6"/><circle cx="164.1" cy="162.6" r="0.6"/><circle cx="170.3" cy="162.6" r="0.6"/><circle cx="176.5" cy="162.6" r="0.6"/><circle cx="182.7" cy="162.6" r="0.6"/><circle cx="188.9" cy="162.6" r="0.6"/><circle cx="195.1" cy="162.6" r="0.6"/><circle cx="146.1" cy="168.7" r="0.6"/><circle cx="152.1" cy="168.5" r="0.6"/><circle cx="158.2" cy="168.4" r="0.6"/><circle cx="164.2" cy="168.3" r="0.6"/><circle cx="170.3" cy="168.2" r="0.6"/><circle cx="176.4" cy="168.3" r="0.6"/><circle cx="182.4" cy="168.4" r="0.6"/><circle cx="188.5" cy="168.5" r="0.6"/><circle cx="194.5" cy="168.7" r="0.6"/><circle cx="147.9" cy="174.2" r="0.6"/><circle cx="153.5" cy="174.1" r="0.6"/><circle cx="159.1" cy="174.0" r="0.6"/><circle cx="164.7" cy="173.9" r="0.6"/><circle cx="170.3" cy="173.8" r="0.6"/><circle cx="175.9" cy="173.9" r="0.6"/><circle cx="181.5" cy="174.0" r="0.6"/><circle cx="187.1" cy="174.1" r="0.6"/><circle cx="192.7" cy="174.2" r="0.6"/><circle cx="151.5" cy="179.8" r="0.6"/><circle cx="157.8" cy="179.7" r="0.6"/><circle cx="164.0" cy="179.5" r="0.6"/><circle cx="170.3" cy="179.5" r="0.6"/><circle cx="176.6" cy="179.5" r="0.6"/><circle cx="182.8" cy="179.7" r="0.6"/><circle cx="189.1" cy="179.8" r="0.6"/><circle cx="158.0" cy="185.3" r="0.6"/><circle cx="164.2" cy="185.2" r="0.6"/><circle cx="170.3" cy="185.1" r="0.6"/><circle cx="176.4" cy="185.2" r="0.6"/><circle cx="182.6" cy="185.3" r="0.6"/></g><g clip-path="url(#c8)"><g filter="url(#jet)"><rect x="197.6" y="128.79999999999998" width="65.6" height="65.6" fill="rgb(41,41,41)"/><ellipse cx="230.4" cy="161.6" rx="29.0" ry="29.0" transform="rotate(0 230.4 161.6)" fill="url(#g8_0)"/><ellipse cx="229.4" cy="162.1" rx="21.5" ry="22.5" transform="rotate(0 229.4 162.1)" fill="url(#g8_1)"/><ellipse cx="230.4" cy="160.6" rx="14.5" ry="16.5" transform="rotate(0 230.4 160.6)" fill="url(#g8_2)"/><ellipse cx="230.4" cy="190.6" rx="12.0" ry="5.0" transform="rotate(0 230.4 190.6)" fill="url(#g8_3)"/></g></g><g fill="none" stroke="#1a1a1a" stroke-width="1.15"><circle cx="230.4" cy="162.6" r="21.2"/><path d="M226.1 141.9 L230.4 137.1 L234.7 141.9"/><path stroke-width="0.85" d="M209.4 157.6 h-1.4 q-1.2 0 -1.2 1.4 v7.2 q0 1.4 1.2 1.4 h1.4"/><path stroke-width="0.85" d="M251.4 157.6 h1.4 q1.2 0 1.2 1.4 v7.2 q0 1.4 -1.2 1.4 h-1.4"/></g><g fill="#111" fill-opacity="0.85"><circle cx="218.1" cy="139.9" r="0.6"/><circle cx="224.3" cy="140.0" r="0.6"/><circle cx="230.4" cy="140.1" r="0.6"/><circle cx="236.5" cy="140.0" r="0.6"/><circle cx="242.7" cy="139.9" r="0.6"/><circle cx="211.6" cy="145.4" r="0.6"/><circle cx="217.9" cy="145.5" r="0.6"/><circle cx="224.1" cy="145.7" r="0.6"/><circle cx="230.4" cy="145.7" r="0.6"/><circle cx="236.7" cy="145.7" r="0.6"/><circle cx="242.9" cy="145.5" r="0.6"/><circle cx="249.2" cy="145.4" r="0.6"/><circle cx="208.0" cy="151.0" r="0.6"/><circle cx="213.6" cy="151.1" r="0.6"/><circle cx="219.2" cy="151.2" r="0.6"/><circle cx="224.8" cy="151.3" r="0.6"/><circle cx="230.4" cy="151.4" r="0.6"/><circle cx="236.0" cy="151.3" r="0.6"/><circle cx="241.6" cy="151.2" r="0.6"/><circle cx="247.2" cy="151.1" r="0.6"/><circle cx="252.8" cy="151.0" r="0.6"/><circle cx="206.2" cy="156.5" r="0.6"/><circle cx="212.2" cy="156.7" r="0.6"/><circle cx="218.3" cy="156.8" r="0.6"/><circle cx="224.3" cy="156.9" r="0.6"/><circle cx="230.4" cy="157.0" r="0.6"/><circle cx="236.5" cy="156.9" r="0.6"/><circle cx="242.5" cy="156.8" r="0.6"/><circle cx="248.6" cy="156.7" r="0.6"/><circle cx="254.6" cy="156.5" r="0.6"/><circle cx="205.6" cy="162.6" r="0.6"/><circle cx="211.8" cy="162.6" r="0.6"/><circle cx="218.0" cy="162.6" r="0.6"/><circle cx="224.2" cy="162.6" r="0.6"/><circle cx="230.4" cy="162.6" r="0.6"/><circle cx="236.6" cy="162.6" r="0.6"/><circle cx="242.8" cy="162.6" r="0.6"/><circle cx="249.0" cy="162.6" r="0.6"/><circle cx="255.2" cy="162.6" r="0.6"/><circle cx="206.2" cy="168.7" r="0.6"/><circle cx="212.2" cy="168.5" r="0.6"/><circle cx="218.3" cy="168.4" r="0.6"/><circle cx="224.3" cy="168.3" r="0.6"/><circle cx="230.4" cy="168.2" r="0.6"/><circle cx="236.5" cy="168.3" r="0.6"/><circle cx="242.5" cy="168.4" r="0.6"/><circle cx="248.6" cy="168.5" r="0.6"/><circle cx="254.6" cy="168.7" r="0.6"/><circle cx="208.0" cy="174.2" r="0.6"/><circle cx="213.6" cy="174.1" r="0.6"/><circle cx="219.2" cy="174.0" r="0.6"/><circle cx="224.8" cy="173.9" r="0.6"/><circle cx="230.4" cy="173.8" r="0.6"/><circle cx="236.0" cy="173.9" r="0.6"/><circle cx="241.6" cy="174.0" r="0.6"/><circle cx="247.2" cy="174.1" r="0.6"/><circle cx="252.8" cy="174.2" r="0.6"/><circle cx="211.6" cy="179.8" r="0.6"/><circle cx="217.9" cy="179.7" r="0.6"/><circle cx="224.1" cy="179.5" r="0.6"/><circle cx="230.4" cy="179.5" r="0.6"/><circle cx="236.7" cy="179.5" r="0.6"/><circle cx="242.9" cy="179.7" r="0.6"/><circle cx="249.2" cy="179.8" r="0.6"/><circle cx="218.1" cy="185.3" r="0.6"/><circle cx="224.3" cy="185.2" r="0.6"/><circle cx="230.4" cy="185.1" r="0.6"/><circle cx="236.5" cy="185.2" r="0.6"/><circle cx="242.7" cy="185.3" r="0.6"/></g><text x="151.6" y="127.8" font-size="13.2" textLength="37.5" lengthAdjust="spacingAndGlyphs" fill="#111" stroke="#111" stroke-width="0.25">DLPFC</text><text x="205.8" y="127.8" font-size="13.2" textLength="49.3" lengthAdjust="spacingAndGlyphs" fill="#c4201c" stroke="#c4201c" stroke-width="0.25">gaIC #60</text><g clip-path="url(#c9)"><g filter="url(#jet)"><rect x="690.1" y="128.79999999999998" width="65.6" height="65.6" fill="rgb(76,76,76)"/><ellipse cx="746.9" cy="151.6" rx="14.0" ry="16.0" transform="rotate(0 746.9 151.6)" fill="url(#g9_0)"/><ellipse cx="708.9" cy="152.6" rx="26.0" ry="25.0" transform="rotate(0 708.9 152.6)" fill="url(#g9_1)"/><ellipse cx="700.9" cy="179.6" rx="10.0" ry="10.0" transform="rotate(0 700.9 179.6)" fill="url(#g9_2)"/><ellipse cx="736.9" cy="180.6" rx="31.0" ry="20.0" transform="rotate(-28 736.9 180.6)" fill="url(#g9_3)"/><ellipse cx="721.4" cy="174.6" rx="15.0" ry="12.5" transform="rotate(0 721.4 174.6)" fill="url(#g9_4)"/><ellipse cx="721.4" cy="174.6" rx="6.5" ry="6.0" transform="rotate(0 721.4 174.6)" fill="url(#g9_5)"/></g></g><g fill="none" stroke="#1a1a1a" stroke-width="1.15"><circle cx="722.9" cy="162.6" r="21.2"/><path d="M718.6 141.9 L722.9 137.1 L727.2 141.9"/><path stroke-width="0.85" d="M701.9 157.6 h-1.4 q-1.2 0 -1.2 1.4 v7.2 q0 1.4 1.2 1.4 h1.4"/><path stroke-width="0.85" d="M743.9 157.6 h1.4 q1.2 0 1.2 1.4 v7.2 q0 1.4 -1.2 1.4 h-1.4"/></g><g fill="#111" fill-opacity="0.85"><circle cx="710.6" cy="139.9" r="0.6"/><circle cx="716.8" cy="140.0" r="0.6"/><circle cx="722.9" cy="140.1" r="0.6"/><circle cx="729.0" cy="140.0" r="0.6"/><circle cx="735.2" cy="139.9" r="0.6"/><circle cx="704.1" cy="145.4" r="0.6"/><circle cx="710.4" cy="145.5" r="0.6"/><circle cx="716.6" cy="145.7" r="0.6"/><circle cx="722.9" cy="145.7" r="0.6"/><circle cx="729.2" cy="145.7" r="0.6"/><circle cx="735.4" cy="145.5" r="0.6"/><circle cx="741.7" cy="145.4" r="0.6"/><circle cx="700.5" cy="151.0" r="0.6"/><circle cx="706.1" cy="151.1" r="0.6"/><circle cx="711.7" cy="151.2" r="0.6"/><circle cx="717.3" cy="151.3" r="0.6"/><circle cx="722.9" cy="151.4" r="0.6"/><circle cx="728.5" cy="151.3" r="0.6"/><circle cx="734.1" cy="151.2" r="0.6"/><circle cx="739.7" cy="151.1" r="0.6"/><circle cx="745.3" cy="151.0" r="0.6"/><circle cx="698.7" cy="156.5" r="0.6"/><circle cx="704.7" cy="156.7" r="0.6"/><circle cx="710.8" cy="156.8" r="0.6"/><circle cx="716.8" cy="156.9" r="0.6"/><circle cx="722.9" cy="157.0" r="0.6"/><circle cx="729.0" cy="156.9" r="0.6"/><circle cx="735.0" cy="156.8" r="0.6"/><circle cx="741.1" cy="156.7" r="0.6"/><circle cx="747.1" cy="156.5" r="0.6"/><circle cx="698.1" cy="162.6" r="0.6"/><circle cx="704.3" cy="162.6" r="0.6"/><circle cx="710.5" cy="162.6" r="0.6"/><circle cx="716.7" cy="162.6" r="0.6"/><circle cx="722.9" cy="162.6" r="0.6"/><circle cx="729.1" cy="162.6" r="0.6"/><circle cx="735.3" cy="162.6" r="0.6"/><circle cx="741.5" cy="162.6" r="0.6"/><circle cx="747.7" cy="162.6" r="0.6"/><circle cx="698.7" cy="168.7" r="0.6"/><circle cx="704.7" cy="168.5" r="0.6"/><circle cx="710.8" cy="168.4" r="0.6"/><circle cx="716.8" cy="168.3" r="0.6"/><circle cx="722.9" cy="168.2" r="0.6"/><circle cx="729.0" cy="168.3" r="0.6"/><circle cx="735.0" cy="168.4" r="0.6"/><circle cx="741.1" cy="168.5" r="0.6"/><circle cx="747.1" cy="168.7" r="0.6"/><circle cx="700.5" cy="174.2" r="0.6"/><circle cx="706.1" cy="174.1" r="0.6"/><circle cx="711.7" cy="174.0" r="0.6"/><circle cx="717.3" cy="173.9" r="0.6"/><circle cx="722.9" cy="173.8" r="0.6"/><circle cx="728.5" cy="173.9" r="0.6"/><circle cx="734.1" cy="174.0" r="0.6"/><circle cx="739.7" cy="174.1" r="0.6"/><circle cx="745.3" cy="174.2" r="0.6"/><circle cx="704.1" cy="179.8" r="0.6"/><circle cx="710.4" cy="179.7" r="0.6"/><circle cx="716.6" cy="179.5" r="0.6"/><circle cx="722.9" cy="179.5" r="0.6"/><circle cx="729.2" cy="179.5" r="0.6"/><circle cx="735.4" cy="179.7" r="0.6"/><circle cx="741.7" cy="179.8" r="0.6"/><circle cx="710.6" cy="185.3" r="0.6"/><circle cx="716.8" cy="185.2" r="0.6"/><circle cx="722.9" cy="185.1" r="0.6"/><circle cx="729.0" cy="185.2" r="0.6"/><circle cx="735.2" cy="185.3" r="0.6"/></g><g clip-path="url(#c10)"><g filter="url(#jet)"><rect x="750.9000000000001" y="128.79999999999998" width="65.6" height="65.6" fill="rgb(15,15,15)"/><ellipse cx="783.7" cy="166.6" rx="29.0" ry="28.0" transform="rotate(0 783.7 166.6)" fill="url(#g10_0)"/><ellipse cx="783.7" cy="191.6" rx="16.0" ry="6.0" transform="rotate(0 783.7 191.6)" fill="url(#g10_1)"/><ellipse cx="784.7" cy="167.6" rx="23.0" ry="24.0" transform="rotate(0 784.7 167.6)" fill="url(#g10_2)"/><ellipse cx="782.2" cy="167.6" rx="14.5" ry="15.5" transform="rotate(-20 782.2 167.6)" fill="url(#g10_3)"/><ellipse cx="780.3" cy="168.3" rx="8.0" ry="9.0" transform="rotate(0 780.3 168.3)" fill="url(#g10_4)"/></g></g><g fill="none" stroke="#1a1a1a" stroke-width="1.15"><circle cx="783.7" cy="162.6" r="21.2"/><path d="M779.4 141.9 L783.7 137.1 L788.0 141.9"/><path stroke-width="0.85" d="M762.7 157.6 h-1.4 q-1.2 0 -1.2 1.4 v7.2 q0 1.4 1.2 1.4 h1.4"/><path stroke-width="0.85" d="M804.7 157.6 h1.4 q1.2 0 1.2 1.4 v7.2 q0 1.4 -1.2 1.4 h-1.4"/></g><g fill="#111" fill-opacity="0.85"><circle cx="771.4" cy="139.9" r="0.6"/><circle cx="777.6" cy="140.0" r="0.6"/><circle cx="783.7" cy="140.1" r="0.6"/><circle cx="789.8" cy="140.0" r="0.6"/><circle cx="796.0" cy="139.9" r="0.6"/><circle cx="764.9" cy="145.4" r="0.6"/><circle cx="771.2" cy="145.5" r="0.6"/><circle cx="777.4" cy="145.7" r="0.6"/><circle cx="783.7" cy="145.7" r="0.6"/><circle cx="790.0" cy="145.7" r="0.6"/><circle cx="796.2" cy="145.5" r="0.6"/><circle cx="802.5" cy="145.4" r="0.6"/><circle cx="761.3" cy="151.0" r="0.6"/><circle cx="766.9" cy="151.1" r="0.6"/><circle cx="772.5" cy="151.2" r="0.6"/><circle cx="778.1" cy="151.3" r="0.6"/><circle cx="783.7" cy="151.4" r="0.6"/><circle cx="789.3" cy="151.3" r="0.6"/><circle cx="794.9" cy="151.2" r="0.6"/><circle cx="800.5" cy="151.1" r="0.6"/><circle cx="806.1" cy="151.0" r="0.6"/><circle cx="759.5" cy="156.5" r="0.6"/><circle cx="765.5" cy="156.7" r="0.6"/><circle cx="771.6" cy="156.8" r="0.6"/><circle cx="777.6" cy="156.9" r="0.6"/><circle cx="783.7" cy="157.0" r="0.6"/><circle cx="789.8" cy="156.9" r="0.6"/><circle cx="795.8" cy="156.8" r="0.6"/><circle cx="801.9" cy="156.7" r="0.6"/><circle cx="807.9" cy="156.5" r="0.6"/><circle cx="758.9" cy="162.6" r="0.6"/><circle cx="765.1" cy="162.6" r="0.6"/><circle cx="771.3" cy="162.6" r="0.6"/><circle cx="777.5" cy="162.6" r="0.6"/><circle cx="783.7" cy="162.6" r="0.6"/><circle cx="789.9" cy="162.6" r="0.6"/><circle cx="796.1" cy="162.6" r="0.6"/><circle cx="802.3" cy="162.6" r="0.6"/><circle cx="808.5" cy="162.6" r="0.6"/><circle cx="759.5" cy="168.7" r="0.6"/><circle cx="765.5" cy="168.5" r="0.6"/><circle cx="771.6" cy="168.4" r="0.6"/><circle cx="777.6" cy="168.3" r="0.6"/><circle cx="783.7" cy="168.2" r="0.6"/><circle cx="789.8" cy="168.3" r="0.6"/><circle cx="795.8" cy="168.4" r="0.6"/><circle cx="801.9" cy="168.5" r="0.6"/><circle cx="807.9" cy="168.7" r="0.6"/><circle cx="761.3" cy="174.2" r="0.6"/><circle cx="766.9" cy="174.1" r="0.6"/><circle cx="772.5" cy="174.0" r="0.6"/><circle cx="778.1" cy="173.9" r="0.6"/><circle cx="783.7" cy="173.8" r="0.6"/><circle cx="789.3" cy="173.9" r="0.6"/><circle cx="794.9" cy="174.0" r="0.6"/><circle cx="800.5" cy="174.1" r="0.6"/><circle cx="806.1" cy="174.2" r="0.6"/><circle cx="764.9" cy="179.8" r="0.6"/><circle cx="771.2" cy="179.7" r="0.6"/><circle cx="777.4" cy="179.5" r="0.6"/><circle cx="783.7" cy="179.5" r="0.6"/><circle cx="790.0" cy="179.5" r="0.6"/><circle cx="796.2" cy="179.7" r="0.6"/><circle cx="802.5" cy="179.8" r="0.6"/><circle cx="771.4" cy="185.3" r="0.6"/><circle cx="777.6" cy="185.2" r="0.6"/><circle cx="783.7" cy="185.1" r="0.6"/><circle cx="789.8" cy="185.2" r="0.6"/><circle cx="796.0" cy="185.3" r="0.6"/></g><text x="711.6" y="127.8" font-size="13.2" textLength="22.5" lengthAdjust="spacingAndGlyphs" fill="#111" stroke="#111" stroke-width="0.25">PPC</text><text x="762.6" y="127.8" font-size="13.2" textLength="42.2" lengthAdjust="spacingAndGlyphs" fill="#e8921e" stroke="#e8921e" stroke-width="0.25">gaIC #3</text><g clip-path="url(#c11)"><g filter="url(#jet)"><rect x="137.5" y="236.7" width="65.6" height="65.6" fill="rgb(51,51,51)"/><ellipse cx="174.3" cy="238.5" rx="34.0" ry="14.0" transform="rotate(0 174.3 238.5)" fill="url(#g11_0)"/><ellipse cx="199.3" cy="269.5" rx="12.0" ry="28.0" transform="rotate(0 199.3 269.5)" fill="url(#g11_1)"/><ellipse cx="172.3" cy="273.5" rx="10.0" ry="24.0" transform="rotate(0 172.3 273.5)" fill="url(#g11_2)"/><ellipse cx="164.3" cy="298.5" rx="18.0" ry="9.0" transform="rotate(0 164.3 298.5)" fill="url(#g11_3)"/><ellipse cx="155.3" cy="273.5" rx="26.0" ry="31.0" transform="rotate(0 155.3 273.5)" fill="url(#g11_4)"/><ellipse cx="157.8" cy="269.8" rx="13.0" ry="17.5" transform="rotate(0 157.8 269.8)" fill="url(#g11_5)"/><ellipse cx="155.8" cy="267.2" rx="7.5" ry="11.0" transform="rotate(0 155.8 267.2)" fill="url(#g11_6)"/></g></g><g fill="none" stroke="#1a1a1a" stroke-width="1.15"><circle cx="170.3" cy="270.5" r="21.2"/><path d="M166.0 249.8 L170.3 245.0 L174.6 249.8"/><path stroke-width="0.85" d="M149.3 265.5 h-1.4 q-1.2 0 -1.2 1.4 v7.2 q0 1.4 1.2 1.4 h1.4"/><path stroke-width="0.85" d="M191.3 265.5 h1.4 q1.2 0 1.2 1.4 v7.2 q0 1.4 -1.2 1.4 h-1.4"/></g><g fill="#111" fill-opacity="0.85"><circle cx="158.0" cy="247.8" r="0.6"/><circle cx="164.2" cy="247.9" r="0.6"/><circle cx="170.3" cy="248.0" r="0.6"/><circle cx="176.4" cy="247.9" r="0.6"/><circle cx="182.6" cy="247.8" r="0.6"/><circle cx="151.5" cy="253.3" r="0.6"/><circle cx="157.8" cy="253.4" r="0.6"/><circle cx="164.0" cy="253.6" r="0.6"/><circle cx="170.3" cy="253.6" r="0.6"/><circle cx="176.6" cy="253.6" r="0.6"/><circle cx="182.8" cy="253.4" r="0.6"/><circle cx="189.1" cy="253.3" r="0.6"/><circle cx="147.9" cy="258.9" r="0.6"/><circle cx="153.5" cy="259.0" r="0.6"/><circle cx="159.1" cy="259.1" r="0.6"/><circle cx="164.7" cy="259.2" r="0.6"/><circle cx="170.3" cy="259.3" r="0.6"/><circle cx="175.9" cy="259.2" r="0.6"/><circle cx="181.5" cy="259.1" r="0.6"/><circle cx="187.1" cy="259.0" r="0.6"/><circle cx="192.7" cy="258.9" r="0.6"/><circle cx="146.1" cy="264.4" r="0.6"/><circle cx="152.1" cy="264.6" r="0.6"/><circle cx="158.2" cy="264.7" r="0.6"/><circle cx="164.2" cy="264.8" r="0.6"/><circle cx="170.3" cy="264.9" r="0.6"/><circle cx="176.4" cy="264.8" r="0.6"/><circle cx="182.4" cy="264.7" r="0.6"/><circle cx="188.5" cy="264.6" r="0.6"/><circle cx="194.5" cy="264.4" r="0.6"/><circle cx="145.5" cy="270.5" r="0.6"/><circle cx="151.7" cy="270.5" r="0.6"/><circle cx="157.9" cy="270.5" r="0.6"/><circle cx="164.1" cy="270.5" r="0.6"/><circle cx="170.3" cy="270.5" r="0.6"/><circle cx="176.5" cy="270.5" r="0.6"/><circle cx="182.7" cy="270.5" r="0.6"/><circle cx="188.9" cy="270.5" r="0.6"/><circle cx="195.1" cy="270.5" r="0.6"/><circle cx="146.1" cy="276.6" r="0.6"/><circle cx="152.1" cy="276.4" r="0.6"/><circle cx="158.2" cy="276.3" r="0.6"/><circle cx="164.2" cy="276.2" r="0.6"/><circle cx="170.3" cy="276.1" r="0.6"/><circle cx="176.4" cy="276.2" r="0.6"/><circle cx="182.4" cy="276.3" r="0.6"/><circle cx="188.5" cy="276.4" r="0.6"/><circle cx="194.5" cy="276.6" r="0.6"/><circle cx="147.9" cy="282.1" r="0.6"/><circle cx="153.5" cy="282.0" r="0.6"/><circle cx="159.1" cy="281.9" r="0.6"/><circle cx="164.7" cy="281.8" r="0.6"/><circle cx="170.3" cy="281.7" r="0.6"/><circle cx="175.9" cy="281.8" r="0.6"/><circle cx="181.5" cy="281.9" r="0.6"/><circle cx="187.1" cy="282.0" r="0.6"/><circle cx="192.7" cy="282.1" r="0.6"/><circle cx="151.5" cy="287.7" r="0.6"/><circle cx="157.8" cy="287.6" r="0.6"/><circle cx="164.0" cy="287.4" r="0.6"/><circle cx="170.3" cy="287.4" r="0.6"/><circle cx="176.6" cy="287.4" r="0.6"/><circle cx="182.8" cy="287.6" r="0.6"/><circle cx="189.1" cy="287.7" r="0.6"/><circle cx="158.0" cy="293.2" r="0.6"/><circle cx="164.2" cy="293.1" r="0.6"/><circle cx="170.3" cy="293.0" r="0.6"/><circle cx="176.4" cy="293.1" r="0.6"/><circle cx="182.6" cy="293.2" r="0.6"/></g><g clip-path="url(#c12)"><g filter="url(#jet)"><rect x="197.6" y="236.7" width="65.6" height="65.6" fill="rgb(128,128,128)"/><ellipse cx="210.4" cy="273.5" rx="18.0" ry="30.0" transform="rotate(0 210.4 273.5)" fill="url(#g12_0)"/><ellipse cx="226.4" cy="297.5" rx="22.0" ry="9.0" transform="rotate(0 226.4 297.5)" fill="url(#g12_1)"/><ellipse cx="246.4" cy="275.5" rx="25.0" ry="20.0" transform="rotate(0 246.4 275.5)" fill="url(#g12_2)"/><ellipse cx="239.4" cy="274.5" rx="15.0" ry="12.0" transform="rotate(15 239.4 274.5)" fill="url(#g12_3)"/><ellipse cx="231.4" cy="244.5" rx="7.0" ry="8.0" transform="rotate(0 231.4 244.5)" fill="url(#g12_4)"/><ellipse cx="220.4" cy="241.5" rx="17.0" ry="15.0" transform="rotate(0 220.4 241.5)" fill="url(#g12_5)"/><ellipse cx="245.4" cy="244.5" rx="9.0" ry="11.0" transform="rotate(-30 245.4 244.5)" fill="url(#g12_6)"/></g></g><g fill="none" stroke="#1a1a1a" stroke-width="1.15"><circle cx="230.4" cy="270.5" r="21.2"/><path d="M226.1 249.8 L230.4 245.0 L234.7 249.8"/><path stroke-width="0.85" d="M209.4 265.5 h-1.4 q-1.2 0 -1.2 1.4 v7.2 q0 1.4 1.2 1.4 h1.4"/><path stroke-width="0.85" d="M251.4 265.5 h1.4 q1.2 0 1.2 1.4 v7.2 q0 1.4 -1.2 1.4 h-1.4"/></g><g fill="#111" fill-opacity="0.85"><circle cx="218.1" cy="247.8" r="0.6"/><circle cx="224.3" cy="247.9" r="0.6"/><circle cx="230.4" cy="248.0" r="0.6"/><circle cx="236.5" cy="247.9" r="0.6"/><circle cx="242.7" cy="247.8" r="0.6"/><circle cx="211.6" cy="253.3" r="0.6"/><circle cx="217.9" cy="253.4" r="0.6"/><circle cx="224.1" cy="253.6" r="0.6"/><circle cx="230.4" cy="253.6" r="0.6"/><circle cx="236.7" cy="253.6" r="0.6"/><circle cx="242.9" cy="253.4" r="0.6"/><circle cx="249.2" cy="253.3" r="0.6"/><circle cx="208.0" cy="258.9" r="0.6"/><circle cx="213.6" cy="259.0" r="0.6"/><circle cx="219.2" cy="259.1" r="0.6"/><circle cx="224.8" cy="259.2" r="0.6"/><circle cx="230.4" cy="259.3" r="0.6"/><circle cx="236.0" cy="259.2" r="0.6"/><circle cx="241.6" cy="259.1" r="0.6"/><circle cx="247.2" cy="259.0" r="0.6"/><circle cx="252.8" cy="258.9" r="0.6"/><circle cx="206.2" cy="264.4" r="0.6"/><circle cx="212.2" cy="264.6" r="0.6"/><circle cx="218.3" cy="264.7" r="0.6"/><circle cx="224.3" cy="264.8" r="0.6"/><circle cx="230.4" cy="264.9" r="0.6"/><circle cx="236.5" cy="264.8" r="0.6"/><circle cx="242.5" cy="264.7" r="0.6"/><circle cx="248.6" cy="264.6" r="0.6"/><circle cx="254.6" cy="264.4" r="0.6"/><circle cx="205.6" cy="270.5" r="0.6"/><circle cx="211.8" cy="270.5" r="0.6"/><circle cx="218.0" cy="270.5" r="0.6"/><circle cx="224.2" cy="270.5" r="0.6"/><circle cx="230.4" cy="270.5" r="0.6"/><circle cx="236.6" cy="270.5" r="0.6"/><circle cx="242.8" cy="270.5" r="0.6"/><circle cx="249.0" cy="270.5" r="0.6"/><circle cx="255.2" cy="270.5" r="0.6"/><circle cx="206.2" cy="276.6" r="0.6"/><circle cx="212.2" cy="276.4" r="0.6"/><circle cx="218.3" cy="276.3" r="0.6"/><circle cx="224.3" cy="276.2" r="0.6"/><circle cx="230.4" cy="276.1" r="0.6"/><circle cx="236.5" cy="276.2" r="0.6"/><circle cx="242.5" cy="276.3" r="0.6"/><circle cx="248.6" cy="276.4" r="0.6"/><circle cx="254.6" cy="276.6" r="0.6"/><circle cx="208.0" cy="282.1" r="0.6"/><circle cx="213.6" cy="282.0" r="0.6"/><circle cx="219.2" cy="281.9" r="0.6"/><circle cx="224.8" cy="281.8" r="0.6"/><circle cx="230.4" cy="281.7" r="0.6"/><circle cx="236.0" cy="281.8" r="0.6"/><circle cx="241.6" cy="281.9" r="0.6"/><circle cx="247.2" cy="282.0" r="0.6"/><circle cx="252.8" cy="282.1" r="0.6"/><circle cx="211.6" cy="287.7" r="0.6"/><circle cx="217.9" cy="287.6" r="0.6"/><circle cx="224.1" cy="287.4" r="0.6"/><circle cx="230.4" cy="287.4" r="0.6"/><circle cx="236.7" cy="287.4" r="0.6"/><circle cx="242.9" cy="287.6" r="0.6"/><circle cx="249.2" cy="287.7" r="0.6"/><circle cx="218.1" cy="293.2" r="0.6"/><circle cx="224.3" cy="293.1" r="0.6"/><circle cx="230.4" cy="293.0" r="0.6"/><circle cx="236.5" cy="293.1" r="0.6"/><circle cx="242.7" cy="293.2" r="0.6"/></g><text x="152.3" y="235.2" font-size="13.2" textLength="36.0" lengthAdjust="spacingAndGlyphs" fill="#111" stroke="#111" stroke-width="0.25">VLPFC</text><text x="209.3" y="235.2" font-size="13.2" textLength="42.2" lengthAdjust="spacingAndGlyphs" fill="#3f7f2f" stroke="#3f7f2f" stroke-width="0.25">gaIC #5</text><g clip-path="url(#c13)"><g filter="url(#jet)"><rect x="413.5" y="236.7" width="65.6" height="65.6" fill="rgb(158,158,158)"/><ellipse cx="446.3" cy="239.5" rx="30.0" ry="12.0" transform="rotate(0 446.3 239.5)" fill="url(#g13_0)"/><ellipse cx="466.3" cy="287.5" rx="14.0" ry="14.0" transform="rotate(0 466.3 287.5)" fill="url(#g13_1)"/><ellipse cx="438.3" cy="287.5" rx="31.0" ry="18.0" transform="rotate(22 438.3 287.5)" fill="url(#g13_2)"/><ellipse cx="434.3" cy="285.5" rx="18.0" ry="11.0" transform="rotate(28 434.3 285.5)" fill="url(#g13_3)"/><ellipse cx="434.5" cy="285.5" rx="11.0" ry="6.5" transform="rotate(30 434.5 285.5)" fill="url(#g13_4)"/></g></g><g fill="none" stroke="#1a1a1a" stroke-width="1.15"><circle cx="446.3" cy="270.5" r="21.2"/><path d="M442.0 249.8 L446.3 245.0 L450.6 249.8"/><path stroke-width="0.85" d="M425.3 265.5 h-1.4 q-1.2 0 -1.2 1.4 v7.2 q0 1.4 1.2 1.4 h1.4"/><path stroke-width="0.85" d="M467.3 265.5 h1.4 q1.2 0 1.2 1.4 v7.2 q0 1.4 -1.2 1.4 h-1.4"/></g><g fill="#111" fill-opacity="0.85"><circle cx="434.0" cy="247.8" r="0.6"/><circle cx="440.2" cy="247.9" r="0.6"/><circle cx="446.3" cy="248.0" r="0.6"/><circle cx="452.4" cy="247.9" r="0.6"/><circle cx="458.6" cy="247.8" r="0.6"/><circle cx="427.5" cy="253.3" r="0.6"/><circle cx="433.8" cy="253.4" r="0.6"/><circle cx="440.0" cy="253.6" r="0.6"/><circle cx="446.3" cy="253.6" r="0.6"/><circle cx="452.6" cy="253.6" r="0.6"/><circle cx="458.8" cy="253.4" r="0.6"/><circle cx="465.1" cy="253.3" r="0.6"/><circle cx="423.9" cy="258.9" r="0.6"/><circle cx="429.5" cy="259.0" r="0.6"/><circle cx="435.1" cy="259.1" r="0.6"/><circle cx="440.7" cy="259.2" r="0.6"/><circle cx="446.3" cy="259.3" r="0.6"/><circle cx="451.9" cy="259.2" r="0.6"/><circle cx="457.5" cy="259.1" r="0.6"/><circle cx="463.1" cy="259.0" r="0.6"/><circle cx="468.7" cy="258.9" r="0.6"/><circle cx="422.1" cy="264.4" r="0.6"/><circle cx="428.1" cy="264.6" r="0.6"/><circle cx="434.2" cy="264.7" r="0.6"/><circle cx="440.2" cy="264.8" r="0.6"/><circle cx="446.3" cy="264.9" r="0.6"/><circle cx="452.4" cy="264.8" r="0.6"/><circle cx="458.4" cy="264.7" r="0.6"/><circle cx="464.5" cy="264.6" r="0.6"/><circle cx="470.5" cy="264.4" r="0.6"/><circle cx="421.5" cy="270.5" r="0.6"/><circle cx="427.7" cy="270.5" r="0.6"/><circle cx="433.9" cy="270.5" r="0.6"/><circle cx="440.1" cy="270.5" r="0.6"/><circle cx="446.3" cy="270.5" r="0.6"/><circle cx="452.5" cy="270.5" r="0.6"/><circle cx="458.7" cy="270.5" r="0.6"/><circle cx="464.9" cy="270.5" r="0.6"/><circle cx="471.1" cy="270.5" r="0.6"/><circle cx="422.1" cy="276.6" r="0.6"/><circle cx="428.1" cy="276.4" r="0.6"/><circle cx="434.2" cy="276.3" r="0.6"/><circle cx="440.2" cy="276.2" r="0.6"/><circle cx="446.3" cy="276.1" r="0.6"/><circle cx="452.4" cy="276.2" r="0.6"/><circle cx="458.4" cy="276.3" r="0.6"/><circle cx="464.5" cy="276.4" r="0.6"/><circle cx="470.5" cy="276.6" r="0.6"/><circle cx="423.9" cy="282.1" r="0.6"/><circle cx="429.5" cy="282.0" r="0.6"/><circle cx="435.1" cy="281.9" r="0.6"/><circle cx="440.7" cy="281.8" r="0.6"/><circle cx="446.3" cy="281.7" r="0.6"/><circle cx="451.9" cy="281.8" r="0.6"/><circle cx="457.5" cy="281.9" r="0.6"/><circle cx="463.1" cy="282.0" r="0.6"/><circle cx="468.7" cy="282.1" r="0.6"/><circle cx="427.5" cy="287.7" r="0.6"/><circle cx="433.8" cy="287.6" r="0.6"/><circle cx="440.0" cy="287.4" r="0.6"/><circle cx="446.3" cy="287.4" r="0.6"/><circle cx="452.6" cy="287.4" r="0.6"/><circle cx="458.8" cy="287.6" r="0.6"/><circle cx="465.1" cy="287.7" r="0.6"/><circle cx="434.0" cy="293.2" r="0.6"/><circle cx="440.2" cy="293.1" r="0.6"/><circle cx="446.3" cy="293.0" r="0.6"/><circle cx="452.4" cy="293.1" r="0.6"/><circle cx="458.6" cy="293.2" r="0.6"/></g><g clip-path="url(#c14)"><g filter="url(#jet)"><rect x="474.3" y="236.7" width="65.6" height="65.6" fill="rgb(161,161,161)"/><ellipse cx="507.1" cy="291.5" rx="40.0" ry="23.0" transform="rotate(0 507.1 291.5)" fill="url(#g14_0)"/><ellipse cx="507.1" cy="287.5" rx="30.0" ry="9.0" transform="rotate(0 507.1 287.5)" fill="url(#g14_1)"/><ellipse cx="507.1" cy="300.5" rx="14.0" ry="4.0" transform="rotate(0 507.1 300.5)" fill="url(#g14_2)"/><ellipse cx="507.1" cy="243.5" rx="22.0" ry="10.0" transform="rotate(0 507.1 243.5)" fill="url(#g14_3)"/><ellipse cx="506.6" cy="256.5" rx="20.0" ry="14.0" transform="rotate(0 506.6 256.5)" fill="url(#g14_4)"/><ellipse cx="506.0" cy="257.4" rx="13.0" ry="7.0" transform="rotate(0 506.0 257.4)" fill="url(#g14_5)"/></g></g><g fill="none" stroke="#1a1a1a" stroke-width="1.15"><circle cx="507.1" cy="270.5" r="21.2"/><path d="M502.8 249.8 L507.1 245.0 L511.4 249.8"/><path stroke-width="0.85" d="M486.1 265.5 h-1.4 q-1.2 0 -1.2 1.4 v7.2 q0 1.4 1.2 1.4 h1.4"/><path stroke-width="0.85" d="M528.1 265.5 h1.4 q1.2 0 1.2 1.4 v7.2 q0 1.4 -1.2 1.4 h-1.4"/></g><g fill="#111" fill-opacity="0.85"><circle cx="494.8" cy="247.8" r="0.6"/><circle cx="501.0" cy="247.9" r="0.6"/><circle cx="507.1" cy="248.0" r="0.6"/><circle cx="513.2" cy="247.9" r="0.6"/><circle cx="519.4" cy="247.8" r="0.6"/><circle cx="488.3" cy="253.3" r="0.6"/><circle cx="494.6" cy="253.4" r="0.6"/><circle cx="500.8" cy="253.6" r="0.6"/><circle cx="507.1" cy="253.6" r="0.6"/><circle cx="513.4" cy="253.6" r="0.6"/><circle cx="519.6" cy="253.4" r="0.6"/><circle cx="525.9" cy="253.3" r="0.6"/><circle cx="484.7" cy="258.9" r="0.6"/><circle cx="490.3" cy="259.0" r="0.6"/><circle cx="495.9" cy="259.1" r="0.6"/><circle cx="501.5" cy="259.2" r="0.6"/><circle cx="507.1" cy="259.3" r="0.6"/><circle cx="512.7" cy="259.2" r="0.6"/><circle cx="518.3" cy="259.1" r="0.6"/><circle cx="523.9" cy="259.0" r="0.6"/><circle cx="529.5" cy="258.9" r="0.6"/><circle cx="482.9" cy="264.4" r="0.6"/><circle cx="488.9" cy="264.6" r="0.6"/><circle cx="495.0" cy="264.7" r="0.6"/><circle cx="501.0" cy="264.8" r="0.6"/><circle cx="507.1" cy="264.9" r="0.6"/><circle cx="513.2" cy="264.8" r="0.6"/><circle cx="519.2" cy="264.7" r="0.6"/><circle cx="525.3" cy="264.6" r="0.6"/><circle cx="531.3" cy="264.4" r="0.6"/><circle cx="482.3" cy="270.5" r="0.6"/><circle cx="488.5" cy="270.5" r="0.6"/><circle cx="494.7" cy="270.5" r="0.6"/><circle cx="500.9" cy="270.5" r="0.6"/><circle cx="507.1" cy="270.5" r="0.6"/><circle cx="513.3" cy="270.5" r="0.6"/><circle cx="519.5" cy="270.5" r="0.6"/><circle cx="525.7" cy="270.5" r="0.6"/><circle cx="531.9" cy="270.5" r="0.6"/><circle cx="482.9" cy="276.6" r="0.6"/><circle cx="488.9" cy="276.4" r="0.6"/><circle cx="495.0" cy="276.3" r="0.6"/><circle cx="501.0" cy="276.2" r="0.6"/><circle cx="507.1" cy="276.1" r="0.6"/><circle cx="513.2" cy="276.2" r="0.6"/><circle cx="519.2" cy="276.3" r="0.6"/><circle cx="525.3" cy="276.4" r="0.6"/><circle cx="531.3" cy="276.6" r="0.6"/><circle cx="484.7" cy="282.1" r="0.6"/><circle cx="490.3" cy="282.0" r="0.6"/><circle cx="495.9" cy="281.9" r="0.6"/><circle cx="501.5" cy="281.8" r="0.6"/><circle cx="507.1" cy="281.7" r="0.6"/><circle cx="512.7" cy="281.8" r="0.6"/><circle cx="518.3" cy="281.9" r="0.6"/><circle cx="523.9" cy="282.0" r="0.6"/><circle cx="529.5" cy="282.1" r="0.6"/><circle cx="488.3" cy="287.7" r="0.6"/><circle cx="494.6" cy="287.6" r="0.6"/><circle cx="500.8" cy="287.4" r="0.6"/><circle cx="507.1" cy="287.4" r="0.6"/><circle cx="513.4" cy="287.4" r="0.6"/><circle cx="519.6" cy="287.6" r="0.6"/><circle cx="525.9" cy="287.7" r="0.6"/><circle cx="494.8" cy="293.2" r="0.6"/><circle cx="501.0" cy="293.1" r="0.6"/><circle cx="507.1" cy="293.0" r="0.6"/><circle cx="513.2" cy="293.1" r="0.6"/><circle cx="519.4" cy="293.2" r="0.6"/></g><text x="432.9" y="235.2" font-size="13.2" textLength="26.8" lengthAdjust="spacingAndGlyphs" fill="#111" stroke="#111" stroke-width="0.25">IT #1</text><text x="482.5" y="235.2" font-size="13.2" textLength="49.3" lengthAdjust="spacingAndGlyphs" fill="#111" stroke="#111" stroke-width="0.25">gaIC #31</text><g clip-path="url(#c15)"><g filter="url(#jet)"><rect x="690.1" y="236.7" width="65.6" height="65.6" fill="rgb(71,71,71)"/><ellipse cx="722.9" cy="267.5" rx="30.0" ry="29.0" transform="rotate(0 722.9 267.5)" fill="url(#g15_0)"/><ellipse cx="716.9" cy="300.5" rx="26.0" ry="10.0" transform="rotate(0 716.9 300.5)" fill="url(#g15_1)"/><ellipse cx="718.9" cy="267.5" rx="19.0" ry="22.0" transform="rotate(0 718.9 267.5)" fill="url(#g15_2)"/><ellipse cx="713.1" cy="274.2" rx="14.0" ry="15.0" transform="rotate(0 713.1 274.2)" fill="url(#g15_3)"/></g></g><g fill="none" stroke="#1a1a1a" stroke-width="1.15"><circle cx="722.9" cy="270.5" r="21.2"/><path d="M718.6 249.8 L722.9 245.0 L727.2 249.8"/><path stroke-width="0.85" d="M701.9 265.5 h-1.4 q-1.2 0 -1.2 1.4 v7.2 q0 1.4 1.2 1.4 h1.4"/><path stroke-width="0.85" d="M743.9 265.5 h1.4 q1.2 0 1.2 1.4 v7.2 q0 1.4 -1.2 1.4 h-1.4"/></g><g fill="#111" fill-opacity="0.85"><circle cx="710.6" cy="247.8" r="0.6"/><circle cx="716.8" cy="247.9" r="0.6"/><circle cx="722.9" cy="248.0" r="0.6"/><circle cx="729.0" cy="247.9" r="0.6"/><circle cx="735.2" cy="247.8" r="0.6"/><circle cx="704.1" cy="253.3" r="0.6"/><circle cx="710.4" cy="253.4" r="0.6"/><circle cx="716.6" cy="253.6" r="0.6"/><circle cx="722.9" cy="253.6" r="0.6"/><circle cx="729.2" cy="253.6" r="0.6"/><circle cx="735.4" cy="253.4" r="0.6"/><circle cx="741.7" cy="253.3" r="0.6"/><circle cx="700.5" cy="258.9" r="0.6"/><circle cx="706.1" cy="259.0" r="0.6"/><circle cx="711.7" cy="259.1" r="0.6"/><circle cx="717.3" cy="259.2" r="0.6"/><circle cx="722.9" cy="259.3" r="0.6"/><circle cx="728.5" cy="259.2" r="0.6"/><circle cx="734.1" cy="259.1" r="0.6"/><circle cx="739.7" cy="259.0" r="0.6"/><circle cx="745.3" cy="258.9" r="0.6"/><circle cx="698.7" cy="264.4" r="0.6"/><circle cx="704.7" cy="264.6" r="0.6"/><circle cx="710.8" cy="264.7" r="0.6"/><circle cx="716.8" cy="264.8" r="0.6"/><circle cx="722.9" cy="264.9" r="0.6"/><circle cx="729.0" cy="264.8" r="0.6"/><circle cx="735.0" cy="264.7" r="0.6"/><circle cx="741.1" cy="264.6" r="0.6"/><circle cx="747.1" cy="264.4" r="0.6"/><circle cx="698.1" cy="270.5" r="0.6"/><circle cx="704.3" cy="270.5" r="0.6"/><circle cx="710.5" cy="270.5" r="0.6"/><circle cx="716.7" cy="270.5" r="0.6"/><circle cx="722.9" cy="270.5" r="0.6"/><circle cx="729.1" cy="270.5" r="0.6"/><circle cx="735.3" cy="270.5" r="0.6"/><circle cx="741.5" cy="270.5" r="0.6"/><circle cx="747.7" cy="270.5" r="0.6"/><circle cx="698.7" cy="276.6" r="0.6"/><circle cx="704.7" cy="276.4" r="0.6"/><circle cx="710.8" cy="276.3" r="0.6"/><circle cx="716.8" cy="276.2" r="0.6"/><circle cx="722.9" cy="276.1" r="0.6"/><circle cx="729.0" cy="276.2" r="0.6"/><circle cx="735.0" cy="276.3" r="0.6"/><circle cx="741.1" cy="276.4" r="0.6"/><circle cx="747.1" cy="276.6" r="0.6"/><circle cx="700.5" cy="282.1" r="0.6"/><circle cx="706.1" cy="282.0" r="0.6"/><circle cx="711.7" cy="281.9" r="0.6"/><circle cx="717.3" cy="281.8" r="0.6"/><circle cx="722.9" cy="281.7" r="0.6"/><circle cx="728.5" cy="281.8" r="0.6"/><circle cx="734.1" cy="281.9" r="0.6"/><circle cx="739.7" cy="282.0" r="0.6"/><circle cx="745.3" cy="282.1" r="0.6"/><circle cx="704.1" cy="287.7" r="0.6"/><circle cx="710.4" cy="287.6" r="0.6"/><circle cx="716.6" cy="287.4" r="0.6"/><circle cx="722.9" cy="287.4" r="0.6"/><circle cx="729.2" cy="287.4" r="0.6"/><circle cx="735.4" cy="287.6" r="0.6"/><circle cx="741.7" cy="287.7" r="0.6"/><circle cx="710.6" cy="293.2" r="0.6"/><circle cx="716.8" cy="293.1" r="0.6"/><circle cx="722.9" cy="293.0" r="0.6"/><circle cx="729.0" cy="293.1" r="0.6"/><circle cx="735.2" cy="293.2" r="0.6"/></g><g clip-path="url(#c16)"><g filter="url(#jet)"><rect x="750.9000000000001" y="236.7" width="65.6" height="65.6" fill="rgb(41,41,41)"/><ellipse cx="783.7" cy="269.5" rx="29.0" ry="29.0" transform="rotate(0 783.7 269.5)" fill="url(#g16_0)"/><ellipse cx="782.7" cy="269.5" rx="21.5" ry="22.0" transform="rotate(0 782.7 269.5)" fill="url(#g16_1)"/><ellipse cx="782.4" cy="266.7" rx="14.5" ry="16.5" transform="rotate(0 782.4 266.7)" fill="url(#g16_2)"/></g></g><g fill="none" stroke="#1a1a1a" stroke-width="1.15"><circle cx="783.7" cy="270.5" r="21.2"/><path d="M779.4 249.8 L783.7 245.0 L788.0 249.8"/><path stroke-width="0.85" d="M762.7 265.5 h-1.4 q-1.2 0 -1.2 1.4 v7.2 q0 1.4 1.2 1.4 h1.4"/><path stroke-width="0.85" d="M804.7 265.5 h1.4 q1.2 0 1.2 1.4 v7.2 q0 1.4 -1.2 1.4 h-1.4"/></g><g fill="#111" fill-opacity="0.85"><circle cx="771.4" cy="247.8" r="0.6"/><circle cx="777.6" cy="247.9" r="0.6"/><circle cx="783.7" cy="248.0" r="0.6"/><circle cx="789.8" cy="247.9" r="0.6"/><circle cx="796.0" cy="247.8" r="0.6"/><circle cx="764.9" cy="253.3" r="0.6"/><circle cx="771.2" cy="253.4" r="0.6"/><circle cx="777.4" cy="253.6" r="0.6"/><circle cx="783.7" cy="253.6" r="0.6"/><circle cx="790.0" cy="253.6" r="0.6"/><circle cx="796.2" cy="253.4" r="0.6"/><circle cx="802.5" cy="253.3" r="0.6"/><circle cx="761.3" cy="258.9" r="0.6"/><circle cx="766.9" cy="259.0" r="0.6"/><circle cx="772.5" cy="259.1" r="0.6"/><circle cx="778.1" cy="259.2" r="0.6"/><circle cx="783.7" cy="259.3" r="0.6"/><circle cx="789.3" cy="259.2" r="0.6"/><circle cx="794.9" cy="259.1" r="0.6"/><circle cx="800.5" cy="259.0" r="0.6"/><circle cx="806.1" cy="258.9" r="0.6"/><circle cx="759.5" cy="264.4" r="0.6"/><circle cx="765.5" cy="264.6" r="0.6"/><circle cx="771.6" cy="264.7" r="0.6"/><circle cx="777.6" cy="264.8" r="0.6"/><circle cx="783.7" cy="264.9" r="0.6"/><circle cx="789.8" cy="264.8" r="0.6"/><circle cx="795.8" cy="264.7" r="0.6"/><circle cx="801.9" cy="264.6" r="0.6"/><circle cx="807.9" cy="264.4" r="0.6"/><circle cx="758.9" cy="270.5" r="0.6"/><circle cx="765.1" cy="270.5" r="0.6"/><circle cx="771.3" cy="270.5" r="0.6"/><circle cx="777.5" cy="270.5" r="0.6"/><circle cx="783.7" cy="270.5" r="0.6"/><circle cx="789.9" cy="270.5" r="0.6"/><circle cx="796.1" cy="270.5" r="0.6"/><circle cx="802.3" cy="270.5" r="0.6"/><circle cx="808.5" cy="270.5" r="0.6"/><circle cx="759.5" cy="276.6" r="0.6"/><circle cx="765.5" cy="276.4" r="0.6"/><circle cx="771.6" cy="276.3" r="0.6"/><circle cx="777.6" cy="276.2" r="0.6"/><circle cx="783.7" cy="276.1" r="0.6"/><circle cx="789.8" cy="276.2" r="0.6"/><circle cx="795.8" cy="276.3" r="0.6"/><circle cx="801.9" cy="276.4" r="0.6"/><circle cx="807.9" cy="276.6" r="0.6"/><circle cx="761.3" cy="282.1" r="0.6"/><circle cx="766.9" cy="282.0" r="0.6"/><circle cx="772.5" cy="281.9" r="0.6"/><circle cx="778.1" cy="281.8" r="0.6"/><circle cx="783.7" cy="281.7" r="0.6"/><circle cx="789.3" cy="281.8" r="0.6"/><circle cx="794.9" cy="281.9" r="0.6"/><circle cx="800.5" cy="282.0" r="0.6"/><circle cx="806.1" cy="282.1" r="0.6"/><circle cx="764.9" cy="287.7" r="0.6"/><circle cx="771.2" cy="287.6" r="0.6"/><circle cx="777.4" cy="287.4" r="0.6"/><circle cx="783.7" cy="287.4" r="0.6"/><circle cx="790.0" cy="287.4" r="0.6"/><circle cx="796.2" cy="287.6" r="0.6"/><circle cx="802.5" cy="287.7" r="0.6"/><circle cx="771.4" cy="293.2" r="0.6"/><circle cx="777.6" cy="293.1" r="0.6"/><circle cx="783.7" cy="293.0" r="0.6"/><circle cx="789.8" cy="293.1" r="0.6"/><circle cx="796.0" cy="293.2" r="0.6"/></g><text x="709.5" y="235.2" font-size="13.2" textLength="26.8" lengthAdjust="spacingAndGlyphs" fill="#111" stroke="#111" stroke-width="0.25">IT #2</text><text x="759.1" y="235.2" font-size="13.2" textLength="49.3" lengthAdjust="spacingAndGlyphs" fill="#c4201c" stroke="#c4201c" stroke-width="0.25">gaIC #60</text><defs><linearGradient id="gy_" gradientUnits="userSpaceOnUse" x1="395" y1="114" x2="420" y2="203"><stop offset="0" stop-color="#858585"/><stop offset="0.45" stop-color="#666"/><stop offset="0.8" stop-color="#505050"/><stop offset="1" stop-color="#3a3a3a"/></linearGradient><clipPath id="bc_"><path d="M342.4 167.3 C342.0 163.8 341.7 160.1 342.1 157.1 C342.6 154.0 343.9 151.4 345.2 148.8 C346.5 146.2 347.8 144.0 349.9 141.3 C351.9 138.7 354.7 135.6 357.6 133.1 C360.5 130.6 363.6 128.3 367.2 126.4 C370.9 124.6 375.3 123.3 379.7 122.0 C384.0 120.8 388.4 120.0 393.4 119.0 C398.5 118.0 404.9 116.7 410.0 116.2 C415.1 115.7 419.2 115.7 423.8 116.0 C428.4 116.2 433.0 116.5 437.6 117.6 C442.2 118.7 447.0 120.3 451.4 122.6 C455.7 124.9 460.1 127.7 463.8 131.4 C467.5 135.1 470.9 140.4 473.4 144.7 C476.0 148.9 477.8 153.3 479.0 157.1 C480.2 160.8 480.7 163.9 480.6 167.3 C480.5 170.6 479.8 174.4 478.4 177.2 C477.0 180.0 474.7 182.3 472.1 183.8 C469.4 185.4 465.6 186.6 462.4 186.6 C459.2 186.6 455.7 184.3 452.8 183.8 C449.8 183.4 446.8 183.2 444.5 183.8 C442.2 184.4 441.3 185.9 439.0 187.4 C436.7 188.9 433.9 191.0 430.7 192.9 C427.5 194.8 423.6 197.3 419.7 198.7 C415.7 200.1 411.4 201.2 407.2 201.5 C403.1 201.8 398.7 201.0 394.8 200.4 C390.9 199.7 387.0 198.8 383.8 197.6 C380.6 196.4 378.5 194.6 375.5 193.2 C372.5 191.8 369.8 190.8 365.9 189.1 C362.0 187.4 355.6 184.9 352.1 183.0 C348.6 181.1 346.5 180.4 344.9 177.8 C343.3 175.1 342.9 170.7 342.4 167.3 Z"/></clipPath></defs><g><path d="M342.4 167.3 C342.0 163.8 341.7 160.1 342.1 157.1 C342.6 154.0 343.9 151.4 345.2 148.8 C346.5 146.2 347.8 144.0 349.9 141.3 C351.9 138.7 354.7 135.6 357.6 133.1 C360.5 130.6 363.6 128.3 367.2 126.4 C370.9 124.6 375.3 123.3 379.7 122.0 C384.0 120.8 388.4 120.0 393.4 119.0 C398.5 118.0 404.9 116.7 410.0 116.2 C415.1 115.7 419.2 115.7 423.8 116.0 C428.4 116.2 433.0 116.5 437.6 117.6 C442.2 118.7 447.0 120.3 451.4 122.6 C455.7 124.9 460.1 127.7 463.8 131.4 C467.5 135.1 470.9 140.4 473.4 144.7 C476.0 148.9 477.8 153.3 479.0 157.1 C480.2 160.8 480.7 163.9 480.6 167.3 C480.5 170.6 479.8 174.4 478.4 177.2 C477.0 180.0 474.7 182.3 472.1 183.8 C469.4 185.4 465.6 186.6 462.4 186.6 C459.2 186.6 455.7 184.3 452.8 183.8 C449.8 183.4 446.8 183.2 444.5 183.8 C442.2 184.4 441.3 185.9 439.0 187.4 C436.7 188.9 433.9 191.0 430.7 192.9 C427.5 194.8 423.6 197.3 419.7 198.7 C415.7 200.1 411.4 201.2 407.2 201.5 C403.1 201.8 398.7 201.0 394.8 200.4 C390.9 199.7 387.0 198.8 383.8 197.6 C380.6 196.4 378.5 194.6 375.5 193.2 C372.5 191.8 369.8 190.8 365.9 189.1 C362.0 187.4 355.6 184.9 352.1 183.0 C348.6 181.1 346.5 180.4 344.9 177.8 C343.3 175.1 342.9 170.7 342.4 167.3 Z" fill="#2c2c2c"/><g clip-path="url(#bc_)"><mask id="gm_" maskUnits="userSpaceOnUse" x="335" y="110" width="150" height="95"><path d="M385.2 172.8 C385.5 172.4 386.5 171.2 387.1 170.4 C387.7 169.7 388.4 168.9 389.0 168.1 C389.7 167.3 390.3 166.5 391.0 165.8 C391.6 165.0 392.5 164.3 392.9 163.4 C393.3 162.5 393.3 161.4 393.4 160.4 C393.6 159.5 393.8 158.5 394.0 157.5 C394.2 156.5 394.4 155.5 394.6 154.5 C394.7 153.5 394.9 152.7 395.1 151.6 C395.3 150.4 395.7 149.1 396.0 147.9 C396.3 146.6 396.6 145.4 396.9 144.2 C397.2 143.0 397.5 141.6 397.9 140.5 C398.2 139.4 398.7 138.7 399.1 137.8 C399.5 136.8 399.9 135.9 400.3 135.0 C400.8 134.1 401.2 133.2 401.6 132.2 C402.0 131.3 402.2 130.4 402.8 129.5 C403.5 128.6 404.5 127.8 405.4 127.0 C406.3 126.2 407.1 125.3 408.0 124.5 C408.8 123.7 410.1 122.4 410.6 122.0 M404.8 139.1 C405.2 138.7 406.8 136.8 407.2 136.4 M410.6 159.0 C410.8 158.5 411.5 157.1 411.9 156.1 C412.4 155.1 412.9 154.2 413.3 153.2 C413.8 152.2 414.2 151.3 414.7 150.3 C415.1 149.3 415.6 148.4 416.1 147.4 C416.5 146.5 416.9 145.6 417.3 144.7 C417.7 143.7 418.1 142.8 418.6 141.9 C419.0 141.0 419.4 140.1 419.8 139.1 C420.2 138.2 420.6 137.3 421.0 136.4 C421.5 135.5 422.0 134.6 422.6 133.8 C423.1 132.9 423.6 132.0 424.1 131.1 C424.6 130.3 425.1 129.4 425.6 128.5 C426.1 127.6 426.3 126.8 427.1 125.9 C427.9 125.0 429.1 124.1 430.1 123.1 C431.1 122.2 432.7 120.8 433.2 120.4 M421.6 161.8 C421.9 161.2 422.8 159.6 423.4 158.6 C424.0 157.5 424.6 156.5 425.2 155.4 C425.8 154.4 426.4 153.3 427.0 152.2 C427.6 151.2 428.1 150.1 428.8 149.1 C429.4 148.1 430.0 147.2 430.6 146.3 C431.3 145.4 431.9 144.5 432.5 143.6 C433.1 142.6 433.8 141.7 434.4 140.8 C435.0 139.9 435.6 139.0 436.3 138.0 C436.9 137.1 437.4 136.0 438.1 135.3 C438.9 134.5 439.9 134.0 440.7 133.4 C441.6 132.8 442.4 132.2 443.3 131.6 C444.1 131.0 444.7 130.0 445.9 129.8 C447.0 129.5 448.6 130.1 450.0 130.3 C451.4 130.5 453.4 130.8 454.1 130.9 M395.8 168.7 C396.4 168.6 397.9 168.6 399.0 168.4 C400.0 168.1 401.1 167.6 402.2 167.3 C403.3 166.9 404.3 166.5 405.4 166.2 C406.5 165.8 407.5 165.4 408.6 165.1 C409.7 164.7 410.8 164.3 411.8 164.0 C412.9 163.6 414.5 163.0 415.1 162.9 M431.5 156.0 C432.1 155.8 434.3 154.8 434.8 154.6 M358.1 148.0 C358.6 147.7 360.2 147.0 361.2 146.5 C362.2 146.0 363.2 145.5 364.2 145.0 C365.2 144.5 366.2 143.8 367.2 143.6 C368.3 143.3 369.5 143.6 370.6 143.6 C371.8 143.6 372.9 143.6 374.0 143.6 C375.2 143.6 376.9 143.6 377.4 143.6 M418.1 194.0 C418.5 193.5 419.6 192.2 420.4 191.5 C421.2 190.7 422.3 190.1 423.0 189.2 C423.7 188.4 423.9 186.8 424.8 186.3 C425.6 185.8 427.1 186.0 428.2 186.2 C429.2 186.4 430.8 187.3 431.3 187.5 M402.1 188.0 C401.8 187.5 400.1 186.2 400.1 185.3 C400.0 184.3 400.9 183.0 401.8 182.3 C402.6 181.7 403.9 181.5 405.0 181.4 C406.1 181.2 407.3 181.4 408.4 181.5 C409.6 181.6 410.7 181.9 411.8 182.2 C412.9 182.5 414.4 183.2 415.0 183.4 M384.1 140.0 C383.9 140.5 383.2 142.1 383.0 143.2 C382.8 144.3 382.3 145.9 382.8 146.6 C383.4 147.3 385.1 146.9 386.1 147.4 C387.1 147.9 388.4 148.6 388.8 149.5 C389.2 150.4 389.0 152.2 388.4 152.9 C387.7 153.6 386.1 153.2 385.0 153.6 C384.0 154.1 382.7 155.2 382.2 155.6 M396.1 124.0 C396.5 123.6 397.6 122.1 398.5 121.5 C399.5 121.0 400.7 121.0 401.8 120.5 C402.8 120.1 404.2 119.1 404.7 118.8 M462.1 160.0 C462.1 160.5 462.2 162.3 462.0 163.4 C461.8 164.5 461.4 165.6 460.8 166.5 C460.3 167.5 459.1 168.8 458.8 169.2 M476.1 156.0 C476.1 155.4 476.4 153.6 476.0 152.6 C475.6 151.5 474.5 150.8 474.0 149.8 C473.5 148.8 473.7 147.4 473.1 146.5 C472.5 145.7 471.4 144.9 470.3 144.6 C469.3 144.2 468.0 144.2 466.9 144.4 C465.8 144.6 464.7 145.1 463.8 145.8 C463.0 146.5 462.2 148.1 461.9 148.6 M442.1 184.0 C441.6 184.1 440.0 185.0 438.9 185.1 C437.8 185.1 436.7 184.6 435.6 184.2 C434.6 183.7 433.8 182.8 432.8 182.2 C431.9 181.7 430.7 181.4 429.8 180.7 C428.9 180.1 428.1 179.1 427.6 178.1 C427.0 177.2 426.7 175.5 426.5 174.9 M364.1 178.0 C363.7 177.6 362.2 176.6 361.6 175.7 C360.9 174.8 360.5 173.7 360.3 172.6 C360.2 171.5 360.4 170.3 360.5 169.2 C360.6 168.0 360.8 166.9 361.1 165.8 C361.4 164.7 361.8 163.7 362.2 162.6 C362.6 161.6 363.4 160.0 363.6 159.5 M366.1 170.0 C366.5 170.4 367.5 171.8 368.1 172.8 C368.6 173.8 368.8 175.0 369.4 175.9 C369.9 176.9 371.2 178.1 371.5 178.5 M470.1 170.0 C469.8 170.4 468.9 171.9 468.0 172.6 C467.2 173.3 466.0 173.7 465.1 174.3 C464.1 175.0 463.2 175.6 462.4 176.4 C461.6 177.2 460.2 178.2 460.3 179.1 C460.3 179.9 461.7 181.1 462.6 181.6 C463.6 182.0 465.4 181.8 466.0 181.8 M382.1 128.0 C382.5 127.5 383.8 126.4 384.4 125.4 C384.9 124.4 384.8 122.8 385.6 122.2 C386.3 121.6 388.4 121.9 388.9 121.8 M354.1 180.0 C354.6 180.3 355.9 181.5 356.9 181.9 C357.9 182.4 359.2 182.4 360.2 182.9 C361.2 183.4 361.8 184.5 362.8 185.0 C363.9 185.4 365.1 185.4 366.2 185.5 C367.3 185.6 368.5 185.7 369.6 185.5 C370.7 185.3 371.8 184.8 372.8 184.3 C373.8 183.8 375.2 182.9 375.7 182.6 M460.1 138.0 C460.1 138.5 460.2 140.5 459.7 141.3 C459.1 142.2 457.7 142.4 456.8 143.1 C455.9 143.8 455.4 145.1 454.4 145.5 C453.4 145.9 452.1 145.6 451.0 145.4 C449.9 145.1 448.6 144.8 447.9 144.0 C447.1 143.3 447.1 141.9 446.6 140.9 C446.1 139.9 445.0 138.5 444.7 138.1 M468.1 162.0 C468.6 162.2 470.1 163.1 471.1 163.6 C472.1 164.1 473.2 164.5 474.1 165.1 C475.1 165.8 476.0 166.6 476.6 167.5 C477.2 168.4 477.6 169.6 477.8 170.7 C478.1 171.8 478.4 173.0 478.2 174.1 C478.0 175.1 477.0 176.6 476.8 177.2 M368.1 156.0 C367.7 155.6 366.7 154.2 365.8 153.5 C364.9 152.9 363.2 152.4 362.7 152.1 M412.1 172.0 C412.6 171.7 414.1 170.9 415.1 170.3 C416.0 169.6 416.7 168.5 417.7 168.1 C418.8 167.8 420.0 168.0 421.1 168.1 C422.3 168.2 423.9 168.8 424.4 169.0 M434.1 164.0 C434.5 164.4 435.3 166.0 436.1 166.7 C436.9 167.5 438.0 168.2 439.0 168.5 C440.1 168.9 441.3 168.8 442.4 168.8 C443.5 168.9 444.9 169.1 445.8 168.6 C446.6 168.0 446.8 166.4 447.5 165.6 C448.3 164.8 449.9 164.0 450.3 163.7 M448.1 154.0 C448.7 154.2 450.2 155.1 451.3 155.2 C452.4 155.3 453.5 154.6 454.6 154.3 C455.7 154.0 457.3 153.6 457.9 153.4 M392.1 190.0 C392.3 190.5 393.1 192.1 393.1 193.2 C393.1 194.3 391.9 195.7 392.3 196.5 C392.6 197.3 394.9 197.6 395.4 197.8 M440.1 160.0 C440.3 159.4 441.1 157.8 441.1 156.7 C441.1 155.6 440.6 154.5 440.3 153.4 C440.0 152.3 439.6 150.7 439.4 150.1 M396.1 176.0 C395.7 175.6 394.0 174.2 393.5 173.8 M386.1 184.0 C386.5 183.5 387.4 182.0 388.3 181.4 C389.2 180.7 390.9 180.2 391.4 180.0 M410.1 130.0 C410.7 129.9 412.4 129.7 413.5 129.6 C414.7 129.6 416.2 130.2 416.9 129.6 C417.7 129.1 417.9 127.5 418.0 126.4 C418.0 125.3 417.1 124.3 417.0 123.1 C416.9 122.0 417.5 120.7 417.1 119.7 C416.8 118.8 415.3 117.6 414.9 117.2 M392.1 128.0h0.1 M356.1 136.0 C356.4 136.5 356.7 138.4 357.4 139.1 C358.2 139.9 359.5 140.4 360.6 140.4 C361.6 140.4 362.8 139.7 363.7 139.2 C364.7 138.6 365.3 137.4 366.3 136.9 C367.3 136.5 368.6 136.1 369.6 136.3 C370.6 136.6 371.9 138.1 372.3 138.4 M456.1 174.0h0.1 M354.1 160.0 C353.8 160.4 352.6 161.7 352.0 162.6 C351.4 163.6 351.2 164.9 350.5 165.6 C349.7 166.4 348.4 166.5 347.4 167.2 C346.5 167.8 345.2 168.5 344.9 169.5 C344.6 170.4 345.0 171.9 345.6 172.8 C346.1 173.8 347.6 174.8 348.0 175.2 M402.1 160.0h0.1 M472.1 182.0 C471.9 181.5 470.9 179.4 470.6 178.9 M372.1 160.0 C372.6 159.6 374.0 158.6 374.7 157.8 C375.4 156.9 376.2 155.9 376.4 154.8 C376.7 153.8 376.3 152.0 376.3 151.4 M382.1 164.0 C382.6 163.7 384.2 162.9 385.0 162.2 C385.8 161.4 386.7 159.9 387.0 159.4 M364.1 130.0 C363.8 130.5 362.7 132.4 362.4 132.9 M344.1 158.0 C344.7 158.0 347.0 158.0 347.5 158.1 M384.1 194.0 C383.6 193.8 382.0 193.2 381.0 192.8 C379.9 192.3 379.0 191.6 377.9 191.3 C376.8 191.1 375.1 191.3 374.5 191.3 M374.1 170.0 C374.1 169.4 373.7 167.6 374.0 166.6 C374.4 165.6 375.8 164.3 376.1 163.9 M440.1 120.0 C439.9 120.5 439.2 122.1 438.6 123.0 C437.9 123.9 436.9 124.5 436.2 125.4 C435.4 126.2 434.5 127.1 434.1 128.1 C433.6 129.1 433.8 130.4 433.4 131.4 C432.9 132.4 432.1 133.3 431.4 134.1 C430.6 135.0 429.7 135.7 428.9 136.4 C428.1 137.2 426.8 138.4 426.4 138.8 M446.1 160.0h0.1 M406.1 150.0 C406.5 149.5 408.1 148.4 408.4 147.4 C408.6 146.4 407.7 144.7 407.5 144.1 M354.1 170.0h0.1 M420.1 174.0 C419.8 174.4 419.2 176.2 418.3 176.8 C417.4 177.4 415.6 177.5 415.0 177.6 M440.1 144.0h0.1 M392.1 140.0 C392.1 139.4 392.3 137.7 392.1 136.6 C391.9 135.5 391.8 134.1 391.1 133.3 C390.4 132.5 389.1 131.8 388.1 131.7 C387.0 131.7 385.4 132.7 384.9 133.0 M404.1 176.0 C403.9 175.4 403.1 173.3 402.9 172.8 M436.1 176.0 C435.6 175.8 433.4 175.2 432.9 175.1 M354.1 152.0 C354.7 152.2 356.5 152.6 357.2 153.3 C358.0 154.1 358.4 155.9 358.7 156.4 M448.1 174.0 C448.6 173.6 450.0 172.7 450.7 171.8 C451.5 170.9 452.1 169.3 452.4 168.8 M464.1 154.0 C464.6 153.7 466.2 152.4 467.2 152.5 C468.2 152.6 469.6 154.1 470.0 154.4 M376.1 126.0 C375.6 126.1 374.0 126.7 372.9 127.0 C371.8 127.3 370.1 127.6 369.6 127.7 M462.1 132.0h0.1 M450.1 136.0 C450.5 136.4 452.0 138.1 452.3 138.6 M466.1 138.0h0.1 M424.1 118.0 C424.7 118.0 427.0 118.2 427.5 118.2 M368.1 164.0h0.1 M354.1 144.0 C353.6 144.2 351.9 144.6 351.0 145.2 C350.0 145.8 348.9 146.4 348.3 147.3 C347.8 148.2 347.8 150.1 347.7 150.7 M404.1 194.0 C403.6 194.0 401.3 194.0 400.7 194.1 M410.1 198.0 C410.7 197.8 412.9 197.2 413.4 197.1 M454.1 182.0h0.1 M404.1 200.0h0.1 M382.1 178.0h0.1 M428.1 192.0h0.1 M370.1 150.0h0.1 M410.1 190.0h0.1 M380.1 136.0h0.1 M424.1 144.0h0.1 M380.1 186.0h0.1 M456.1 160.0h0.1 M400.1 154.0h0.1 M442.1 178.0h0.1 M448.1 182.0h0.1 M446.1 124.0 C446.7 123.8 448.8 123.1 449.4 122.9 M430.1 168.0h0.1 M418.1 156.0h0.1 M402.1 146.0h0.1 M428.1 162.0h0.1 M414.1 138.0h0.1 M376.1 132.0h0.1" fill="none" stroke="#fff" stroke-width="5.1" stroke-linecap="round" stroke-linejoin="round"/></mask><g fill="none" stroke="url(#gy_)" stroke-width="5.1" stroke-linecap="round" stroke-linejoin="round"><path d="M385.2 172.8 C385.5 172.4 386.5 171.2 387.1 170.4 C387.7 169.7 388.4 168.9 389.0 168.1 C389.7 167.3 390.3 166.5 391.0 165.8 C391.6 165.0 392.5 164.3 392.9 163.4 C393.3 162.5 393.3 161.4 393.4 160.4 C393.6 159.5 393.8 158.5 394.0 157.5 C394.2 156.5 394.4 155.5 394.6 154.5 C394.7 153.5 394.9 152.7 395.1 151.6 C395.3 150.4 395.7 149.1 396.0 147.9 C396.3 146.6 396.6 145.4 396.9 144.2 C397.2 143.0 397.5 141.6 397.9 140.5 C398.2 139.4 398.7 138.7 399.1 137.8 C399.5 136.8 399.9 135.9 400.3 135.0 C400.8 134.1 401.2 133.2 401.6 132.2 C402.0 131.3 402.2 130.4 402.8 129.5 C403.5 128.6 404.5 127.8 405.4 127.0 C406.3 126.2 407.1 125.3 408.0 124.5 C408.8 123.7 410.1 122.4 410.6 122.0 M404.8 139.1 C405.2 138.7 406.8 136.8 407.2 136.4 M410.6 159.0 C410.8 158.5 411.5 157.1 411.9 156.1 C412.4 155.1 412.9 154.2 413.3 153.2 C413.8 152.2 414.2 151.3 414.7 150.3 C415.1 149.3 415.6 148.4 416.1 147.4 C416.5 146.5 416.9 145.6 417.3 144.7 C417.7 143.7 418.1 142.8 418.6 141.9 C419.0 141.0 419.4 140.1 419.8 139.1 C420.2 138.2 420.6 137.3 421.0 136.4 C421.5 135.5 422.0 134.6 422.6 133.8 C423.1 132.9 423.6 132.0 424.1 131.1 C424.6 130.3 425.1 129.4 425.6 128.5 C426.1 127.6 426.3 126.8 427.1 125.9 C427.9 125.0 429.1 124.1 430.1 123.1 C431.1 122.2 432.7 120.8 433.2 120.4 M421.6 161.8 C421.9 161.2 422.8 159.6 423.4 158.6 C424.0 157.5 424.6 156.5 425.2 155.4 C425.8 154.4 426.4 153.3 427.0 152.2 C427.6 151.2 428.1 150.1 428.8 149.1 C429.4 148.1 430.0 147.2 430.6 146.3 C431.3 145.4 431.9 144.5 432.5 143.6 C433.1 142.6 433.8 141.7 434.4 140.8 C435.0 139.9 435.6 139.0 436.3 138.0 C436.9 137.1 437.4 136.0 438.1 135.3 C438.9 134.5 439.9 134.0 440.7 133.4 C441.6 132.8 442.4 132.2 443.3 131.6 C444.1 131.0 444.7 130.0 445.9 129.8 C447.0 129.5 448.6 130.1 450.0 130.3 C451.4 130.5 453.4 130.8 454.1 130.9 M395.8 168.7 C396.4 168.6 397.9 168.6 399.0 168.4 C400.0 168.1 401.1 167.6 402.2 167.3 C403.3 166.9 404.3 166.5 405.4 166.2 C406.5 165.8 407.5 165.4 408.6 165.1 C409.7 164.7 410.8 164.3 411.8 164.0 C412.9 163.6 414.5 163.0 415.1 162.9 M431.5 156.0 C432.1 155.8 434.3 154.8 434.8 154.6 M358.1 148.0 C358.6 147.7 360.2 147.0 361.2 146.5 C362.2 146.0 363.2 145.5 364.2 145.0 C365.2 144.5 366.2 143.8 367.2 143.6 C368.3 143.3 369.5 143.6 370.6 143.6 C371.8 143.6 372.9 143.6 374.0 143.6 C375.2 143.6 376.9 143.6 377.4 143.6 M418.1 194.0 C418.5 193.5 419.6 192.2 420.4 191.5 C421.2 190.7 422.3 190.1 423.0 189.2 C423.7 188.4 423.9 186.8 424.8 186.3 C425.6 185.8 427.1 186.0 428.2 186.2 C429.2 186.4 430.8 187.3 431.3 187.5 M402.1 188.0 C401.8 187.5 400.1 186.2 400.1 185.3 C400.0 184.3 400.9 183.0 401.8 182.3 C402.6 181.7 403.9 181.5 405.0 181.4 C406.1 181.2 407.3 181.4 408.4 181.5 C409.6 181.6 410.7 181.9 411.8 182.2 C412.9 182.5 414.4 183.2 415.0 183.4 M384.1 140.0 C383.9 140.5 383.2 142.1 383.0 143.2 C382.8 144.3 382.3 145.9 382.8 146.6 C383.4 147.3 385.1 146.9 386.1 147.4 C387.1 147.9 388.4 148.6 388.8 149.5 C389.2 150.4 389.0 152.2 388.4 152.9 C387.7 153.6 386.1 153.2 385.0 153.6 C384.0 154.1 382.7 155.2 382.2 155.6 M396.1 124.0 C396.5 123.6 397.6 122.1 398.5 121.5 C399.5 121.0 400.7 121.0 401.8 120.5 C402.8 120.1 404.2 119.1 404.7 118.8 M462.1 160.0 C462.1 160.5 462.2 162.3 462.0 163.4 C461.8 164.5 461.4 165.6 460.8 166.5 C460.3 167.5 459.1 168.8 458.8 169.2 M476.1 156.0 C476.1 155.4 476.4 153.6 476.0 152.6 C475.6 151.5 474.5 150.8 474.0 149.8 C473.5 148.8 473.7 147.4 473.1 146.5 C472.5 145.7 471.4 144.9 470.3 144.6 C469.3 144.2 468.0 144.2 466.9 144.4 C465.8 144.6 464.7 145.1 463.8 145.8 C463.0 146.5 462.2 148.1 461.9 148.6 M442.1 184.0 C441.6 184.1 440.0 185.0 438.9 185.1 C437.8 185.1 436.7 184.6 435.6 184.2 C434.6 183.7 433.8 182.8 432.8 182.2 C431.9 181.7 430.7 181.4 429.8 180.7 C428.9 180.1 428.1 179.1 427.6 178.1 C427.0 177.2 426.7 175.5 426.5 174.9 M364.1 178.0 C363.7 177.6 362.2 176.6 361.6 175.7 C360.9 174.8 360.5 173.7 360.3 172.6 C360.2 171.5 360.4 170.3 360.5 169.2 C360.6 168.0 360.8 166.9 361.1 165.8 C361.4 164.7 361.8 163.7 362.2 162.6 C362.6 161.6 363.4 160.0 363.6 159.5 M366.1 170.0 C366.5 170.4 367.5 171.8 368.1 172.8 C368.6 173.8 368.8 175.0 369.4 175.9 C369.9 176.9 371.2 178.1 371.5 178.5 M470.1 170.0 C469.8 170.4 468.9 171.9 468.0 172.6 C467.2 173.3 466.0 173.7 465.1 174.3 C464.1 175.0 463.2 175.6 462.4 176.4 C461.6 177.2 460.2 178.2 460.3 179.1 C460.3 179.9 461.7 181.1 462.6 181.6 C463.6 182.0 465.4 181.8 466.0 181.8 M382.1 128.0 C382.5 127.5 383.8 126.4 384.4 125.4 C384.9 124.4 384.8 122.8 385.6 122.2 C386.3 121.6 388.4 121.9 388.9 121.8 M354.1 180.0 C354.6 180.3 355.9 181.5 356.9 181.9 C357.9 182.4 359.2 182.4 360.2 182.9 C361.2 183.4 361.8 184.5 362.8 185.0 C363.9 185.4 365.1 185.4 366.2 185.5 C367.3 185.6 368.5 185.7 369.6 185.5 C370.7 185.3 371.8 184.8 372.8 184.3 C373.8 183.8 375.2 182.9 375.7 182.6 M460.1 138.0 C460.1 138.5 460.2 140.5 459.7 141.3 C459.1 142.2 457.7 142.4 456.8 143.1 C455.9 143.8 455.4 145.1 454.4 145.5 C453.4 145.9 452.1 145.6 451.0 145.4 C449.9 145.1 448.6 144.8 447.9 144.0 C447.1 143.3 447.1 141.9 446.6 140.9 C446.1 139.9 445.0 138.5 444.7 138.1 M468.1 162.0 C468.6 162.2 470.1 163.1 471.1 163.6 C472.1 164.1 473.2 164.5 474.1 165.1 C475.1 165.8 476.0 166.6 476.6 167.5 C477.2 168.4 477.6 169.6 477.8 170.7 C478.1 171.8 478.4 173.0 478.2 174.1 C478.0 175.1 477.0 176.6 476.8 177.2 M368.1 156.0 C367.7 155.6 366.7 154.2 365.8 153.5 C364.9 152.9 363.2 152.4 362.7 152.1 M412.1 172.0 C412.6 171.7 414.1 170.9 415.1 170.3 C416.0 169.6 416.7 168.5 417.7 168.1 C418.8 167.8 420.0 168.0 421.1 168.1 C422.3 168.2 423.9 168.8 424.4 169.0 M434.1 164.0 C434.5 164.4 435.3 166.0 436.1 166.7 C436.9 167.5 438.0 168.2 439.0 168.5 C440.1 168.9 441.3 168.8 442.4 168.8 C443.5 168.9 444.9 169.1 445.8 168.6 C446.6 168.0 446.8 166.4 447.5 165.6 C448.3 164.8 449.9 164.0 450.3 163.7 M448.1 154.0 C448.7 154.2 450.2 155.1 451.3 155.2 C452.4 155.3 453.5 154.6 454.6 154.3 C455.7 154.0 457.3 153.6 457.9 153.4 M392.1 190.0 C392.3 190.5 393.1 192.1 393.1 193.2 C393.1 194.3 391.9 195.7 392.3 196.5 C392.6 197.3 394.9 197.6 395.4 197.8 M440.1 160.0 C440.3 159.4 441.1 157.8 441.1 156.7 C441.1 155.6 440.6 154.5 440.3 153.4 C440.0 152.3 439.6 150.7 439.4 150.1 M396.1 176.0 C395.7 175.6 394.0 174.2 393.5 173.8 M386.1 184.0 C386.5 183.5 387.4 182.0 388.3 181.4 C389.2 180.7 390.9 180.2 391.4 180.0 M410.1 130.0 C410.7 129.9 412.4 129.7 413.5 129.6 C414.7 129.6 416.2 130.2 416.9 129.6 C417.7 129.1 417.9 127.5 418.0 126.4 C418.0 125.3 417.1 124.3 417.0 123.1 C416.9 122.0 417.5 120.7 417.1 119.7 C416.8 118.8 415.3 117.6 414.9 117.2 M392.1 128.0h0.1 M356.1 136.0 C356.4 136.5 356.7 138.4 357.4 139.1 C358.2 139.9 359.5 140.4 360.6 140.4 C361.6 140.4 362.8 139.7 363.7 139.2 C364.7 138.6 365.3 137.4 366.3 136.9 C367.3 136.5 368.6 136.1 369.6 136.3 C370.6 136.6 371.9 138.1 372.3 138.4 M456.1 174.0h0.1 M354.1 160.0 C353.8 160.4 352.6 161.7 352.0 162.6 C351.4 163.6 351.2 164.9 350.5 165.6 C349.7 166.4 348.4 166.5 347.4 167.2 C346.5 167.8 345.2 168.5 344.9 169.5 C344.6 170.4 345.0 171.9 345.6 172.8 C346.1 173.8 347.6 174.8 348.0 175.2 M402.1 160.0h0.1 M472.1 182.0 C471.9 181.5 470.9 179.4 470.6 178.9 M372.1 160.0 C372.6 159.6 374.0 158.6 374.7 157.8 C375.4 156.9 376.2 155.9 376.4 154.8 C376.7 153.8 376.3 152.0 376.3 151.4 M382.1 164.0 C382.6 163.7 384.2 162.9 385.0 162.2 C385.8 161.4 386.7 159.9 387.0 159.4 M364.1 130.0 C363.8 130.5 362.7 132.4 362.4 132.9 M344.1 158.0 C344.7 158.0 347.0 158.0 347.5 158.1 M384.1 194.0 C383.6 193.8 382.0 193.2 381.0 192.8 C379.9 192.3 379.0 191.6 377.9 191.3 C376.8 191.1 375.1 191.3 374.5 191.3 M374.1 170.0 C374.1 169.4 373.7 167.6 374.0 166.6 C374.4 165.6 375.8 164.3 376.1 163.9 M440.1 120.0 C439.9 120.5 439.2 122.1 438.6 123.0 C437.9 123.9 436.9 124.5 436.2 125.4 C435.4 126.2 434.5 127.1 434.1 128.1 C433.6 129.1 433.8 130.4 433.4 131.4 C432.9 132.4 432.1 133.3 431.4 134.1 C430.6 135.0 429.7 135.7 428.9 136.4 C428.1 137.2 426.8 138.4 426.4 138.8 M446.1 160.0h0.1 M406.1 150.0 C406.5 149.5 408.1 148.4 408.4 147.4 C408.6 146.4 407.7 144.7 407.5 144.1 M354.1 170.0h0.1 M420.1 174.0 C419.8 174.4 419.2 176.2 418.3 176.8 C417.4 177.4 415.6 177.5 415.0 177.6 M440.1 144.0h0.1 M392.1 140.0 C392.1 139.4 392.3 137.7 392.1 136.6 C391.9 135.5 391.8 134.1 391.1 133.3 C390.4 132.5 389.1 131.8 388.1 131.7 C387.0 131.7 385.4 132.7 384.9 133.0 M404.1 176.0 C403.9 175.4 403.1 173.3 402.9 172.8 M436.1 176.0 C435.6 175.8 433.4 175.2 432.9 175.1 M354.1 152.0 C354.7 152.2 356.5 152.6 357.2 153.3 C358.0 154.1 358.4 155.9 358.7 156.4 M448.1 174.0 C448.6 173.6 450.0 172.7 450.7 171.8 C451.5 170.9 452.1 169.3 452.4 168.8 M464.1 154.0 C464.6 153.7 466.2 152.4 467.2 152.5 C468.2 152.6 469.6 154.1 470.0 154.4 M376.1 126.0 C375.6 126.1 374.0 126.7 372.9 127.0 C371.8 127.3 370.1 127.6 369.6 127.7 M462.1 132.0h0.1 M450.1 136.0 C450.5 136.4 452.0 138.1 452.3 138.6 M466.1 138.0h0.1 M424.1 118.0 C424.7 118.0 427.0 118.2 427.5 118.2 M368.1 164.0h0.1 M354.1 144.0 C353.6 144.2 351.9 144.6 351.0 145.2 C350.0 145.8 348.9 146.4 348.3 147.3 C347.8 148.2 347.8 150.1 347.7 150.7 M404.1 194.0 C403.6 194.0 401.3 194.0 400.7 194.1 M410.1 198.0 C410.7 197.8 412.9 197.2 413.4 197.1 M454.1 182.0h0.1 M404.1 200.0h0.1 M382.1 178.0h0.1 M428.1 192.0h0.1 M370.1 150.0h0.1 M410.1 190.0h0.1 M380.1 136.0h0.1 M424.1 144.0h0.1 M380.1 186.0h0.1 M456.1 160.0h0.1 M400.1 154.0h0.1 M442.1 178.0h0.1 M448.1 182.0h0.1 M446.1 124.0 C446.7 123.8 448.8 123.1 449.4 122.9 M430.1 168.0h0.1 M418.1 156.0h0.1 M402.1 146.0h0.1 M428.1 162.0h0.1 M414.1 138.0h0.1 M376.1 132.0h0.1"/></g><g fill="none" stroke="#b0b0b0" stroke-width="0.9" stroke-linecap="round" opacity="0.4"><path d="M384.6 171.8 C384.9 171.4 385.9 170.2 386.5 169.4 C387.1 168.7 387.8 167.9 388.4 167.1 C389.1 166.3 389.7 165.5 390.4 164.8 C391.0 164.0 391.9 163.3 392.3 162.4 C392.7 161.5 392.7 160.4 392.8 159.4 C393.0 158.5 393.2 157.5 393.4 156.5 C393.6 155.5 393.8 154.5 394.0 153.5 C394.1 152.5 394.3 151.7 394.5 150.6 C394.7 149.4 395.1 148.1 395.4 146.9 C395.7 145.6 396.0 144.4 396.3 143.2 C396.6 142.0 396.9 140.6 397.3 139.5 C397.6 138.4 398.1 137.7 398.5 136.8 C398.9 135.8 399.3 134.9 399.7 134.0 C400.2 133.1 400.6 132.2 401.0 131.2 C401.4 130.3 401.6 129.4 402.2 128.5 C402.9 127.6 403.9 126.8 404.8 126.0 C405.7 125.2 406.5 124.3 407.4 123.5 C408.2 122.7 409.5 121.4 410.0 121.0 M404.2 138.1 C404.6 137.7 406.2 135.8 406.6 135.4 M410.0 158.0 C410.2 157.5 410.9 156.1 411.3 155.1 C411.8 154.1 412.3 153.2 412.7 152.2 C413.2 151.2 413.6 150.3 414.1 149.3 C414.5 148.3 415.0 147.4 415.5 146.4 C415.9 145.5 416.3 144.6 416.7 143.7 C417.1 142.7 417.5 141.8 418.0 140.9 C418.4 140.0 418.8 139.1 419.2 138.1 C419.6 137.2 420.0 136.3 420.4 135.4 C420.9 134.5 421.4 133.6 422.0 132.8 C422.5 131.9 423.0 131.0 423.5 130.1 C424.0 129.3 424.5 128.4 425.0 127.5 C425.5 126.6 425.7 125.8 426.5 124.9 C427.3 124.0 428.5 123.1 429.5 122.1 C430.5 121.2 432.1 119.8 432.6 119.4 M421.0 160.8 C421.3 160.2 422.2 158.6 422.8 157.6 C423.4 156.5 424.0 155.5 424.6 154.4 C425.2 153.4 425.8 152.3 426.4 151.2 C427.0 150.2 427.5 149.1 428.2 148.1 C428.8 147.1 429.4 146.2 430.0 145.3 C430.7 144.4 431.3 143.5 431.9 142.6 C432.5 141.6 433.2 140.7 433.8 139.8 C434.4 138.9 435.0 138.0 435.7 137.0 C436.3 136.1 436.8 135.0 437.5 134.3 C438.3 133.5 439.3 133.0 440.1 132.4 C441.0 131.8 441.8 131.2 442.7 130.6 C443.5 130.0 444.1 129.0 445.3 128.8 C446.4 128.5 448.0 129.1 449.4 129.3 C450.8 129.5 452.8 129.8 453.5 129.9 M395.2 167.7 C395.8 167.6 397.3 167.6 398.4 167.4 C399.4 167.1 400.5 166.6 401.6 166.3 C402.7 165.9 403.7 165.5 404.8 165.2 C405.9 164.8 406.9 164.4 408.0 164.1 C409.1 163.7 410.2 163.3 411.2 163.0 C412.3 162.6 413.9 162.0 414.5 161.9 M430.9 155.0 C431.5 154.8 433.7 153.8 434.2 153.6 M357.5 147.0 C358.0 146.7 359.6 146.0 360.6 145.5 C361.6 145.0 362.6 144.5 363.6 144.0 C364.6 143.5 365.6 142.8 366.6 142.6 C367.7 142.3 368.9 142.6 370.0 142.6 C371.2 142.6 372.3 142.6 373.4 142.6 C374.6 142.6 376.3 142.6 376.8 142.6 M417.5 193.0 C417.9 192.5 419.0 191.2 419.8 190.5 C420.6 189.7 421.7 189.1 422.4 188.2 C423.1 187.4 423.3 185.8 424.2 185.3 C425.0 184.8 426.5 185.0 427.6 185.2 C428.6 185.4 430.2 186.3 430.7 186.5 M401.5 187.0 C401.2 186.5 399.5 185.2 399.5 184.3 C399.4 183.3 400.3 182.0 401.2 181.3 C402.0 180.7 403.3 180.5 404.4 180.4 C405.5 180.2 406.7 180.4 407.8 180.5 C409.0 180.6 410.1 180.9 411.2 181.2 C412.3 181.5 413.8 182.2 414.4 182.4 M383.5 139.0 C383.3 139.5 382.6 141.1 382.4 142.2 C382.2 143.3 381.7 144.9 382.2 145.6 C382.8 146.3 384.5 145.9 385.5 146.4 C386.5 146.9 387.8 147.6 388.2 148.5 C388.6 149.4 388.4 151.2 387.8 151.9 C387.1 152.6 385.5 152.2 384.4 152.6 C383.4 153.1 382.1 154.2 381.6 154.6 M395.5 123.0 C395.9 122.6 397.0 121.1 397.9 120.5 C398.9 120.0 400.1 120.0 401.2 119.5 C402.2 119.1 403.6 118.1 404.1 117.8 M461.5 159.0 C461.5 159.5 461.6 161.3 461.4 162.4 C461.2 163.5 460.8 164.6 460.2 165.5 C459.7 166.5 458.5 167.8 458.2 168.2 M475.5 155.0 C475.5 154.4 475.8 152.6 475.4 151.6 C475.0 150.5 473.9 149.8 473.4 148.8 C472.9 147.8 473.1 146.4 472.5 145.5 C471.9 144.7 470.8 143.9 469.7 143.6 C468.7 143.2 467.4 143.2 466.3 143.4 C465.2 143.6 464.1 144.1 463.2 144.8 C462.4 145.5 461.6 147.1 461.3 147.6 M441.5 183.0 C441.0 183.1 439.4 184.0 438.3 184.1 C437.2 184.1 436.1 183.6 435.0 183.2 C434.0 182.7 433.2 181.8 432.2 181.2 C431.3 180.7 430.1 180.4 429.2 179.7 C428.3 179.1 427.5 178.1 427.0 177.1 C426.4 176.2 426.1 174.5 425.9 173.9 M363.5 177.0 C363.1 176.6 361.6 175.6 361.0 174.7 C360.3 173.8 359.9 172.7 359.7 171.6 C359.6 170.5 359.8 169.3 359.9 168.2 C360.0 167.0 360.2 165.9 360.5 164.8 C360.8 163.7 361.2 162.7 361.6 161.6 C362.0 160.6 362.8 159.0 363.0 158.5 M365.5 169.0 C365.9 169.4 366.9 170.8 367.5 171.8 C368.0 172.8 368.2 174.0 368.8 174.9 C369.3 175.9 370.6 177.1 370.9 177.5 M469.5 169.0 C469.2 169.4 468.3 170.9 467.4 171.6 C466.6 172.3 465.4 172.7 464.5 173.3 C463.5 174.0 462.6 174.6 461.8 175.4 C461.0 176.2 459.6 177.2 459.7 178.1 C459.7 178.9 461.1 180.1 462.0 180.6 C463.0 181.0 464.8 180.8 465.4 180.8 M381.5 127.0 C381.9 126.5 383.2 125.4 383.8 124.4 C384.3 123.4 384.2 121.8 385.0 121.2 C385.7 120.6 387.8 120.9 388.3 120.8 M353.5 179.0 C354.0 179.3 355.3 180.5 356.3 180.9 C357.3 181.4 358.6 181.4 359.6 181.9 C360.6 182.4 361.2 183.5 362.2 184.0 C363.3 184.4 364.5 184.4 365.6 184.5 C366.7 184.6 367.9 184.7 369.0 184.5 C370.1 184.3 371.2 183.8 372.2 183.3 C373.2 182.8 374.6 181.9 375.1 181.6 M459.5 137.0 C459.5 137.5 459.6 139.5 459.1 140.3 C458.5 141.2 457.1 141.4 456.2 142.1 C455.3 142.8 454.8 144.1 453.8 144.5 C452.8 144.9 451.5 144.6 450.4 144.4 C449.3 144.1 448.0 143.8 447.3 143.0 C446.5 142.3 446.5 140.9 446.0 139.9 C445.5 138.9 444.4 137.5 444.1 137.1 M467.5 161.0 C468.0 161.2 469.5 162.1 470.5 162.6 C471.5 163.1 472.6 163.5 473.5 164.1 C474.5 164.8 475.4 165.6 476.0 166.5 C476.6 167.4 477.0 168.6 477.2 169.7 C477.5 170.8 477.8 172.0 477.6 173.1 C477.4 174.1 476.4 175.6 476.2 176.2 M367.5 155.0 C367.1 154.6 366.1 153.2 365.2 152.5 C364.3 151.9 362.6 151.4 362.1 151.1 M411.5 171.0 C412.0 170.7 413.5 169.9 414.5 169.3 C415.4 168.6 416.1 167.5 417.1 167.1 C418.2 166.8 419.4 167.0 420.5 167.1 C421.7 167.2 423.3 167.8 423.8 168.0 M433.5 163.0 C433.9 163.4 434.7 165.0 435.5 165.7 C436.3 166.5 437.4 167.2 438.4 167.5 C439.5 167.9 440.7 167.8 441.8 167.8 C442.9 167.9 444.3 168.1 445.2 167.6 C446.0 167.0 446.2 165.4 446.9 164.6 C447.7 163.8 449.3 163.0 449.7 162.7 M447.5 153.0 C448.1 153.2 449.6 154.1 450.7 154.2 C451.8 154.3 452.9 153.6 454.0 153.3 C455.1 153.0 456.7 152.6 457.3 152.4 M391.5 189.0 C391.7 189.5 392.5 191.1 392.5 192.2 C392.5 193.3 391.3 194.7 391.7 195.5 C392.0 196.3 394.3 196.6 394.8 196.8 M439.5 159.0 C439.7 158.4 440.5 156.8 440.5 155.7 C440.5 154.6 440.0 153.5 439.7 152.4 C439.4 151.3 439.0 149.7 438.8 149.1 M395.5 175.0 C395.1 174.6 393.4 173.2 392.9 172.8 M385.5 183.0 C385.9 182.5 386.8 181.0 387.7 180.4 C388.6 179.7 390.3 179.2 390.8 179.0 M409.5 129.0 C410.1 128.9 411.8 128.7 412.9 128.6 C414.1 128.6 415.6 129.2 416.3 128.6 C417.1 128.1 417.3 126.5 417.4 125.4 C417.4 124.3 416.5 123.3 416.4 122.1 C416.3 121.0 416.9 119.7 416.5 118.7 C416.2 117.8 414.7 116.6 414.3 116.2 M355.5 135.0 C355.8 135.5 356.1 137.4 356.8 138.1 C357.6 138.9 358.9 139.4 360.0 139.4 C361.0 139.4 362.2 138.7 363.1 138.2 C364.1 137.6 364.7 136.4 365.7 135.9 C366.7 135.5 368.0 135.1 369.0 135.3 C370.0 135.6 371.3 137.1 371.7 137.4 M353.5 159.0 C353.2 159.4 352.0 160.7 351.4 161.6 C350.8 162.6 350.6 163.9 349.9 164.6 C349.1 165.4 347.8 165.5 346.8 166.2 C345.9 166.8 344.6 167.5 344.3 168.5 C344.0 169.4 344.4 170.9 345.0 171.8 C345.5 172.8 347.0 173.8 347.4 174.2 M471.5 181.0 C471.3 180.5 470.3 178.4 470.0 177.9 M371.5 159.0 C372.0 158.6 373.4 157.6 374.1 156.8 C374.8 155.9 375.6 154.9 375.8 153.8 C376.1 152.8 375.7 151.0 375.7 150.4 M381.5 163.0 C382.0 162.7 383.6 161.9 384.4 161.2 C385.2 160.4 386.1 158.9 386.4 158.4 M363.5 129.0 C363.2 129.5 362.1 131.4 361.8 131.9 M343.5 157.0 C344.1 157.0 346.4 157.0 346.9 157.1 M383.5 193.0 C383.0 192.8 381.4 192.2 380.4 191.8 C379.3 191.3 378.4 190.6 377.3 190.3 C376.2 190.1 374.5 190.3 373.9 190.3 M373.5 169.0 C373.5 168.4 373.1 166.6 373.4 165.6 C373.8 164.6 375.2 163.3 375.5 162.9 M439.5 119.0 C439.3 119.5 438.6 121.1 438.0 122.0 C437.3 122.9 436.3 123.5 435.6 124.4 C434.8 125.2 433.9 126.1 433.5 127.1 C433.0 128.1 433.2 129.4 432.8 130.4 C432.3 131.4 431.5 132.3 430.8 133.1 C430.0 134.0 429.1 134.7 428.3 135.4 C427.5 136.2 426.2 137.4 425.8 137.8 M405.5 149.0 C405.9 148.5 407.5 147.4 407.8 146.4 C408.0 145.4 407.1 143.7 406.9 143.1 M419.5 173.0 C419.2 173.4 418.6 175.2 417.7 175.8 C416.8 176.4 415.0 176.5 414.4 176.6 M391.5 139.0 C391.5 138.4 391.7 136.7 391.5 135.6 C391.3 134.5 391.2 133.1 390.5 132.3 C389.8 131.5 388.5 130.8 387.5 130.7 C386.4 130.7 384.8 131.7 384.3 132.0 M403.5 175.0 C403.3 174.4 402.5 172.3 402.3 171.8 M435.5 175.0 C435.0 174.8 432.8 174.2 432.3 174.1 M353.5 151.0 C354.1 151.2 355.9 151.6 356.6 152.3 C357.4 153.1 357.8 154.9 358.1 155.4 M447.5 173.0 C448.0 172.6 449.4 171.7 450.1 170.8 C450.9 169.9 451.5 168.3 451.8 167.8 M463.5 153.0 C464.0 152.7 465.6 151.4 466.6 151.5 C467.6 151.6 469.0 153.1 469.4 153.4 M375.5 125.0 C375.0 125.1 373.4 125.7 372.3 126.0 C371.2 126.3 369.5 126.6 369.0 126.7 M449.5 135.0 C449.9 135.4 451.4 137.1 451.7 137.6 M423.5 117.0 C424.1 117.0 426.4 117.2 426.9 117.2 M353.5 143.0 C353.0 143.2 351.3 143.6 350.4 144.2 C349.4 144.8 348.3 145.4 347.7 146.3 C347.2 147.2 347.2 149.1 347.1 149.7 M403.5 193.0 C403.0 193.0 400.7 193.0 400.1 193.1 M409.5 197.0 C410.1 196.8 412.3 196.2 412.8 196.1 M445.5 123.0 C446.1 122.8 448.2 122.1 448.8 121.9"/></g><g fill="none" stroke="#7a6a10" stroke-linecap="round" stroke-linejoin="round" opacity="0.55"><path d="M385.2 172.8 C386.5 171.2 391.2 167.0 392.9 163.4 C394.6 159.9 394.3 155.4 395.1 151.6 C395.9 147.7 396.6 144.2 397.9 140.5 C399.1 136.8 400.7 132.6 402.8 129.5 C404.9 126.4 409.3 123.3 410.6 122.0" stroke-width="9.0"/><path d="M395.1 147.4 C396.3 146.5 400.3 143.7 402.3 141.9 C404.3 140.1 406.4 137.3 407.2 136.4" stroke-width="8.5"/><path d="M410.6 159.0 C411.5 157.1 414.3 151.2 416.1 147.4 C417.8 143.6 419.2 140.0 421.0 136.4 C422.9 132.8 425.1 128.6 427.1 125.9 C429.1 123.2 432.2 121.3 433.2 120.4" stroke-width="8.5"/><path d="M421.6 161.8 C422.8 159.6 426.0 153.5 428.8 149.1 C431.5 144.7 435.3 138.5 438.1 135.3 C441.0 132.1 443.2 130.5 445.9 129.8 C448.5 129.0 452.8 130.7 454.1 130.9" stroke-width="7.5"/><path d="M380.2 170.0 C383.3 169.8 392.6 169.8 399.0 168.4 C405.3 167.0 412.3 164.1 418.3 161.8 C424.3 159.5 432.1 155.8 434.8 154.6" stroke-width="8.5"/><path d="M412.8 167.3 C414.6 167.0 420.3 166.4 423.8 165.3 C427.2 164.2 431.8 161.4 433.4 160.7" stroke-width="6.5"/><path d="M358.1 148.0 C359.7 147.2 364.0 144.3 367.2 143.6 C370.5 142.8 375.7 143.6 377.4 143.6" stroke-width="7.5"/><path d="M361.7 152.4 C362.9 152.2 367.5 151.7 368.6 151.6" stroke-width="6.5"/><path d="M443.7 175.6 C445.4 175.5 450.2 174.3 454.1 175.0 C458.1 175.7 465.2 179.1 467.4 180.0" stroke-width="6.7"/><path d="M400.3 124.0 C401.5 123.4 406.1 121.0 407.2 120.4" stroke-width="6.5"/><path d="M433.4 144.7 C433.9 146.3 435.7 152.7 436.2 154.3" stroke-width="6.5"/></g><g mask="url(#gm_)"><g fill="none" stroke="#ecd01e" stroke-linecap="round" stroke-linejoin="round"><path d="M385.2 172.8 C386.5 171.2 391.2 167.0 392.9 163.4 C394.6 159.9 394.3 155.4 395.1 151.6 C395.9 147.7 396.6 144.2 397.9 140.5 C399.1 136.8 400.7 132.6 402.8 129.5 C404.9 126.4 409.3 123.3 410.6 122.0" stroke-width="10.1"/><path d="M395.1 147.4 C396.3 146.5 400.3 143.7 402.3 141.9 C404.3 140.1 406.4 137.3 407.2 136.4" stroke-width="9.6"/><path d="M410.6 159.0 C411.5 157.1 414.3 151.2 416.1 147.4 C417.8 143.6 419.2 140.0 421.0 136.4 C422.9 132.8 425.1 128.6 427.1 125.9 C429.1 123.2 432.2 121.3 433.2 120.4" stroke-width="9.6"/><path d="M421.6 161.8 C422.8 159.6 426.0 153.5 428.8 149.1 C431.5 144.7 435.3 138.5 438.1 135.3 C441.0 132.1 443.2 130.5 445.9 129.8 C448.5 129.0 452.8 130.7 454.1 130.9" stroke-width="8.6"/><path d="M380.2 170.0 C383.3 169.8 392.6 169.8 399.0 168.4 C405.3 167.0 412.3 164.1 418.3 161.8 C424.3 159.5 432.1 155.8 434.8 154.6" stroke-width="9.6"/><path d="M412.8 167.3 C414.6 167.0 420.3 166.4 423.8 165.3 C427.2 164.2 431.8 161.4 433.4 160.7" stroke-width="7.6"/><path d="M358.1 148.0 C359.7 147.2 364.0 144.3 367.2 143.6 C370.5 142.8 375.7 143.6 377.4 143.6" stroke-width="8.6"/><path d="M361.7 152.4 C362.9 152.2 367.5 151.7 368.6 151.6" stroke-width="7.6"/><path d="M443.7 175.6 C445.4 175.5 450.2 174.3 454.1 175.0 C458.1 175.7 465.2 179.1 467.4 180.0" stroke-width="7.800000000000001"/><path d="M400.3 124.0 C401.5 123.4 406.1 121.0 407.2 120.4" stroke-width="7.6"/><path d="M433.4 144.7 C433.9 146.3 435.7 152.7 436.2 154.3" stroke-width="7.6"/></g></g></g><ellipse cx="365.9" cy="152.1" rx="3.8" ry="2.8" fill="#2a8a8a"/><ellipse cx="365.6" cy="151.6" rx="2.1" ry="1.3" fill="#5ab8a8"/><ellipse cx="394.0" cy="144.1" rx="3.8" ry="2.8" fill="#2a8a8a"/><ellipse cx="393.7" cy="143.6" rx="2.1" ry="1.3" fill="#5ab8a8"/><ellipse cx="411.9" cy="127.6" rx="3.4" ry="2.4" fill="#2a8a8a"/><ellipse cx="411.6" cy="127.1" rx="1.9" ry="1.2" fill="#5ab8a8"/><ellipse cx="423.0" cy="141.3" rx="4.1" ry="3.1" fill="#2a8a8a"/><ellipse cx="422.7" cy="140.8" rx="2.3" ry="1.5" fill="#5ab8a8"/><ellipse cx="443.7" cy="131.1" rx="3.1" ry="2.1" fill="#2a8a8a"/><ellipse cx="443.4" cy="130.6" rx="1.7" ry="1.0" fill="#5ab8a8"/><ellipse cx="453.3" cy="176.4" rx="3.4" ry="2.4" fill="#2a8a8a"/><ellipse cx="453.0" cy="175.9" rx="1.9" ry="1.2" fill="#5ab8a8"/><ellipse cx="385.2" cy="168.1" rx="3.1" ry="2.4" fill="#2a8a8a"/><ellipse cx="384.9" cy="167.6" rx="1.7" ry="1.2" fill="#5ab8a8"/><g stroke="#0a0a0a" stroke-width="1.15"><path d="M350.7 135.0 L364.5 150.2"/><path d="M379.7 117.1 L394.0 142.4"/><path d="M407.8 111.0 L411.9 125.9"/><path d="M442.6 111.6 L423.8 139.1"/><path d="M456.9 125.9 L444.5 130.3"/><path d="M461.0 190.2 L454.1 177.8"/><path d="M371.9 192.1 L384.3 169.5"/></g><text x="338.5" y="132.2" font-size="10.9" textLength="31.4" lengthAdjust="spacingAndGlyphs" fill="#080808" stroke="#080808" stroke-width="0.22">DLPFC</text><text x="370.5" y="115.2" font-size="10.9" textLength="21.4" lengthAdjust="spacingAndGlyphs" fill="#080808" stroke="#080808" stroke-width="0.22">PrCS</text><text x="402.2" y="109.2" font-size="10.9" textLength="15.8" lengthAdjust="spacingAndGlyphs" fill="#080808" stroke="#080808" stroke-width="0.22">MC</text><text x="438.0" y="109.4" font-size="10.9" textLength="15.2" lengthAdjust="spacingAndGlyphs" fill="#080808" stroke="#080808" stroke-width="0.22">TPJ</text><text x="459.2" y="126.0" font-size="10.9" textLength="20.6" lengthAdjust="spacingAndGlyphs" fill="#080808" stroke="#080808" stroke-width="0.22">PPC</text><text x="458.0" y="197.0" font-size="10.9" textLength="8.6" lengthAdjust="spacingAndGlyphs" fill="#080808" stroke="#080808" stroke-width="0.22">IT</text><text x="345.3" y="199.5" font-size="10.9" textLength="30.8" lengthAdjust="spacingAndGlyphs" fill="#080808" stroke="#080808" stroke-width="0.22">VLPFC</text></g><text x="290.5" y="365.2" font-size="11.6" textLength="63.6" lengthAdjust="spacingAndGlyphs" fill="#111" stroke="#111" stroke-width="0.25">Dipole wave</text><text x="299.5" y="379.0" font-size="11.6" textLength="42.1" lengthAdjust="spacingAndGlyphs" fill="#111" stroke="#111" stroke-width="0.25">gaICERP</text><path d="M362.3 361.7 H392.8" stroke="#1c1c8e" stroke-width="1.7"/><path d="M362.3 376.2 H392.8" stroke="#e21a1a" stroke-width="1.7"/><rect x="499.3" y="344.3" width="4.6" height="48.4" fill="url(#cb)" stroke="#1a1a2a" stroke-width="0.8"/><text x="495.8" y="347.6" font-size="7.6" text-anchor="end" fill="#222">[a.U.]</text><text x="506.6" y="348.0" font-size="7.3" fill="#222">1</text><text x="506.8" y="371.8" font-size="7.3" fill="#222">0</text><text x="505.3" y="394.6" font-size="7.3" fill="#222">-1</text><text x="597.9" y="369.3" font-size="11.6" textLength="82.1" lengthAdjust="spacingAndGlyphs" fill="#111" stroke="#111" stroke-width="0.25">eyeblink artifact</text><text x="609.5" y="384.3" font-size="11.6" textLength="61.0" lengthAdjust="spacingAndGlyphs" fill="#111" stroke="#111" stroke-width="0.25">topography</text><text x="709.5" y="346.5" font-size="13.2" textLength="14.7" lengthAdjust="spacingAndGlyphs" fill="#111" stroke="#111" stroke-width="0.25">SC</text><text x="757.2" y="346.5" font-size="13.2" textLength="49.3" lengthAdjust="spacingAndGlyphs" fill="#111" stroke="#111" stroke-width="0.25">gaIC #32</text><g clip-path="url(#c17)"><g filter="url(#jet)"><rect x="693.0999999999999" y="345.1" width="48.4" height="48.4" fill="rgb(125,125,125)"/><ellipse cx="716.3" cy="372.3" rx="17.0" ry="15.0" transform="rotate(0 716.3 372.3)" fill="url(#g17_0)"/><ellipse cx="717.3" cy="351.3" rx="27.0" ry="12.5" transform="rotate(0 717.3 351.3)" fill="url(#g17_1)"/><ellipse cx="717.3" cy="347.3" rx="16.0" ry="9.5" transform="rotate(0 717.3 347.3)" fill="url(#g17_2)"/></g></g><g fill="none" stroke="#5a5a5a" stroke-width="0.6"><circle cx="717.3" cy="370.0" r="16.2"/><path d="M713.9 354.2 L717.3 350.4 L720.7 354.2"/><path stroke-width="0.85" d="M701.3 366.0 h-1.1 q-1.0 0 -1.0 1.1 v5.8 q0 1.1 1.0 1.1 h1.1"/><path stroke-width="0.85" d="M733.3 366.0 h1.1 q1.0 0 1.0 1.1 v5.8 q0 1.1 -1.0 1.1 h-1.1"/></g><g fill="#111" fill-opacity="0.8"><circle cx="707.9" cy="352.6" r="0.45"/><circle cx="712.6" cy="352.7" r="0.45"/><circle cx="717.3" cy="352.8" r="0.45"/><circle cx="722.0" cy="352.7" r="0.45"/><circle cx="726.7" cy="352.6" r="0.45"/><circle cx="702.9" cy="356.8" r="0.45"/><circle cx="707.7" cy="356.9" r="0.45"/><circle cx="712.5" cy="357.0" r="0.45"/><circle cx="717.3" cy="357.1" r="0.45"/><circle cx="722.1" cy="357.0" r="0.45"/><circle cx="726.9" cy="356.9" r="0.45"/><circle cx="731.7" cy="356.8" r="0.45"/><circle cx="700.2" cy="361.0" r="0.45"/><circle cx="704.5" cy="361.2" r="0.45"/><circle cx="708.8" cy="361.3" r="0.45"/><circle cx="713.0" cy="361.3" r="0.45"/><circle cx="717.3" cy="361.4" r="0.45"/><circle cx="721.6" cy="361.3" r="0.45"/><circle cx="725.8" cy="361.3" r="0.45"/><circle cx="730.1" cy="361.2" r="0.45"/><circle cx="734.4" cy="361.0" r="0.45"/><circle cx="698.8" cy="365.3" r="0.45"/><circle cx="703.4" cy="365.4" r="0.45"/><circle cx="708.0" cy="365.5" r="0.45"/><circle cx="712.7" cy="365.6" r="0.45"/><circle cx="717.3" cy="365.7" r="0.45"/><circle cx="721.9" cy="365.6" r="0.45"/><circle cx="726.6" cy="365.5" r="0.45"/><circle cx="731.2" cy="365.4" r="0.45"/><circle cx="735.8" cy="365.3" r="0.45"/><circle cx="698.3" cy="370.0" r="0.45"/><circle cx="703.1" cy="370.0" r="0.45"/><circle cx="707.8" cy="370.0" r="0.45"/><circle cx="712.6" cy="370.0" r="0.45"/><circle cx="717.3" cy="370.0" r="0.45"/><circle cx="722.0" cy="370.0" r="0.45"/><circle cx="726.8" cy="370.0" r="0.45"/><circle cx="731.5" cy="370.0" r="0.45"/><circle cx="736.3" cy="370.0" r="0.45"/><circle cx="698.8" cy="374.7" r="0.45"/><circle cx="703.4" cy="374.6" r="0.45"/><circle cx="708.0" cy="374.5" r="0.45"/><circle cx="712.7" cy="374.4" r="0.45"/><circle cx="717.3" cy="374.3" r="0.45"/><circle cx="721.9" cy="374.4" r="0.45"/><circle cx="726.6" cy="374.5" r="0.45"/><circle cx="731.2" cy="374.6" r="0.45"/><circle cx="735.8" cy="374.7" r="0.45"/><circle cx="700.2" cy="379.0" r="0.45"/><circle cx="704.5" cy="378.8" r="0.45"/><circle cx="708.8" cy="378.7" r="0.45"/><circle cx="713.0" cy="378.7" r="0.45"/><circle cx="717.3" cy="378.6" r="0.45"/><circle cx="721.6" cy="378.7" r="0.45"/><circle cx="725.8" cy="378.7" r="0.45"/><circle cx="730.1" cy="378.8" r="0.45"/><circle cx="734.4" cy="379.0" r="0.45"/><circle cx="702.9" cy="383.2" r="0.45"/><circle cx="707.7" cy="383.1" r="0.45"/><circle cx="712.5" cy="383.0" r="0.45"/><circle cx="717.3" cy="382.9" r="0.45"/><circle cx="722.1" cy="383.0" r="0.45"/><circle cx="726.9" cy="383.1" r="0.45"/><circle cx="731.7" cy="383.2" r="0.45"/><circle cx="707.9" cy="387.4" r="0.45"/><circle cx="712.6" cy="387.3" r="0.45"/><circle cx="717.3" cy="387.2" r="0.45"/><circle cx="722.0" cy="387.3" r="0.45"/><circle cx="726.7" cy="387.4" r="0.45"/></g><g clip-path="url(#c18)"><g filter="url(#jet)"><rect x="757.6" y="346.4" width="49.2" height="49.2" fill="rgb(128,128,128)"/><ellipse cx="765.2" cy="369.0" rx="13.0" ry="18.0" transform="rotate(0 765.2 369.0)" fill="url(#g18_0)"/><ellipse cx="793.2" cy="375.0" rx="13.0" ry="11.0" transform="rotate(0 793.2 375.0)" fill="url(#g18_1)"/><ellipse cx="792.2" cy="388.0" rx="18.0" ry="12.0" transform="rotate(0 792.2 388.0)" fill="url(#g18_2)"/><ellipse cx="782.2" cy="353.0" rx="27.0" ry="12.5" transform="rotate(0 782.2 353.0)" fill="url(#g18_3)"/><ellipse cx="782.2" cy="349.0" rx="16.0" ry="9.5" transform="rotate(0 782.2 349.0)" fill="url(#g18_4)"/></g></g><g fill="none" stroke="#5a5a5a" stroke-width="0.6"><circle cx="782.2" cy="371.7" r="16.2"/><path d="M778.8 355.9 L782.2 352.1 L785.6 355.9"/><path stroke-width="0.85" d="M766.2 367.7 h-1.1 q-1.0 0 -1.0 1.1 v5.8 q0 1.1 1.0 1.1 h1.1"/><path stroke-width="0.85" d="M798.2 367.7 h1.1 q1.0 0 1.0 1.1 v5.8 q0 1.1 -1.0 1.1 h-1.1"/></g><g fill="#111" fill-opacity="0.8"><circle cx="772.8" cy="354.3" r="0.45"/><circle cx="777.5" cy="354.4" r="0.45"/><circle cx="782.2" cy="354.5" r="0.45"/><circle cx="786.9" cy="354.4" r="0.45"/><circle cx="791.6" cy="354.3" r="0.45"/><circle cx="767.8" cy="358.5" r="0.45"/><circle cx="772.6" cy="358.6" r="0.45"/><circle cx="777.4" cy="358.7" r="0.45"/><circle cx="782.2" cy="358.8" r="0.45"/><circle cx="787.0" cy="358.7" r="0.45"/><circle cx="791.8" cy="358.6" r="0.45"/><circle cx="796.6" cy="358.5" r="0.45"/><circle cx="765.1" cy="362.7" r="0.45"/><circle cx="769.4" cy="362.9" r="0.45"/><circle cx="773.7" cy="363.0" r="0.45"/><circle cx="777.9" cy="363.0" r="0.45"/><circle cx="782.2" cy="363.1" r="0.45"/><circle cx="786.5" cy="363.0" r="0.45"/><circle cx="790.7" cy="363.0" r="0.45"/><circle cx="795.0" cy="362.9" r="0.45"/><circle cx="799.3" cy="362.7" r="0.45"/><circle cx="763.7" cy="367.0" r="0.45"/><circle cx="768.3" cy="367.1" r="0.45"/><circle cx="772.9" cy="367.2" r="0.45"/><circle cx="777.6" cy="367.3" r="0.45"/><circle cx="782.2" cy="367.4" r="0.45"/><circle cx="786.8" cy="367.3" r="0.45"/><circle cx="791.5" cy="367.2" r="0.45"/><circle cx="796.1" cy="367.1" r="0.45"/><circle cx="800.7" cy="367.0" r="0.45"/><circle cx="763.2" cy="371.7" r="0.45"/><circle cx="768.0" cy="371.7" r="0.45"/><circle cx="772.7" cy="371.7" r="0.45"/><circle cx="777.5" cy="371.7" r="0.45"/><circle cx="782.2" cy="371.7" r="0.45"/><circle cx="786.9" cy="371.7" r="0.45"/><circle cx="791.7" cy="371.7" r="0.45"/><circle cx="796.4" cy="371.7" r="0.45"/><circle cx="801.2" cy="371.7" r="0.45"/><circle cx="763.7" cy="376.4" r="0.45"/><circle cx="768.3" cy="376.3" r="0.45"/><circle cx="772.9" cy="376.2" r="0.45"/><circle cx="777.6" cy="376.1" r="0.45"/><circle cx="782.2" cy="376.0" r="0.45"/><circle cx="786.8" cy="376.1" r="0.45"/><circle cx="791.5" cy="376.2" r="0.45"/><circle cx="796.1" cy="376.3" r="0.45"/><circle cx="800.7" cy="376.4" r="0.45"/><circle cx="765.1" cy="380.7" r="0.45"/><circle cx="769.4" cy="380.5" r="0.45"/><circle cx="773.7" cy="380.4" r="0.45"/><circle cx="777.9" cy="380.4" r="0.45"/><circle cx="782.2" cy="380.3" r="0.45"/><circle cx="786.5" cy="380.4" r="0.45"/><circle cx="790.7" cy="380.4" r="0.45"/><circle cx="795.0" cy="380.5" r="0.45"/><circle cx="799.3" cy="380.7" r="0.45"/><circle cx="767.8" cy="384.9" r="0.45"/><circle cx="772.6" cy="384.8" r="0.45"/><circle cx="777.4" cy="384.7" r="0.45"/><circle cx="782.2" cy="384.6" r="0.45"/><circle cx="787.0" cy="384.7" r="0.45"/><circle cx="791.8" cy="384.8" r="0.45"/><circle cx="796.6" cy="384.9" r="0.45"/><circle cx="772.8" cy="389.1" r="0.45"/><circle cx="777.5" cy="389.0" r="0.45"/><circle cx="782.2" cy="388.9" r="0.45"/><circle cx="786.9" cy="389.0" r="0.45"/><circle cx="791.6" cy="389.1" r="0.45"/></g></svg></body></html>
